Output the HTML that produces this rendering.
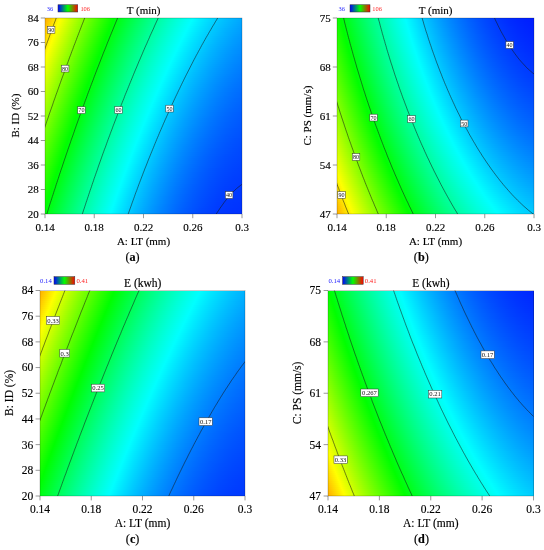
<!DOCTYPE html>
<html><head><meta charset="utf-8"><title>Contour plots</title>
<style>
html,body{margin:0;padding:0;background:#fff}
body{width:544px;height:550px;position:relative;overflow:hidden;font-family:"Liberation Serif",serif}
.h{position:absolute;overflow:hidden}
.h i{display:block;width:100%}
svg{position:absolute;left:0;top:0}
text{font-family:"Liberation Serif",serif;fill:#000;stroke:#000;stroke-width:.15}
.lb{text-anchor:middle;fill:#111;stroke:none}
.bx{fill:#fff;stroke:#333;stroke-width:.5}
.ct{fill:none;stroke:#181818;stroke-width:.55}
.tk{stroke:#555;stroke-width:.6;fill:none}
</style></head><body>
<div class="h" style="left:45px;top:18px;width:197px;height:196px"><i style="height:2px;background:linear-gradient(90deg,#ffad00 0%,#ffdb00 4.17%,#ff0 7.57%,#f7ff00 8.33%,#cf0 12.5%,#a3ff00 16.67%,#7bff00 20.83%,#54ff00 25%,#30ff00 29.17%,#0cff00 33.33%,#0f0 34.84%,#00ff15 37.5%,#00ff36 41.67%,#00ff54 45.83%,#00ff71 50%,#00ff8d 54.17%,#00ffa7 58.33%,#00ffbf 62.5%,#00ffd6 66.67%,#00ffec 70.83%,#0ff 74.81%,#00feff 75%,#00ecff 79.17%,#00dbff 83.33%,#0cf 87.5%,#00beff 91.67%,#00b2ff 95.83%,#00a7ff 100%)"></i><i style="height:2px;background:linear-gradient(90deg,#ffb100 0%,#ffdf00 4.17%,#ff0 7.19%,#f3ff00 8.33%,#c8ff00 12.5%,#9fff00 16.67%,#7f0 20.83%,#51ff00 25%,#2cff00 29.17%,#09ff00 33.33%,#0f0 34.43%,#00ff19 37.5%,#00ff39 41.67%,#00ff57 45.83%,#00ff74 50%,#00ff90 54.17%,#0fa 58.33%,#00ffc2 62.5%,#00ffd9 66.67%,#0fe 70.83%,#0ff 74.28%,#00fcff 75%,#00e9ff 79.17%,#00d9ff 83.33%,#00c9ff 87.5%,#00bcff 91.67%,#00b0ff 95.83%,#00a5ff 100%)"></i><i style="height:2px;background:linear-gradient(90deg,#ffb500 0%,#ffe300 4.17%,#ff0 6.81%,#efff00 8.33%,#c4ff00 12.5%,#9bff00 16.67%,#73ff00 20.83%,#4dff00 25%,#29ff00 29.17%,#06ff00 33.33%,#0f0 34.01%,#00ff1c 37.5%,#00ff3c 41.67%,#00ff5a 45.83%,#0f7 50%,#00ff93 54.17%,#00ffad 58.33%,#00ffc5 62.5%,#00ffdc 66.67%,#00fff1 70.83%,#0ff 73.75%,#00f9ff 75%,#00e7ff 79.17%,#00d6ff 83.33%,#00c7ff 87.5%,#00baff 91.67%,#00aeff 95.83%,#00a3ff 100%)"></i><i style="height:2px;background:linear-gradient(90deg,#ffb900 0%,#ffe700 4.17%,#ff0 6.43%,#ebff00 8.33%,#c0ff00 12.5%,#97ff00 16.67%,#70ff00 20.83%,#4aff00 25%,#25ff00 29.17%,#02ff00 33.33%,#0f0 33.6%,#00ff1f 37.5%,#00ff3f 41.67%,#00ff5e 45.83%,#00ff7a 50%,#00ff96 54.17%,#00ffaf 58.33%,#00ffc8 62.5%,#00ffde 66.67%,#00fff4 70.83%,#0ff 73.22%,#00f7ff 75%,#00e5ff 79.17%,#00d4ff 83.33%,#00c5ff 87.5%,#00b8ff 91.67%,#00acff 95.83%,#00a1ff 100%)"></i><i style="height:2px;background:linear-gradient(90deg,#ffbd00 0%,#ffeb00 4.17%,#ff0 6.05%,#e7ff00 8.33%,#bcff00 12.5%,#93ff00 16.67%,#6cff00 20.83%,#46ff00 25%,#2f0 29.17%,#0f0 33.18%,#00ff01 33.33%,#00ff23 37.5%,#00ff42 41.67%,#00ff61 45.83%,#00ff7d 50%,#0f9 54.17%,#00ffb2 58.33%,#00ffca 62.5%,#00ffe1 66.67%,#00fff6 70.83%,#0ff 72.69%,#00f4ff 75%,#00e2ff 79.17%,#00d2ff 83.33%,#00c3ff 87.5%,#00b6ff 91.67%,#0af 95.83%,#009fff 100%)"></i><i style="height:2px;background:linear-gradient(90deg,#ffc100 0%,#ffef00 4.17%,#ff0 5.67%,#e3ff00 8.33%,#b9ff00 12.5%,#90ff00 16.67%,#68ff00 20.83%,#42ff00 25%,#1eff00 29.17%,#0f0 32.77%,#00ff05 33.33%,#00ff26 37.5%,#00ff46 41.67%,#00ff64 45.83%,#00ff80 50%,#00ff9c 54.17%,#00ffb5 58.33%,#00ffcd 62.5%,#00ffe4 66.67%,#00fff9 70.83%,#0ff 72.17%,#00f2ff 75%,#00e0ff 79.17%,#00d0ff 83.33%,#00c1ff 87.5%,#00b3ff 91.67%,#00a8ff 95.83%,#009dff 100%)"></i><i style="height:2px;background:linear-gradient(90deg,#ffc600 0%,#fff300 4.17%,#ff0 5.29%,#dfff00 8.33%,#b5ff00 12.5%,#8cff00 16.67%,#65ff00 20.83%,#3fff00 25%,#1bff00 29.17%,#0f0 32.36%,#00ff08 33.33%,#00ff29 37.5%,#00ff49 41.67%,#00ff67 45.83%,#00ff83 50%,#00ff9e 54.17%,#00ffb8 58.33%,#00ffd0 62.5%,#00ffe6 66.67%,#00fffb 70.83%,#0ff 71.65%,#00f0ff 75%,#00deff 79.17%,#00cdff 83.33%,#00bfff 87.5%,#00b1ff 91.67%,#00a6ff 95.83%,#009cff 100%)"></i><i style="height:2px;background:linear-gradient(90deg,#ffca00 0%,#fff700 4.17%,#ff0 4.91%,#dbff00 8.33%,#b1ff00 12.5%,#8f0 16.67%,#61ff00 20.83%,#3bff00 25%,#17ff00 29.17%,#0f0 31.95%,#00ff0b 33.33%,#00ff2c 37.5%,#00ff4c 41.67%,#00ff6a 45.83%,#00ff86 50%,#00ffa1 54.17%,#0fb 58.33%,#00ffd2 62.5%,#00ffe9 66.67%,#00fffe 70.83%,#0ff 71.13%,#00edff 75%,#00dbff 79.17%,#00cbff 83.33%,#00bdff 87.5%,#00afff 91.67%,#00a4ff 95.83%,#009aff 100%)"></i><i style="height:2px;background:linear-gradient(90deg,#ffce00 0%,#fffb00 4.17%,#ff0 4.54%,#d7ff00 8.33%,#adff00 12.5%,#84ff00 16.67%,#5dff00 20.83%,#38ff00 25%,#14ff00 29.17%,#0f0 31.54%,#00ff0f 33.33%,#00ff30 37.5%,#00ff4f 41.67%,#00ff6d 45.83%,#00ff89 50%,#00ffa4 54.17%,#00ffbd 58.33%,#00ffd5 62.5%,#00ffeb 66.67%,#0ff 70.62%,#00feff 70.83%,#00ebff 75%,#00d9ff 79.17%,#00c9ff 83.33%,#0bf 87.5%,#00aeff 91.67%,#00a2ff 95.83%,#0098ff 100%)"></i><i style="height:2px;background:linear-gradient(90deg,#ffd200 0%,#ff0 4.16%,#ff0 4.17%,#d3ff00 8.33%,#a9ff00 12.5%,#81ff00 16.67%,#5aff00 20.83%,#34ff00 25%,#10ff00 29.17%,#0f0 31.13%,#00ff12 33.33%,#0f3 37.5%,#00ff52 41.67%,#00ff70 45.83%,#00ff8c 50%,#00ffa7 54.17%,#00ffc0 58.33%,#00ffd8 62.5%,#0fe 66.67%,#0ff 70.1%,#00fcff 70.83%,#00e8ff 75%,#00d7ff 79.17%,#00c7ff 83.33%,#00b8ff 87.5%,#00acff 91.67%,#00a0ff 95.83%,#0096ff 100%)"></i><i style="height:2px;background:linear-gradient(90deg,#ffd600 0%,#ff0 3.79%,#fbff00 4.17%,#d0ff00 8.33%,#a6ff00 12.5%,#7dff00 16.67%,#56ff00 20.83%,#31ff00 25%,#0dff00 29.17%,#0f0 30.73%,#00ff15 33.33%,#00ff36 37.5%,#0f5 41.67%,#00ff73 45.83%,#00ff8f 50%,#0fa 54.17%,#00ffc3 58.33%,#00ffda 62.5%,#00fff0 66.67%,#0ff 69.6%,#00f9ff 70.83%,#00e6ff 75%,#00d5ff 79.17%,#00c5ff 83.33%,#00b6ff 87.5%,#0af 91.67%,#009eff 95.83%,#0095ff 100%)"></i><i style="height:2px;background:linear-gradient(90deg,#ffda00 0%,#ff0 3.42%,#f7ff00 4.17%,#cf0 8.33%,#a2ff00 12.5%,#79ff00 16.67%,#53ff00 20.83%,#2dff00 25%,#0aff00 29.17%,#0f0 30.32%,#00ff19 33.33%,#00ff39 37.5%,#00ff58 41.67%,#00ff76 45.83%,#00ff92 50%,#00ffad 54.17%,#00ffc6 58.33%,#0fd 62.5%,#00fff3 66.67%,#0ff 69.09%,#00f7ff 70.83%,#00e4ff 75%,#00d2ff 79.17%,#00c3ff 83.33%,#00b4ff 87.5%,#00a8ff 91.67%,#009cff 95.83%,#0093ff 100%)"></i><i style="height:2px;background:linear-gradient(90deg,#ffde00 0%,#ff0 3.04%,#f3ff00 4.17%,#c8ff00 8.33%,#9eff00 12.5%,#76ff00 16.67%,#4fff00 20.83%,#2aff00 25%,#06ff00 29.17%,#0f0 29.92%,#00ff1c 33.33%,#00ff3c 37.5%,#00ff5b 41.67%,#00ff79 45.83%,#00ff95 50%,#00ffaf 54.17%,#00ffc8 58.33%,#00ffe0 62.5%,#00fff5 66.67%,#0ff 68.59%,#00f4ff 70.83%,#00e1ff 75%,#00d0ff 79.17%,#00c1ff 83.33%,#00b2ff 87.5%,#00a6ff 91.67%,#009bff 95.83%,#0091ff 100%)"></i><i style="height:2px;background:linear-gradient(90deg,#ffe200 0%,#ff0 2.67%,#efff00 4.17%,#c4ff00 8.33%,#9aff00 12.5%,#72ff00 16.67%,#4cff00 20.83%,#26ff00 25%,#03ff00 29.17%,#0f0 29.51%,#00ff1f 33.33%,#00ff40 37.5%,#00ff5f 41.67%,#00ff7c 45.83%,#00ff98 50%,#00ffb2 54.17%,#00ffcb 58.33%,#00ffe2 62.5%,#00fff8 66.67%,#0ff 68.09%,#00f2ff 70.83%,#00dfff 75%,#00ceff 79.17%,#00beff 83.33%,#00b0ff 87.5%,#00a4ff 91.67%,#09f 95.83%,#008fff 100%)"></i><i style="height:2px;background:linear-gradient(90deg,#ffe600 0%,#ff0 2.3%,#ebff00 4.17%,#c0ff00 8.33%,#97ff00 12.5%,#6eff00 16.67%,#48ff00 20.83%,#23ff00 25%,#0f0 29.11%,#0f0 29.17%,#0f2 33.33%,#00ff43 37.5%,#00ff62 41.67%,#00ff7f 45.83%,#00ff9b 50%,#00ffb5 54.17%,#00ffce 58.33%,#00ffe5 62.5%,#00fffa 66.67%,#0ff 67.59%,#00efff 70.83%,#0df 75%,#0cf 79.17%,#00bcff 83.33%,#00aeff 87.5%,#00a2ff 91.67%,#0097ff 95.83%,#008eff 100%)"></i><i style="height:2px;background:linear-gradient(90deg,#ffea00 0%,#ff0 1.93%,#e7ff00 4.17%,#bcff00 8.33%,#93ff00 12.5%,#6bff00 16.67%,#4f0 20.83%,#20ff00 25%,#0f0 28.71%,#00ff04 29.17%,#00ff26 33.33%,#00ff46 37.5%,#00ff65 41.67%,#00ff82 45.83%,#00ff9e 50%,#00ffb8 54.17%,#00ffd0 58.33%,#00ffe7 62.5%,#00fffd 66.67%,#0ff 67.09%,#00edff 70.83%,#00dbff 75%,#00caff 79.17%,#00baff 83.33%,#00acff 87.5%,#00a0ff 91.67%,#0095ff 95.83%,#008cff 100%)"></i><i style="height:2px;background:linear-gradient(90deg,#fe0 0%,#ff0 1.56%,#e3ff00 4.17%,#b9ff00 8.33%,#8fff00 12.5%,#67ff00 16.67%,#41ff00 20.83%,#1cff00 25%,#0f0 28.31%,#00ff07 29.17%,#00ff29 33.33%,#00ff49 37.5%,#00ff68 41.67%,#00ff85 45.83%,#00ffa0 50%,#00ffba 54.17%,#00ffd3 58.33%,#00ffea 62.5%,#0ff 66.6%,#0ff 66.67%,#00ebff 70.83%,#00d8ff 75%,#00c8ff 79.17%,#00b8ff 83.33%,#0af 87.5%,#009eff 91.67%,#0093ff 95.83%,#008aff 100%)"></i><i style="height:2px;background:linear-gradient(90deg,#fff200 0%,#ff0 1.19%,#dfff00 4.17%,#b5ff00 8.33%,#8bff00 12.5%,#64ff00 16.67%,#3dff00 20.83%,#19ff00 25%,#0f0 27.92%,#00ff0a 29.17%,#00ff2c 33.33%,#00ff4c 37.5%,#00ff6b 41.67%,#0f8 45.83%,#00ffa3 50%,#00ffbd 54.17%,#00ffd6 58.33%,#00ffec 62.5%,#0ff 66.11%,#00fcff 66.67%,#00e8ff 70.83%,#00d6ff 75%,#00c5ff 79.17%,#00b6ff 83.33%,#00a8ff 87.5%,#009cff 91.67%,#0092ff 95.83%,#0089ff 100%)"></i><i style="height:2px;background:linear-gradient(90deg,#fff600 0%,#ff0 0.83%,#dcff00 4.17%,#b1ff00 8.33%,#8f0 12.5%,#60ff00 16.67%,#3aff00 20.83%,#15ff00 25%,#0f0 27.52%,#00ff0e 29.17%,#00ff2f 33.33%,#00ff4f 37.5%,#00ff6e 41.67%,#00ff8b 45.83%,#00ffa6 50%,#00ffc0 54.17%,#00ffd8 58.33%,#00ffef 62.5%,#0ff 65.62%,#00faff 66.67%,#00e6ff 70.83%,#00d4ff 75%,#00c3ff 79.17%,#00b4ff 83.33%,#00a7ff 87.5%,#009aff 91.67%,#0090ff 95.83%,#0087ff 100%)"></i><i style="height:2px;background:linear-gradient(90deg,#fffa00 0%,#ff0 0.46%,#d8ff00 4.17%,#adff00 8.33%,#84ff00 12.5%,#5cff00 16.67%,#37ff00 20.83%,#12ff00 25%,#0f0 27.12%,#0f1 29.17%,#00ff32 33.33%,#00ff52 37.5%,#00ff71 41.67%,#00ff8d 45.83%,#00ffa9 50%,#00ffc3 54.17%,#00ffdb 58.33%,#00fff1 62.5%,#0ff 65.14%,#00f7ff 66.67%,#00e4ff 70.83%,#00d2ff 75%,#00c1ff 79.17%,#00b2ff 83.33%,#00a5ff 87.5%,#09f 91.67%,#008eff 95.83%,#0085ff 100%)"></i><i style="height:2px;background:linear-gradient(90deg,#fffe00 0%,#ff0 0.09%,#d4ff00 4.17%,#a9ff00 8.33%,#80ff00 12.5%,#59ff00 16.67%,#3f0 20.83%,#0fff00 25%,#0f0 26.73%,#00ff14 29.17%,#00ff36 33.33%,#0f5 37.5%,#00ff74 41.67%,#00ff90 45.83%,#00ffac 50%,#00ffc5 54.17%,#0fd 58.33%,#00fff4 62.5%,#0ff 64.65%,#00f5ff 66.67%,#00e2ff 70.83%,#00cfff 75%,#00bfff 79.17%,#00b0ff 83.33%,#00a3ff 87.5%,#0097ff 91.67%,#008dff 95.83%,#0084ff 100%)"></i><i style="height:2px;background:linear-gradient(90deg,#fcff00 0%,#d0ff00 4.17%,#a6ff00 8.33%,#7dff00 12.5%,#5f0 16.67%,#30ff00 20.83%,#0bff00 25%,#0f0 26.33%,#00ff17 29.17%,#00ff39 33.33%,#00ff58 37.5%,#0f7 41.67%,#00ff93 45.83%,#00ffae 50%,#00ffc8 54.17%,#00ffe0 58.33%,#00fff6 62.5%,#0ff 64.17%,#00f3ff 66.67%,#00dfff 70.83%,#00cdff 75%,#00bdff 79.17%,#00aeff 83.33%,#00a1ff 87.5%,#0095ff 91.67%,#008bff 95.83%,#0082ff 100%)"></i><i style="height:2px;background:linear-gradient(90deg,#f8ff00 0%,#cf0 4.17%,#a2ff00 8.33%,#79ff00 12.5%,#52ff00 16.67%,#2cff00 20.83%,#08ff00 25%,#0f0 25.94%,#00ff1b 29.17%,#00ff3c 33.33%,#00ff5b 37.5%,#00ff7a 41.67%,#00ff96 45.83%,#00ffb1 50%,#00ffcb 54.17%,#00ffe2 58.33%,#00fff9 62.5%,#0ff 63.7%,#00f0ff 66.67%,#0df 70.83%,#00cbff 75%,#0bf 79.17%,#00acff 83.33%,#009fff 87.5%,#0093ff 91.67%,#0089ff 95.83%,#0081ff 100%)"></i><i style="height:2px;background:linear-gradient(90deg,#f4ff00 0%,#c8ff00 4.17%,#9eff00 8.33%,#76ff00 12.5%,#4eff00 16.67%,#29ff00 20.83%,#05ff00 25%,#0f0 25.55%,#00ff1e 29.17%,#00ff3f 33.33%,#00ff5e 37.5%,#00ff7c 41.67%,#0f9 45.83%,#00ffb4 50%,#00ffcd 54.17%,#00ffe5 58.33%,#00fffb 62.5%,#0ff 63.22%,#0ef 66.67%,#00dbff 70.83%,#00c9ff 75%,#00b9ff 79.17%,#0af 83.33%,#009dff 87.5%,#0091ff 91.67%,#0087ff 95.83%,#007fff 100%)"></i><i style="height:2px;background:linear-gradient(90deg,#f0ff00 0%,#c5ff00 4.17%,#9bff00 8.33%,#72ff00 12.5%,#4bff00 16.67%,#25ff00 20.83%,#01ff00 25%,#0f0 25.16%,#00ff21 29.17%,#00ff42 33.33%,#00ff61 37.5%,#00ff7f 41.67%,#00ff9c 45.83%,#00ffb7 50%,#00ffd0 54.17%,#00ffe8 58.33%,#00fffe 62.5%,#0ff 62.75%,#00ecff 66.67%,#00d8ff 70.83%,#00c7ff 75%,#00b7ff 79.17%,#00a8ff 83.33%,#009bff 87.5%,#0090ff 91.67%,#0086ff 95.83%,#007dff 100%)"></i><i style="height:2px;background:linear-gradient(90deg,#edff00 0%,#c1ff00 4.17%,#97ff00 8.33%,#6eff00 12.5%,#47ff00 16.67%,#2f0 20.83%,#0f0 24.77%,#00ff02 25%,#00ff24 29.17%,#00ff45 33.33%,#00ff64 37.5%,#00ff82 41.67%,#00ff9e 45.83%,#00ffb9 50%,#00ffd2 54.17%,#00ffea 58.33%,#0ff 62.28%,#00feff 62.5%,#00e9ff 66.67%,#00d6ff 70.83%,#00c5ff 75%,#00b5ff 79.17%,#00a6ff 83.33%,#09f 87.5%,#008eff 91.67%,#0084ff 95.83%,#007cff 100%)"></i><i style="height:2px;background:linear-gradient(90deg,#e9ff00 0%,#bdff00 4.17%,#93ff00 8.33%,#6bff00 12.5%,#4f0 16.67%,#1fff00 20.83%,#0f0 24.38%,#00ff05 25%,#00ff28 29.17%,#00ff48 33.33%,#00ff67 37.5%,#00ff85 41.67%,#00ffa1 45.83%,#00ffbc 50%,#00ffd5 54.17%,#00ffed 58.33%,#0ff 61.81%,#00fbff 62.5%,#00e7ff 66.67%,#00d4ff 70.83%,#00c3ff 75%,#00b3ff 79.17%,#00a4ff 83.33%,#0098ff 87.5%,#008cff 91.67%,#0083ff 95.83%,#007aff 100%)"></i><i style="height:2px;background:linear-gradient(90deg,#e5ff00 0%,#b9ff00 4.17%,#90ff00 8.33%,#67ff00 12.5%,#40ff00 16.67%,#1bff00 20.83%,#0f0 24%,#00ff08 25%,#00ff2b 29.17%,#00ff4b 33.33%,#00ff6a 37.5%,#0f8 41.67%,#00ffa4 45.83%,#00ffbf 50%,#00ffd8 54.17%,#00ffef 58.33%,#0ff 61.34%,#00f9ff 62.5%,#00e5ff 66.67%,#00d2ff 70.83%,#00c0ff 75%,#00b1ff 79.17%,#00a2ff 83.33%,#0096ff 87.5%,#008bff 91.67%,#0081ff 95.83%,#0079ff 100%)"></i><i style="height:2px;background:linear-gradient(90deg,#e1ff00 0%,#b6ff00 4.17%,#8cff00 8.33%,#64ff00 12.5%,#3dff00 16.67%,#18ff00 20.83%,#0f0 23.61%,#00ff0c 25%,#00ff2e 29.17%,#00ff4e 33.33%,#00ff6d 37.5%,#00ff8b 41.67%,#00ffa7 45.83%,#00ffc1 50%,#00ffda 54.17%,#00fff1 58.33%,#0ff 60.88%,#00f7ff 62.5%,#00e2ff 66.67%,#00d0ff 70.83%,#00beff 75%,#00afff 79.17%,#00a1ff 83.33%,#0094ff 87.5%,#0089ff 91.67%,#007fff 95.83%,#07f 100%)"></i><i style="height:2px;background:linear-gradient(90deg,#df0 0%,#b2ff00 4.17%,#8f0 8.33%,#60ff00 12.5%,#3aff00 16.67%,#15ff00 20.83%,#0f0 23.23%,#00ff0f 25%,#00ff31 29.17%,#00ff51 33.33%,#00ff70 37.5%,#00ff8e 41.67%,#0fa 45.83%,#00ffc4 50%,#0fd 54.17%,#00fff4 58.33%,#0ff 60.41%,#00f4ff 62.5%,#00e0ff 66.67%,#00cdff 70.83%,#00bcff 75%,#00adff 79.17%,#009fff 83.33%,#0092ff 87.5%,#0087ff 91.67%,#007eff 95.83%,#0076ff 100%)"></i><i style="height:2px;background:linear-gradient(90deg,#d9ff00 0%,#aeff00 4.17%,#85ff00 8.33%,#5dff00 12.5%,#36ff00 16.67%,#1f0 20.83%,#0f0 22.84%,#00ff12 25%,#00ff34 29.17%,#00ff54 33.33%,#00ff73 37.5%,#00ff91 41.67%,#00ffac 45.83%,#00ffc7 50%,#00ffdf 54.17%,#00fff6 58.33%,#0ff 59.95%,#00f2ff 62.5%,#00deff 66.67%,#00cbff 70.83%,#00baff 75%,#00abff 79.17%,#009dff 83.33%,#0090ff 87.5%,#0085ff 91.67%,#007cff 95.83%,#0074ff 100%)"></i><i style="height:2px;background:linear-gradient(90deg,#d6ff00 0%,#abff00 4.17%,#81ff00 8.33%,#59ff00 12.5%,#3f0 16.67%,#0eff00 20.83%,#0f0 22.46%,#00ff15 25%,#00ff37 29.17%,#00ff57 33.33%,#00ff76 37.5%,#00ff93 41.67%,#00ffaf 45.83%,#00ffc9 50%,#00ffe2 54.17%,#00fff9 58.33%,#0ff 59.5%,#00f0ff 62.5%,#00dcff 66.67%,#00c9ff 70.83%,#00b8ff 75%,#00a9ff 79.17%,#009bff 83.33%,#008fff 87.5%,#0084ff 91.67%,#007bff 95.83%,#0073ff 100%)"></i><i style="height:2px;background:linear-gradient(90deg,#d2ff00 0%,#a7ff00 4.17%,#7eff00 8.33%,#56ff00 12.5%,#2fff00 16.67%,#0bff00 20.83%,#0f0 22.08%,#00ff19 25%,#00ff3a 29.17%,#00ff5a 33.33%,#00ff79 37.5%,#00ff96 41.67%,#00ffb2 45.83%,#0fc 50%,#00ffe4 54.17%,#00fffb 58.33%,#0ff 59.04%,#00edff 62.5%,#00d9ff 66.67%,#00c7ff 70.83%,#00b6ff 75%,#00a7ff 79.17%,#09f 83.33%,#008dff 87.5%,#0082ff 91.67%,#0079ff 95.83%,#0071ff 100%)"></i><i style="height:2px;background:linear-gradient(90deg,#ceff00 0%,#a3ff00 4.17%,#7aff00 8.33%,#52ff00 12.5%,#2cff00 16.67%,#07ff00 20.83%,#0f0 21.7%,#00ff1c 25%,#00ff3d 29.17%,#00ff5d 33.33%,#00ff7c 37.5%,#0f9 41.67%,#00ffb4 45.83%,#00ffce 50%,#00ffe7 54.17%,#00fffe 58.33%,#0ff 58.59%,#00ebff 62.5%,#00d7ff 66.67%,#00c5ff 70.83%,#00b4ff 75%,#00a5ff 79.17%,#0097ff 83.33%,#008bff 87.5%,#0081ff 91.67%,#07f 95.83%,#0070ff 100%)"></i><i style="height:2px;background:linear-gradient(90deg,#caff00 0%,#a0ff00 4.17%,#7f0 8.33%,#4fff00 12.5%,#29ff00 16.67%,#04ff00 20.83%,#0f0 21.32%,#00ff1f 25%,#00ff40 29.17%,#00ff60 33.33%,#00ff7f 37.5%,#00ff9c 41.67%,#00ffb7 45.83%,#00ffd1 50%,#00ffe9 54.17%,#0ff 58.14%,#00feff 58.33%,#00e9ff 62.5%,#00d5ff 66.67%,#00c3ff 70.83%,#00b2ff 75%,#00a3ff 79.17%,#0096ff 83.33%,#0089ff 87.5%,#007fff 91.67%,#0076ff 95.83%,#006fff 100%)"></i><i style="height:2px;background:linear-gradient(90deg,#c7ff00 0%,#9cff00 4.17%,#73ff00 8.33%,#4bff00 12.5%,#25ff00 16.67%,#01ff00 20.83%,#0f0 20.94%,#0f2 25%,#00ff43 29.17%,#00ff63 33.33%,#00ff82 37.5%,#00ff9f 41.67%,#00ffba 45.83%,#00ffd4 50%,#00ffec 54.17%,#0ff 57.69%,#00fcff 58.33%,#00e6ff 62.5%,#00d3ff 66.67%,#00c1ff 70.83%,#00b0ff 75%,#00a1ff 79.17%,#0094ff 83.33%,#08f 87.5%,#007dff 91.67%,#0074ff 95.83%,#006dff 100%)"></i><i style="height:2px;background:linear-gradient(90deg,#c3ff00 0%,#98ff00 4.17%,#6fff00 8.33%,#48ff00 12.5%,#2f0 16.67%,#0f0 20.56%,#00ff02 20.83%,#00ff25 25%,#00ff47 29.17%,#0f6 33.33%,#00ff85 37.5%,#00ffa1 41.67%,#00ffbc 45.83%,#00ffd6 50%,#0fe 54.17%,#0ff 57.24%,#00f9ff 58.33%,#00e4ff 62.5%,#00d1ff 66.67%,#00bfff 70.83%,#00aeff 75%,#009fff 79.17%,#0092ff 83.33%,#0086ff 87.5%,#007cff 91.67%,#0073ff 95.83%,#006cff 100%)"></i><i style="height:2px;background:linear-gradient(90deg,#bfff00 0%,#95ff00 4.17%,#6cff00 8.33%,#45ff00 12.5%,#1fff00 16.67%,#0f0 20.19%,#00ff05 20.83%,#00ff28 25%,#00ff4a 29.17%,#00ff69 33.33%,#00ff87 37.5%,#00ffa4 41.67%,#00ffbf 45.83%,#00ffd9 50%,#00fff1 54.17%,#0ff 56.8%,#00f7ff 58.33%,#00e2ff 62.5%,#00ceff 66.67%,#00bdff 70.83%,#00acff 75%,#009dff 79.17%,#0090ff 83.33%,#0084ff 87.5%,#007aff 91.67%,#0071ff 95.83%,#006aff 100%)"></i><i style="height:2px;background:linear-gradient(90deg,#bcff00 0%,#91ff00 4.17%,#68ff00 8.33%,#41ff00 12.5%,#1bff00 16.67%,#0f0 19.81%,#00ff09 20.83%,#00ff2b 25%,#00ff4d 29.17%,#00ff6c 33.33%,#00ff8a 37.5%,#00ffa7 41.67%,#00ffc2 45.83%,#00ffdb 50%,#00fff3 54.17%,#0ff 56.35%,#00f5ff 58.33%,#00e0ff 62.5%,#0cf 66.67%,#0bf 70.83%,#0af 75%,#009cff 79.17%,#008eff 83.33%,#0083ff 87.5%,#0079ff 91.67%,#0070ff 95.83%,#0069ff 100%)"></i><i style="height:2px;background:linear-gradient(90deg,#b8ff00 0%,#8eff00 4.17%,#65ff00 8.33%,#3eff00 12.5%,#18ff00 16.67%,#0f0 19.44%,#00ff0c 20.83%,#00ff2e 25%,#00ff50 29.17%,#00ff6f 33.33%,#00ff8d 37.5%,#00ffa9 41.67%,#00ffc4 45.83%,#00ffde 50%,#00fff5 54.17%,#0ff 55.91%,#00f2ff 58.33%,#0df 62.5%,#00caff 66.67%,#00b9ff 70.83%,#00a8ff 75%,#009aff 79.17%,#008dff 83.33%,#0081ff 87.5%,#07f 91.67%,#006fff 95.83%,#0068ff 100%)"></i><i style="height:2px;background:linear-gradient(90deg,#b4ff00 0%,#8aff00 4.17%,#62ff00 8.33%,#3aff00 12.5%,#15ff00 16.67%,#0f0 19.07%,#00ff0f 20.83%,#00ff32 25%,#00ff53 29.17%,#00ff72 33.33%,#00ff90 37.5%,#00ffac 41.67%,#00ffc7 45.83%,#00ffe0 50%,#00fff8 54.17%,#0ff 55.47%,#00f0ff 58.33%,#00dbff 62.5%,#00c8ff 66.67%,#00b7ff 70.83%,#00a6ff 75%,#0098ff 79.17%,#008bff 83.33%,#007fff 87.5%,#0076ff 91.67%,#006dff 95.83%,#06f 100%)"></i><i style="height:2px;background:linear-gradient(90deg,#b1ff00 0%,#87ff00 4.17%,#5eff00 8.33%,#37ff00 12.5%,#12ff00 16.67%,#0f0 18.69%,#00ff12 20.83%,#00ff35 25%,#0f5 29.17%,#00ff75 33.33%,#00ff93 37.5%,#00ffaf 41.67%,#00ffc9 45.83%,#00ffe3 50%,#00fffa 54.17%,#0ff 55.04%,#0ef 58.33%,#00d9ff 62.5%,#00c6ff 66.67%,#00b5ff 70.83%,#00a5ff 75%,#0096ff 79.17%,#0089ff 83.33%,#007eff 87.5%,#0074ff 91.67%,#006cff 95.83%,#0065ff 100%)"></i><i style="height:2px;background:linear-gradient(90deg,#adff00 0%,#83ff00 4.17%,#5bff00 8.33%,#34ff00 12.5%,#0eff00 16.67%,#0f0 18.32%,#00ff15 20.83%,#00ff38 25%,#00ff58 29.17%,#00ff78 33.33%,#00ff95 37.5%,#00ffb1 41.67%,#0fc 45.83%,#00ffe5 50%,#00fffd 54.17%,#0ff 54.6%,#00ebff 58.33%,#00d7ff 62.5%,#00c4ff 66.67%,#00b3ff 70.83%,#00a3ff 75%,#0094ff 79.17%,#08f 83.33%,#007cff 87.5%,#0073ff 91.67%,#006aff 95.83%,#0064ff 100%)"></i><i style="height:2px;background:linear-gradient(90deg,#a9ff00 0%,#7fff00 4.17%,#57ff00 8.33%,#30ff00 12.5%,#0bff00 16.67%,#0f0 17.95%,#00ff18 20.83%,#00ff3b 25%,#00ff5b 29.17%,#00ff7a 33.33%,#00ff98 37.5%,#00ffb4 41.67%,#00ffcf 45.83%,#00ffe8 50%,#0ff 54.17%,#00e9ff 58.33%,#00d5ff 62.5%,#00c2ff 66.67%,#00b1ff 70.83%,#00a1ff 75%,#0093ff 79.17%,#0086ff 83.33%,#007bff 87.5%,#0071ff 91.67%,#0069ff 95.83%,#0062ff 100%)"></i><i style="height:2px;background:linear-gradient(90deg,#a6ff00 0%,#7cff00 4.17%,#54ff00 8.33%,#2dff00 12.5%,#08ff00 16.67%,#0f0 17.59%,#00ff1c 20.83%,#00ff3e 25%,#00ff5e 29.17%,#00ff7d 33.33%,#00ff9b 37.5%,#00ffb7 41.67%,#00ffd1 45.83%,#00ffea 50%,#0ff 53.74%,#00fdff 54.17%,#00e7ff 58.33%,#00d3ff 62.5%,#00c0ff 66.67%,#00afff 70.83%,#009fff 75%,#0091ff 79.17%,#0084ff 83.33%,#0079ff 87.5%,#0070ff 91.67%,#0068ff 95.83%,#0061ff 100%)"></i><i style="height:2px;background:linear-gradient(90deg,#a2ff00 0%,#79ff00 4.17%,#50ff00 8.33%,#2aff00 12.5%,#05ff00 16.67%,#0f0 17.22%,#00ff1f 20.83%,#00ff41 25%,#00ff61 29.17%,#00ff80 33.33%,#00ff9d 37.5%,#00ffb9 41.67%,#00ffd4 45.83%,#00ffec 50%,#0ff 53.31%,#00faff 54.17%,#00e5ff 58.33%,#00d0ff 62.5%,#00beff 66.67%,#00adff 70.83%,#009dff 75%,#008fff 79.17%,#0083ff 83.33%,#0078ff 87.5%,#006eff 91.67%,#06f 95.83%,#0060ff 100%)"></i><i style="height:2px;background:linear-gradient(90deg,#9fff00 0%,#75ff00 4.17%,#4dff00 8.33%,#27ff00 12.5%,#02ff00 16.67%,#0f0 16.85%,#0f2 20.83%,#0f4 25%,#00ff64 29.17%,#00ff83 33.33%,#00ffa0 37.5%,#00ffbc 41.67%,#00ffd6 45.83%,#00ffef 50%,#0ff 52.88%,#00f8ff 54.17%,#00e2ff 58.33%,#00ceff 62.5%,#00bcff 66.67%,#00abff 70.83%,#009bff 75%,#008dff 79.17%,#0081ff 83.33%,#0076ff 87.5%,#006dff 91.67%,#0065ff 95.83%,#005fff 100%)"></i><i style="height:2px;background:linear-gradient(90deg,#9bff00 0%,#72ff00 4.17%,#4aff00 8.33%,#23ff00 12.5%,#0f0 16.49%,#00ff02 16.67%,#00ff25 20.83%,#00ff47 25%,#00ff67 29.17%,#00ff86 33.33%,#00ffa3 37.5%,#00ffbf 41.67%,#00ffd9 45.83%,#00fff1 50%,#0ff 52.46%,#00f6ff 54.17%,#00e0ff 58.33%,#0cf 62.5%,#00baff 66.67%,#00a9ff 70.83%,#09f 75%,#008cff 79.17%,#007fff 83.33%,#0074ff 87.5%,#006bff 91.67%,#0063ff 95.83%,#005dff 100%)"></i><i style="height:2px;background:linear-gradient(90deg,#98ff00 0%,#6eff00 4.17%,#46ff00 8.33%,#20ff00 12.5%,#0f0 16.12%,#00ff05 16.67%,#00ff28 20.83%,#00ff4a 25%,#00ff6a 29.17%,#0f8 33.33%,#00ffa6 37.5%,#00ffc1 41.67%,#00ffdb 45.83%,#00fff4 50%,#0ff 52.03%,#00f3ff 54.17%,#00deff 58.33%,#00caff 62.5%,#00b8ff 66.67%,#00a7ff 70.83%,#0098ff 75%,#008aff 79.17%,#007eff 83.33%,#0073ff 87.5%,#006aff 91.67%,#0062ff 95.83%,#005cff 100%)"></i><i style="height:2px;background:linear-gradient(90deg,#94ff00 0%,#6bff00 4.17%,#43ff00 8.33%,#1dff00 12.5%,#0f0 15.76%,#00ff08 16.67%,#00ff2b 20.83%,#00ff4d 25%,#00ff6d 29.17%,#00ff8b 33.33%,#00ffa8 37.5%,#00ffc4 41.67%,#00ffde 45.83%,#00fff6 50%,#0ff 51.61%,#00f1ff 54.17%,#00dcff 58.33%,#00c8ff 62.5%,#00b6ff 66.67%,#00a5ff 70.83%,#0096ff 75%,#08f 79.17%,#007cff 83.33%,#0071ff 87.5%,#0068ff 91.67%,#0061ff 95.83%,#005bff 100%)"></i><i style="height:2px;background:linear-gradient(90deg,#90ff00 0%,#67ff00 4.17%,#40ff00 8.33%,#1aff00 12.5%,#0f0 15.4%,#00ff0b 16.67%,#00ff2e 20.83%,#00ff50 25%,#00ff70 29.17%,#00ff8e 33.33%,#00ffab 37.5%,#00ffc6 41.67%,#00ffe0 45.83%,#00fff8 50%,#0ff 51.19%,#00efff 54.17%,#00daff 58.33%,#00c6ff 62.5%,#00b4ff 66.67%,#00a3ff 70.83%,#0094ff 75%,#0086ff 79.17%,#007aff 83.33%,#0070ff 87.5%,#0067ff 91.67%,#0060ff 95.83%,#005aff 100%)"></i><i style="height:2px;background:linear-gradient(90deg,#8dff00 0%,#64ff00 4.17%,#3cff00 8.33%,#16ff00 12.5%,#0f0 15.03%,#00ff0e 16.67%,#00ff31 20.83%,#00ff52 25%,#00ff72 29.17%,#00ff91 33.33%,#00ffad 37.5%,#00ffc9 41.67%,#00ffe2 45.83%,#00fffb 50%,#0ff 50.78%,#00edff 54.17%,#00d8ff 58.33%,#00c4ff 62.5%,#00b2ff 66.67%,#00a1ff 70.83%,#0092ff 75%,#0085ff 79.17%,#0079ff 83.33%,#006eff 87.5%,#06f 91.67%,#005eff 95.83%,#0058ff 100%)"></i><i style="height:2px;background:linear-gradient(90deg,#89ff00 0%,#60ff00 4.17%,#39ff00 8.33%,#13ff00 12.5%,#0f0 14.67%,#0f1 16.67%,#00ff34 20.83%,#0f5 25%,#00ff75 29.17%,#00ff93 33.33%,#00ffb0 37.5%,#00ffcb 41.67%,#00ffe5 45.83%,#00fffd 50%,#0ff 50.36%,#00eaff 54.17%,#00d5ff 58.33%,#00c2ff 62.5%,#00b0ff 66.67%,#009fff 70.83%,#0091ff 75%,#0083ff 79.17%,#07f 83.33%,#006dff 87.5%,#0064ff 91.67%,#005dff 95.83%,#0057ff 100%)"></i><i style="height:2px;background:linear-gradient(90deg,#86ff00 0%,#5dff00 4.17%,#36ff00 8.33%,#10ff00 12.5%,#0f0 14.31%,#00ff14 16.67%,#00ff37 20.83%,#00ff58 25%,#00ff78 29.17%,#00ff96 33.33%,#00ffb3 37.5%,#00ffce 41.67%,#00ffe7 45.83%,#0ff 49.94%,#0ff 50%,#00e8ff 54.17%,#00d3ff 58.33%,#00c0ff 62.5%,#00aeff 66.67%,#009eff 70.83%,#008fff 75%,#0082ff 79.17%,#0076ff 83.33%,#006cff 87.5%,#0063ff 91.67%,#005cff 95.83%,#0056ff 100%)"></i><i style="height:2px;background:linear-gradient(90deg,#83ff00 0%,#5aff00 4.17%,#3f0 8.33%,#0dff00 12.5%,#0f0 13.96%,#00ff17 16.67%,#00ff3a 20.83%,#00ff5b 25%,#00ff7b 29.17%,#0f9 33.33%,#00ffb5 37.5%,#00ffd0 41.67%,#00ffea 45.83%,#0ff 49.53%,#00fcff 50%,#00e6ff 54.17%,#00d1ff 58.33%,#00beff 62.5%,#00acff 66.67%,#009cff 70.83%,#008dff 75%,#0080ff 79.17%,#0074ff 83.33%,#006aff 87.5%,#0062ff 91.67%,#005bff 95.83%,#05f 100%)"></i><i style="height:2px;background:linear-gradient(90deg,#7fff00 0%,#56ff00 4.17%,#2fff00 8.33%,#0aff00 12.5%,#0f0 13.6%,#00ff1a 16.67%,#00ff3d 20.83%,#00ff5e 25%,#00ff7d 29.17%,#00ff9b 33.33%,#00ffb8 37.5%,#00ffd3 41.67%,#00ffec 45.83%,#0ff 49.12%,#00faff 50%,#00e4ff 54.17%,#00cfff 58.33%,#00bcff 62.5%,#0af 66.67%,#009aff 70.83%,#008bff 75%,#007eff 79.17%,#0073ff 83.33%,#0069ff 87.5%,#0060ff 91.67%,#0059ff 95.83%,#0054ff 100%)"></i><i style="height:2px;background:linear-gradient(90deg,#7cff00 0%,#53ff00 4.17%,#2cff00 8.33%,#07ff00 12.5%,#0f0 13.24%,#00ff1d 16.67%,#00ff40 20.83%,#00ff61 25%,#00ff80 29.17%,#00ff9e 33.33%,#00ffba 37.5%,#00ffd5 41.67%,#0fe 45.83%,#0ff 48.71%,#00f8ff 50%,#00e2ff 54.17%,#00cdff 58.33%,#00baff 62.5%,#00a8ff 66.67%,#0098ff 70.83%,#008aff 75%,#007dff 79.17%,#0071ff 83.33%,#0067ff 87.5%,#005fff 91.67%,#0058ff 95.83%,#0053ff 100%)"></i><i style="height:2px;background:linear-gradient(90deg,#78ff00 0%,#50ff00 4.17%,#29ff00 8.33%,#03ff00 12.5%,#0f0 12.89%,#00ff21 16.67%,#00ff43 20.83%,#00ff64 25%,#00ff83 29.17%,#00ffa1 33.33%,#00ffbd 37.5%,#00ffd8 41.67%,#00fff1 45.83%,#0ff 48.31%,#00f6ff 50%,#00dfff 54.17%,#00cbff 58.33%,#00b8ff 62.5%,#00a6ff 66.67%,#0096ff 70.83%,#08f 75%,#007bff 79.17%,#0070ff 83.33%,#06f 87.5%,#005eff 91.67%,#0057ff 95.83%,#0052ff 100%)"></i><i style="height:2px;background:linear-gradient(90deg,#75ff00 0%,#4cff00 4.17%,#26ff00 8.33%,#0f0 12.5%,#0f0 12.53%,#00ff24 16.67%,#00ff46 20.83%,#0f6 25%,#00ff86 29.17%,#00ffa3 33.33%,#00ffbf 37.5%,#00ffda 41.67%,#00fff3 45.83%,#0ff 47.9%,#00f3ff 50%,#0df 54.17%,#00c9ff 58.33%,#00b6ff 62.5%,#00a5ff 66.67%,#0095ff 70.83%,#0086ff 75%,#007aff 79.17%,#006eff 83.33%,#0065ff 87.5%,#005cff 91.67%,#0056ff 95.83%,#0051ff 100%)"></i><i style="height:2px;background:linear-gradient(90deg,#71ff00 0%,#49ff00 4.17%,#2f0 8.33%,#0f0 12.18%,#00ff03 12.5%,#00ff27 16.67%,#00ff49 20.83%,#00ff69 25%,#0f8 29.17%,#00ffa6 33.33%,#00ffc2 37.5%,#0fd 41.67%,#00fff5 45.83%,#0ff 47.5%,#00f1ff 50%,#00dbff 54.17%,#00c7ff 58.33%,#00b4ff 62.5%,#00a3ff 66.67%,#0093ff 70.83%,#0085ff 75%,#0078ff 79.17%,#006dff 83.33%,#0063ff 87.5%,#005bff 91.67%,#05f 95.83%,#0050ff 100%)"></i><i style="height:2px;background:linear-gradient(90deg,#6eff00 0%,#46ff00 4.17%,#1fff00 8.33%,#0f0 11.83%,#00ff06 12.5%,#00ff2a 16.67%,#00ff4c 20.83%,#00ff6c 25%,#00ff8b 29.17%,#00ffa9 33.33%,#00ffc5 37.5%,#00ffdf 41.67%,#00fff8 45.83%,#0ff 47.1%,#00efff 50%,#00d9ff 54.17%,#00c5ff 58.33%,#00b2ff 62.5%,#00a1ff 66.67%,#0091ff 70.83%,#0083ff 75%,#0076ff 79.17%,#006bff 83.33%,#0062ff 87.5%,#005aff 91.67%,#0053ff 95.83%,#004eff 100%)"></i><i style="height:2px;background:linear-gradient(90deg,#6bff00 0%,#43ff00 4.17%,#1cff00 8.33%,#0f0 11.48%,#00ff09 12.5%,#00ff2c 16.67%,#00ff4e 20.83%,#00ff6f 25%,#00ff8e 29.17%,#00ffab 33.33%,#00ffc7 37.5%,#00ffe1 41.67%,#00fffa 45.83%,#0ff 46.69%,#00edff 50%,#00d7ff 54.17%,#00c3ff 58.33%,#00b0ff 62.5%,#009fff 66.67%,#0090ff 70.83%,#0081ff 75%,#0075ff 79.17%,#006aff 83.33%,#0061ff 87.5%,#0059ff 91.67%,#0052ff 95.83%,#004dff 100%)"></i><i style="height:2px;background:linear-gradient(90deg,#67ff00 0%,#3fff00 4.17%,#19ff00 8.33%,#0f0 11.13%,#00ff0c 12.5%,#00ff2f 16.67%,#00ff51 20.83%,#00ff72 25%,#00ff90 29.17%,#00ffae 33.33%,#00ffc9 37.5%,#00ffe4 41.67%,#00fffc 45.83%,#0ff 46.3%,#00ebff 50%,#00d5ff 54.17%,#00c1ff 58.33%,#00aeff 62.5%,#009dff 66.67%,#008eff 70.83%,#0080ff 75%,#0073ff 79.17%,#0069ff 83.33%,#005fff 87.5%,#0057ff 91.67%,#0051ff 95.83%,#004cff 100%)"></i><i style="height:2px;background:linear-gradient(90deg,#64ff00 0%,#3cff00 4.17%,#16ff00 8.33%,#0f0 10.78%,#00ff0f 12.5%,#00ff32 16.67%,#00ff54 20.83%,#00ff74 25%,#00ff93 29.17%,#00ffb0 33.33%,#0fc 37.5%,#00ffe6 41.67%,#0ff 45.83%,#0ff 45.9%,#00e8ff 50%,#00d3ff 54.17%,#00bfff 58.33%,#00acff 62.5%,#009bff 66.67%,#008cff 70.83%,#007eff 75%,#0072ff 79.17%,#0067ff 83.33%,#005eff 87.5%,#0056ff 91.67%,#0050ff 95.83%,#004bff 100%)"></i><i style="height:2px;background:linear-gradient(90deg,#61ff00 0%,#39ff00 4.17%,#13ff00 8.33%,#0f0 10.43%,#00ff12 12.5%,#00ff35 16.67%,#00ff57 20.83%,#0f7 25%,#00ff96 29.17%,#00ffb3 33.33%,#00ffce 37.5%,#00ffe8 41.67%,#0ff 45.5%,#00fdff 45.83%,#00e6ff 50%,#00d1ff 54.17%,#00bdff 58.33%,#00abff 62.5%,#009aff 66.67%,#008aff 70.83%,#007dff 75%,#0070ff 79.17%,#06f 83.33%,#005dff 87.5%,#05f 91.67%,#004fff 95.83%,#004aff 100%)"></i><i style="height:2px;background:linear-gradient(90deg,#5dff00 0%,#36ff00 4.17%,#10ff00 8.33%,#0f0 10.08%,#00ff15 12.5%,#00ff38 16.67%,#00ff5a 20.83%,#00ff7a 25%,#00ff98 29.17%,#00ffb5 33.33%,#00ffd1 37.5%,#00ffeb 41.67%,#0ff 45.11%,#00fbff 45.83%,#00e4ff 50%,#00cfff 54.17%,#0bf 58.33%,#00a9ff 62.5%,#0098ff 66.67%,#0089ff 70.83%,#007bff 75%,#006fff 79.17%,#0064ff 83.33%,#005bff 87.5%,#0054ff 91.67%,#004eff 95.83%,#0049ff 100%)"></i><i style="height:2px;background:linear-gradient(90deg,#5aff00 0%,#3f0 4.17%,#0cff00 8.33%,#0f0 9.73%,#00ff18 12.5%,#00ff3b 16.67%,#00ff5d 20.83%,#00ff7d 25%,#00ff9b 29.17%,#00ffb8 33.33%,#00ffd3 37.5%,#00ffed 41.67%,#0ff 44.72%,#00f9ff 45.83%,#00e2ff 50%,#00cdff 54.17%,#00b9ff 58.33%,#00a7ff 62.5%,#0096ff 66.67%,#0087ff 70.83%,#007aff 75%,#006eff 79.17%,#0063ff 83.33%,#005aff 87.5%,#0053ff 91.67%,#004dff 95.83%,#0048ff 100%)"></i><i style="height:2px;background:linear-gradient(90deg,#57ff00 0%,#2fff00 4.17%,#09ff00 8.33%,#0f0 9.39%,#00ff1b 12.5%,#00ff3e 16.67%,#00ff5f 20.83%,#00ff7f 25%,#00ff9e 29.17%,#00ffba 33.33%,#00ffd6 37.5%,#00ffef 41.67%,#0ff 44.33%,#00f6ff 45.83%,#00e0ff 50%,#00cbff 54.17%,#00b7ff 58.33%,#00a5ff 62.5%,#0094ff 66.67%,#0085ff 70.83%,#0078ff 75%,#006cff 79.17%,#0062ff 83.33%,#0059ff 87.5%,#0052ff 91.67%,#004cff 95.83%,#0047ff 100%)"></i><i style="height:2px;background:linear-gradient(90deg,#54ff00 0%,#2cff00 4.17%,#06ff00 8.33%,#0f0 9.04%,#00ff1e 12.5%,#00ff41 16.67%,#00ff62 20.83%,#00ff82 25%,#00ffa0 29.17%,#00ffbd 33.33%,#00ffd8 37.5%,#00fff2 41.67%,#0ff 43.94%,#00f4ff 45.83%,#00deff 50%,#00c9ff 54.17%,#00b5ff 58.33%,#00a3ff 62.5%,#0093ff 66.67%,#0084ff 70.83%,#07f 75%,#006bff 79.17%,#0060ff 83.33%,#0058ff 87.5%,#0050ff 91.67%,#004bff 95.83%,#0047ff 100%)"></i><i style="height:2px;background:linear-gradient(90deg,#50ff00 0%,#29ff00 4.17%,#03ff00 8.33%,#0f0 8.7%,#00ff21 12.5%,#0f4 16.67%,#00ff65 20.83%,#00ff85 25%,#00ffa3 29.17%,#00ffbf 33.33%,#00ffda 37.5%,#00fff4 41.67%,#0ff 43.55%,#00f2ff 45.83%,#00dcff 50%,#00c7ff 54.17%,#00b3ff 58.33%,#00a1ff 62.5%,#0091ff 66.67%,#0082ff 70.83%,#0075ff 75%,#0069ff 79.17%,#005fff 83.33%,#0056ff 87.5%,#004fff 91.67%,#004aff 95.83%,#0046ff 100%)"></i><i style="height:2px;background:linear-gradient(90deg,#4dff00 0%,#26ff00 4.17%,#0f0 8.33%,#0f0 8.36%,#00ff24 12.5%,#00ff47 16.67%,#00ff68 20.83%,#00ff87 25%,#00ffa5 29.17%,#00ffc2 33.33%,#0fd 37.5%,#00fff6 41.67%,#0ff 43.17%,#00f0ff 45.83%,#00daff 50%,#00c5ff 54.17%,#00b1ff 58.33%,#00a0ff 62.5%,#008fff 66.67%,#0081ff 70.83%,#0073ff 75%,#0068ff 79.17%,#005eff 83.33%,#05f 87.5%,#004eff 91.67%,#0049ff 95.83%,#0045ff 100%)"></i><i style="height:2px;background:linear-gradient(90deg,#4aff00 0%,#23ff00 4.17%,#0f0 8.02%,#00ff03 8.33%,#00ff27 12.5%,#00ff49 16.67%,#00ff6a 20.83%,#00ff8a 25%,#00ffa8 29.17%,#00ffc4 33.33%,#00ffdf 37.5%,#00fff8 41.67%,#0ff 42.78%,#0ef 45.83%,#00d7ff 50%,#00c3ff 54.17%,#00b0ff 58.33%,#009eff 62.5%,#008eff 66.67%,#007fff 70.83%,#0072ff 75%,#06f 79.17%,#005cff 83.33%,#0054ff 87.5%,#004dff 91.67%,#0048ff 95.83%,#04f 100%)"></i><i style="height:2px;background:linear-gradient(90deg,#47ff00 0%,#20ff00 4.17%,#0f0 7.68%,#00ff06 8.33%,#00ff2a 12.5%,#00ff4c 16.67%,#00ff6d 20.83%,#00ff8d 25%,#0fa 29.17%,#00ffc7 33.33%,#00ffe1 37.5%,#00fffb 41.67%,#0ff 42.4%,#00ecff 45.83%,#00d5ff 50%,#00c1ff 54.17%,#00aeff 58.33%,#009cff 62.5%,#008cff 66.67%,#007eff 70.83%,#0071ff 75%,#0065ff 79.17%,#005bff 83.33%,#0053ff 87.5%,#004cff 91.67%,#0047ff 95.83%,#0043ff 100%)"></i><i style="height:2px;background:linear-gradient(90deg,#4f0 0%,#1dff00 4.17%,#0f0 7.34%,#00ff09 8.33%,#00ff2d 12.5%,#00ff4f 16.67%,#00ff70 20.83%,#00ff8f 25%,#00ffad 29.17%,#00ffc9 33.33%,#00ffe4 37.5%,#00fffd 41.67%,#0ff 42.02%,#00e9ff 45.83%,#00d3ff 50%,#00bfff 54.17%,#00acff 58.33%,#009aff 62.5%,#008aff 66.67%,#007cff 70.83%,#006fff 75%,#0064ff 79.17%,#005aff 83.33%,#0052ff 87.5%,#004bff 91.67%,#0046ff 95.83%,#0042ff 100%)"></i><i style="height:2px;background:linear-gradient(90deg,#40ff00 0%,#19ff00 4.17%,#0f0 7%,#00ff0c 8.33%,#00ff30 12.5%,#00ff52 16.67%,#00ff73 20.83%,#00ff92 25%,#00ffaf 29.17%,#00ffcb 33.33%,#00ffe6 37.5%,#0ff 41.64%,#0ff 41.67%,#00e7ff 45.83%,#00d1ff 50%,#00bdff 54.17%,#0af 58.33%,#09f 62.5%,#0089ff 66.67%,#007aff 70.83%,#006eff 75%,#0062ff 79.17%,#0059ff 83.33%,#0051ff 87.5%,#004aff 91.67%,#0045ff 95.83%,#0041ff 100%)"></i><i style="height:2px;background:linear-gradient(90deg,#3dff00 0%,#16ff00 4.17%,#0f0 6.66%,#00ff0f 8.33%,#00ff32 12.5%,#0f5 16.67%,#00ff75 20.83%,#00ff94 25%,#00ffb2 29.17%,#00ffce 33.33%,#00ffe8 37.5%,#0ff 41.27%,#00fdff 41.67%,#00e5ff 45.83%,#00cfff 50%,#0bf 54.17%,#00a8ff 58.33%,#0097ff 62.5%,#0087ff 66.67%,#0079ff 70.83%,#006cff 75%,#0061ff 79.17%,#0057ff 83.33%,#004fff 87.5%,#0049ff 91.67%,#04f 95.83%,#0040ff 100%)"></i><i style="height:2px;background:linear-gradient(90deg,#3aff00 0%,#13ff00 4.17%,#0f0 6.32%,#00ff12 8.33%,#00ff35 12.5%,#00ff57 16.67%,#00ff78 20.83%,#00ff97 25%,#00ffb4 29.17%,#00ffd0 33.33%,#00ffeb 37.5%,#0ff 40.89%,#00faff 41.67%,#00e3ff 45.83%,#00cdff 50%,#00b9ff 54.17%,#00a6ff 58.33%,#0095ff 62.5%,#0086ff 66.67%,#07f 70.83%,#006bff 75%,#0060ff 79.17%,#0056ff 83.33%,#004eff 87.5%,#0048ff 91.67%,#0043ff 95.83%,#003fff 100%)"></i><i style="height:2px;background:linear-gradient(90deg,#37ff00 0%,#10ff00 4.17%,#0f0 5.99%,#00ff15 8.33%,#00ff38 12.5%,#00ff5a 16.67%,#00ff7b 20.83%,#0f9 25%,#00ffb7 29.17%,#00ffd3 33.33%,#00ffed 37.5%,#0ff 40.52%,#00f8ff 41.67%,#00e1ff 45.83%,#00cbff 50%,#00b7ff 54.17%,#00a5ff 58.33%,#0094ff 62.5%,#0084ff 66.67%,#0076ff 70.83%,#0069ff 75%,#005eff 79.17%,#05f 83.33%,#004dff 87.5%,#0047ff 91.67%,#0042ff 95.83%,#003fff 100%)"></i><i style="height:2px;background:linear-gradient(90deg,#34ff00 0%,#0dff00 4.17%,#0f0 5.65%,#00ff18 8.33%,#00ff3b 12.5%,#00ff5d 16.67%,#00ff7d 20.83%,#00ff9c 25%,#00ffb9 29.17%,#00ffd5 33.33%,#00ffef 37.5%,#0ff 40.14%,#00f6ff 41.67%,#00dfff 45.83%,#00c9ff 50%,#00b5ff 54.17%,#00a3ff 58.33%,#0092ff 62.5%,#0082ff 66.67%,#0074ff 70.83%,#0068ff 75%,#005dff 79.17%,#0054ff 83.33%,#004cff 87.5%,#0046ff 91.67%,#0041ff 95.83%,#003eff 100%)"></i><i style="height:2px;background:linear-gradient(90deg,#31ff00 0%,#0aff00 4.17%,#0f0 5.32%,#00ff1a 8.33%,#00ff3e 12.5%,#00ff60 16.67%,#00ff80 20.83%,#00ff9f 25%,#00ffbc 29.17%,#00ffd7 33.33%,#00fff1 37.5%,#0ff 39.77%,#00f4ff 41.67%,#0df 45.83%,#00c7ff 50%,#00b4ff 54.17%,#00a1ff 58.33%,#0090ff 62.5%,#0081ff 66.67%,#0073ff 70.83%,#0067ff 75%,#005cff 79.17%,#0053ff 83.33%,#004bff 87.5%,#0045ff 91.67%,#0040ff 95.83%,#003dff 100%)"></i><i style="height:2px;background:linear-gradient(90deg,#2eff00 0%,#07ff00 4.17%,#0f0 4.98%,#00ff1d 8.33%,#00ff41 12.5%,#00ff62 16.67%,#00ff82 20.83%,#00ffa1 25%,#00ffbe 29.17%,#00ffda 33.33%,#00fff4 37.5%,#0ff 39.4%,#00f2ff 41.67%,#00dbff 45.83%,#00c6ff 50%,#00b2ff 54.17%,#009fff 58.33%,#008fff 62.5%,#007fff 66.67%,#0072ff 70.83%,#0065ff 75%,#005bff 79.17%,#0052ff 83.33%,#004aff 87.5%,#04f 91.67%,#003fff 95.83%,#003cff 100%)"></i><i style="height:2px;background:linear-gradient(90deg,#2bff00 0%,#04ff00 4.17%,#0f0 4.65%,#00ff20 8.33%,#00ff43 12.5%,#00ff65 16.67%,#00ff85 20.83%,#00ffa4 25%,#00ffc1 29.17%,#00ffdc 33.33%,#00fff6 37.5%,#0ff 39.03%,#00f0ff 41.67%,#00d9ff 45.83%,#00c4ff 50%,#00b0ff 54.17%,#009eff 58.33%,#008dff 62.5%,#007eff 66.67%,#0070ff 70.83%,#0064ff 75%,#0059ff 79.17%,#0050ff 83.33%,#0049ff 87.5%,#0043ff 91.67%,#003eff 95.83%,#003cff 100%)"></i><i style="height:2px;background:linear-gradient(90deg,#27ff00 0%,#01ff00 4.17%,#0f0 4.32%,#00ff23 8.33%,#00ff46 12.5%,#00ff68 16.67%,#0f8 20.83%,#00ffa6 25%,#00ffc3 29.17%,#00ffde 33.33%,#00fff8 37.5%,#0ff 38.67%,#0ef 41.67%,#00d7ff 45.83%,#00c2ff 50%,#00aeff 54.17%,#009cff 58.33%,#008bff 62.5%,#007cff 66.67%,#006fff 70.83%,#0063ff 75%,#0058ff 79.17%,#004fff 83.33%,#0048ff 87.5%,#0042ff 91.67%,#003eff 95.83%,#003bff 100%)"></i><i style="height:2px;background:linear-gradient(90deg,#24ff00 0%,#0f0 3.99%,#00ff02 4.17%,#00ff26 8.33%,#00ff49 12.5%,#00ff6a 16.67%,#00ff8a 20.83%,#00ffa8 25%,#00ffc5 29.17%,#00ffe0 33.33%,#00fffa 37.5%,#0ff 38.3%,#00ecff 41.67%,#00d5ff 45.83%,#00c0ff 50%,#00acff 54.17%,#009aff 58.33%,#008aff 62.5%,#007bff 66.67%,#006dff 70.83%,#0061ff 75%,#0057ff 79.17%,#004eff 83.33%,#0047ff 87.5%,#0041ff 91.67%,#003dff 95.83%,#003aff 100%)"></i><i style="height:2px;background:linear-gradient(90deg,#21ff00 0%,#0f0 3.66%,#00ff05 4.17%,#00ff29 8.33%,#00ff4c 12.5%,#00ff6d 16.67%,#00ff8d 20.83%,#00ffab 25%,#00ffc8 29.17%,#00ffe3 33.33%,#00fffc 37.5%,#0ff 37.94%,#00eaff 41.67%,#00d3ff 45.83%,#00beff 50%,#0af 54.17%,#09f 58.33%,#08f 62.5%,#0079ff 66.67%,#006cff 70.83%,#0060ff 75%,#0056ff 79.17%,#004dff 83.33%,#0046ff 87.5%,#0040ff 91.67%,#003cff 95.83%,#0039ff 100%)"></i><i style="height:2px;background:linear-gradient(90deg,#1eff00 0%,#0f0 3.33%,#00ff07 4.17%,#00ff2c 8.33%,#00ff4e 12.5%,#00ff70 16.67%,#00ff8f 20.83%,#00ffad 25%,#00ffca 29.17%,#00ffe5 33.33%,#0ff 37.5%,#0ff 37.58%,#00e7ff 41.67%,#00d1ff 45.83%,#00bcff 50%,#00a9ff 54.17%,#0097ff 58.33%,#0087ff 62.5%,#0078ff 66.67%,#006aff 70.83%,#005fff 75%,#05f 79.17%,#004cff 83.33%,#0045ff 87.5%,#003fff 91.67%,#003bff 95.83%,#0039ff 100%)"></i><i style="height:2px;background:linear-gradient(90deg,#1bff00 0%,#0f0 3.01%,#00ff0a 4.17%,#00ff2e 8.33%,#00ff51 12.5%,#00ff72 16.67%,#00ff92 20.83%,#00ffb0 25%,#0fc 29.17%,#00ffe7 33.33%,#0ff 37.22%,#00fdff 37.5%,#00e5ff 41.67%,#00cfff 45.83%,#00baff 50%,#00a7ff 54.17%,#0095ff 58.33%,#0085ff 62.5%,#0076ff 66.67%,#0069ff 70.83%,#005dff 75%,#0053ff 79.17%,#004bff 83.33%,#04f 87.5%,#003eff 91.67%,#003aff 95.83%,#0038ff 100%)"></i><i style="height:2px;background:linear-gradient(90deg,#18ff00 0%,#0f0 2.68%,#00ff0d 4.17%,#00ff31 8.33%,#00ff54 12.5%,#00ff75 16.67%,#00ff94 20.83%,#00ffb2 25%,#00ffcf 29.17%,#00ffe9 33.33%,#0ff 36.86%,#00fbff 37.5%,#00e3ff 41.67%,#00cdff 45.83%,#00b8ff 50%,#00a5ff 54.17%,#0094ff 58.33%,#0083ff 62.5%,#0075ff 66.67%,#0068ff 70.83%,#005cff 75%,#0052ff 79.17%,#004aff 83.33%,#0043ff 87.5%,#003dff 91.67%,#003aff 95.83%,#0037ff 100%)"></i><i style="height:2px;background:linear-gradient(90deg,#15ff00 0%,#0f0 2.35%,#00ff10 4.17%,#00ff34 8.33%,#00ff57 12.5%,#0f7 16.67%,#00ff97 20.83%,#00ffb5 25%,#00ffd1 29.17%,#00ffec 33.33%,#0ff 36.5%,#00f9ff 37.5%,#00e1ff 41.67%,#00cbff 45.83%,#00b7ff 50%,#00a3ff 54.17%,#0092ff 58.33%,#0082ff 62.5%,#0073ff 66.67%,#06f 70.83%,#005bff 75%,#0051ff 79.17%,#0049ff 83.33%,#0042ff 87.5%,#003dff 91.67%,#0039ff 95.83%,#0037ff 100%)"></i><i style="height:2px;background:linear-gradient(90deg,#12ff00 0%,#0f0 2.03%,#00ff13 4.17%,#00ff37 8.33%,#00ff59 12.5%,#00ff7a 16.67%,#0f9 20.83%,#00ffb7 25%,#00ffd3 29.17%,#0fe 33.33%,#0ff 36.14%,#00f7ff 37.5%,#00dfff 41.67%,#00c9ff 45.83%,#00b5ff 50%,#00a2ff 54.17%,#0090ff 58.33%,#0080ff 62.5%,#0072ff 66.67%,#0065ff 70.83%,#005aff 75%,#0050ff 79.17%,#0048ff 83.33%,#0041ff 87.5%,#003cff 91.67%,#0038ff 95.83%,#0036ff 100%)"></i><i style="height:2px;background:linear-gradient(90deg,#0fff00 0%,#0f0 1.71%,#00ff16 4.17%,#00ff3a 8.33%,#00ff5c 12.5%,#00ff7d 16.67%,#00ff9c 20.83%,#00ffb9 25%,#00ffd5 29.17%,#00fff0 33.33%,#0ff 35.79%,#00f5ff 37.5%,#0df 41.67%,#00c7ff 45.83%,#00b3ff 50%,#00a0ff 54.17%,#008fff 58.33%,#007fff 62.5%,#0071ff 66.67%,#0064ff 70.83%,#0059ff 75%,#004fff 79.17%,#0047ff 83.33%,#0040ff 87.5%,#003bff 91.67%,#0037ff 95.83%,#0035ff 100%)"></i><i style="height:2px;background:linear-gradient(90deg,#0dff00 0%,#0f0 1.38%,#00ff19 4.17%,#00ff3c 8.33%,#00ff5f 12.5%,#00ff7f 16.67%,#00ff9e 20.83%,#00ffbc 25%,#00ffd8 29.17%,#00fff2 33.33%,#0ff 35.44%,#00f3ff 37.5%,#00dbff 41.67%,#00c6ff 45.83%,#00b1ff 50%,#009eff 54.17%,#008dff 58.33%,#007dff 62.5%,#006fff 66.67%,#0063ff 70.83%,#0057ff 75%,#004eff 79.17%,#0046ff 83.33%,#003fff 87.5%,#003aff 91.67%,#0037ff 95.83%,#0035ff 100%)"></i><i style="height:2px;background:linear-gradient(90deg,#0aff00 0%,#0f0 1.06%,#00ff1c 4.17%,#00ff3f 8.33%,#00ff61 12.5%,#00ff82 16.67%,#00ffa1 20.83%,#00ffbe 25%,#00ffda 29.17%,#00fff4 33.33%,#0ff 35.09%,#00f1ff 37.5%,#00d9ff 41.67%,#00c4ff 45.83%,#00afff 50%,#009dff 54.17%,#008cff 58.33%,#007cff 62.5%,#006eff 66.67%,#0061ff 70.83%,#0056ff 75%,#004dff 79.17%,#0045ff 83.33%,#003eff 87.5%,#0039ff 91.67%,#0036ff 95.83%,#0034ff 100%)"></i><i style="height:2px;background:linear-gradient(90deg,#07ff00 0%,#0f0 0.74%,#00ff1e 4.17%,#00ff42 8.33%,#00ff64 12.5%,#00ff84 16.67%,#00ffa3 20.83%,#00ffc0 25%,#00ffdc 29.17%,#00fff6 33.33%,#0ff 34.74%,#00efff 37.5%,#00d8ff 41.67%,#00c2ff 45.83%,#00aeff 50%,#009bff 54.17%,#008aff 58.33%,#007aff 62.5%,#006cff 66.67%,#0060ff 70.83%,#05f 75%,#004cff 79.17%,#04f 83.33%,#003dff 87.5%,#0039ff 91.67%,#0035ff 95.83%,#0034ff 100%)"></i><i style="height:2px;background:linear-gradient(90deg,#04ff00 0%,#0f0 0.42%,#00ff21 4.17%,#0f4 8.33%,#0f6 12.5%,#00ff87 16.67%,#00ffa5 20.83%,#00ffc3 25%,#00ffde 29.17%,#00fff9 33.33%,#0ff 34.39%,#00edff 37.5%,#00d6ff 41.67%,#00c0ff 45.83%,#00acff 50%,#09f 54.17%,#08f 58.33%,#0079ff 62.5%,#006bff 66.67%,#005fff 70.83%,#0054ff 75%,#004bff 79.17%,#0043ff 83.33%,#003cff 87.5%,#0038ff 91.67%,#0035ff 95.83%,#03f 100%)"></i><i style="height:2px;background:linear-gradient(90deg,#01ff00 0%,#0f0 0.1%,#00ff24 4.17%,#00ff47 8.33%,#00ff69 12.5%,#00ff89 16.67%,#00ffa8 20.83%,#00ffc5 25%,#00ffe1 29.17%,#00fffb 33.33%,#0ff 34.04%,#00ebff 37.5%,#00d4ff 41.67%,#00beff 45.83%,#0af 50%,#0098ff 54.17%,#0087ff 58.33%,#0078ff 62.5%,#006aff 66.67%,#005dff 70.83%,#0053ff 75%,#0049ff 79.17%,#0042ff 83.33%,#003cff 87.5%,#0037ff 91.67%,#0034ff 95.83%,#0032ff 100%)"></i><i style="height:2px;background:linear-gradient(90deg,#00ff02 0%,#00ff27 4.17%,#00ff4a 8.33%,#00ff6c 12.5%,#00ff8c 16.67%,#0fa 20.83%,#00ffc7 25%,#00ffe3 29.17%,#00fffd 33.33%,#0ff 33.69%,#00e9ff 37.5%,#00d2ff 41.67%,#00bcff 45.83%,#00a9ff 50%,#0096ff 54.17%,#0085ff 58.33%,#0076ff 62.5%,#0068ff 66.67%,#005cff 70.83%,#0052ff 75%,#0048ff 79.17%,#0041ff 83.33%,#003bff 87.5%,#0036ff 91.67%,#03f 95.83%,#0032ff 100%)"></i><i style="height:2px;background:linear-gradient(90deg,#00ff05 0%,#00ff29 4.17%,#00ff4c 8.33%,#00ff6e 12.5%,#00ff8e 16.67%,#00ffad 20.83%,#00ffca 25%,#00ffe5 29.17%,#0ff 33.33%,#0ff 33.35%,#00e7ff 37.5%,#00d0ff 41.67%,#0bf 45.83%,#00a7ff 50%,#0095ff 54.17%,#0084ff 58.33%,#0075ff 62.5%,#0067ff 66.67%,#005bff 70.83%,#0050ff 75%,#0047ff 79.17%,#0040ff 83.33%,#003aff 87.5%,#0036ff 91.67%,#03f 95.83%,#0031ff 100%)"></i></div>
<div class="h" style="left:337px;top:18px;width:197px;height:196px"><i style="height:2px;background:linear-gradient(90deg,#1f0 0%,#0f0 1.87%,#00ff15 4.17%,#00ff3a 8.33%,#00ff5d 12.5%,#00ff7e 16.67%,#00ff9f 20.83%,#00ffbd 25%,#00ffda 29.17%,#00fff6 33.33%,#0ff 34.77%,#0ef 37.5%,#00d5ff 41.67%,#00beff 45.83%,#00a9ff 50%,#0095ff 54.17%,#0082ff 58.33%,#0071ff 62.5%,#0062ff 66.67%,#0054ff 70.83%,#0048ff 75%,#003dff 79.17%,#03f 83.33%,#002bff 87.5%,#0025ff 91.67%,#0020ff 95.83%,#001dff 100%)"></i><i style="height:2px;background:linear-gradient(90deg,#14ff00 0%,#0f0 2.12%,#00ff13 4.17%,#00ff37 8.33%,#00ff5b 12.5%,#00ff7c 16.67%,#00ff9d 20.83%,#0fb 25%,#00ffd8 29.17%,#00fff4 33.33%,#0ff 35.05%,#00f0ff 37.5%,#00d7ff 41.67%,#00c0ff 45.83%,#0af 50%,#0096ff 54.17%,#0084ff 58.33%,#0073ff 62.5%,#0063ff 66.67%,#05f 70.83%,#0049ff 75%,#003eff 79.17%,#0034ff 83.33%,#002cff 87.5%,#0026ff 91.67%,#0021ff 95.83%,#001eff 100%)"></i><i style="height:2px;background:linear-gradient(90deg,#16ff00 0%,#0f0 2.37%,#00ff10 4.17%,#00ff35 8.33%,#00ff58 12.5%,#00ff7a 16.67%,#00ff9b 20.83%,#00ffb9 25%,#00ffd7 29.17%,#00fff2 33.33%,#0ff 35.33%,#00f2ff 37.5%,#00d9ff 41.67%,#00c2ff 45.83%,#00acff 50%,#0098ff 54.17%,#0085ff 58.33%,#0074ff 62.5%,#0065ff 66.67%,#0057ff 70.83%,#004aff 75%,#003fff 79.17%,#0035ff 83.33%,#002dff 87.5%,#0027ff 91.67%,#02f 95.83%,#001fff 100%)"></i><i style="height:2px;background:linear-gradient(90deg,#18ff00 0%,#0f0 2.62%,#00ff0e 4.17%,#0f3 8.33%,#00ff56 12.5%,#00ff78 16.67%,#00ff98 20.83%,#00ffb7 25%,#00ffd5 29.17%,#00fff0 33.33%,#0ff 35.62%,#00f3ff 37.5%,#00dbff 41.67%,#00c3ff 45.83%,#00aeff 50%,#09f 54.17%,#0087ff 58.33%,#0076ff 62.5%,#06f 66.67%,#0058ff 70.83%,#004bff 75%,#0040ff 79.17%,#0037ff 83.33%,#002eff 87.5%,#0028ff 91.67%,#0023ff 95.83%,#001fff 100%)"></i><i style="height:2px;background:linear-gradient(90deg,#1bff00 0%,#0f0 2.87%,#00ff0c 4.17%,#00ff31 8.33%,#00ff54 12.5%,#00ff76 16.67%,#00ff96 20.83%,#00ffb5 25%,#00ffd3 29.17%,#00ffef 33.33%,#0ff 35.91%,#00f5ff 37.5%,#00dcff 41.67%,#00c5ff 45.83%,#00afff 50%,#009bff 54.17%,#08f 58.33%,#07f 62.5%,#0067ff 66.67%,#0059ff 70.83%,#004cff 75%,#0041ff 79.17%,#0038ff 83.33%,#0030ff 87.5%,#0029ff 91.67%,#0024ff 95.83%,#0020ff 100%)"></i><i style="height:2px;background:linear-gradient(90deg,#1dff00 0%,#0f0 3.13%,#00ff09 4.17%,#00ff2e 8.33%,#00ff52 12.5%,#00ff74 16.67%,#00ff94 20.83%,#00ffb3 25%,#00ffd1 29.17%,#00ffed 33.33%,#0ff 36.21%,#00f7ff 37.5%,#00deff 41.67%,#00c7ff 45.83%,#00b1ff 50%,#009dff 54.17%,#008aff 58.33%,#0078ff 62.5%,#0069ff 66.67%,#005aff 70.83%,#004eff 75%,#0042ff 79.17%,#0039ff 83.33%,#0031ff 87.5%,#002aff 91.67%,#0025ff 95.83%,#0021ff 100%)"></i><i style="height:2px;background:linear-gradient(90deg,#1fff00 0%,#0f0 3.39%,#00ff07 4.17%,#00ff2c 8.33%,#00ff50 12.5%,#00ff72 16.67%,#00ff92 20.83%,#00ffb1 25%,#00ffcf 29.17%,#00ffeb 33.33%,#0ff 36.5%,#00f9ff 37.5%,#00e0ff 41.67%,#00c8ff 45.83%,#00b3ff 50%,#009eff 54.17%,#008bff 58.33%,#007aff 62.5%,#006aff 66.67%,#005cff 70.83%,#004fff 75%,#04f 79.17%,#003aff 83.33%,#0032ff 87.5%,#002bff 91.67%,#0026ff 95.83%,#02f 100%)"></i><i style="height:2px;background:linear-gradient(90deg,#2f0 0%,#0f0 3.65%,#00ff05 4.17%,#00ff2a 8.33%,#00ff4d 12.5%,#00ff70 16.67%,#00ff90 20.83%,#00ffaf 25%,#00ffcd 29.17%,#00ffe9 33.33%,#0ff 36.8%,#00fbff 37.5%,#00e2ff 41.67%,#00caff 45.83%,#00b4ff 50%,#00a0ff 54.17%,#008dff 58.33%,#007bff 62.5%,#006cff 66.67%,#005dff 70.83%,#0050ff 75%,#0045ff 79.17%,#003bff 83.33%,#03f 87.5%,#002cff 91.67%,#0027ff 95.83%,#0023ff 100%)"></i><i style="height:2px;background:linear-gradient(90deg,#24ff00 0%,#0f0 3.91%,#00ff02 4.17%,#00ff28 8.33%,#00ff4b 12.5%,#00ff6d 16.67%,#00ff8e 20.83%,#00ffad 25%,#00ffcb 29.17%,#00ffe7 33.33%,#0ff 37.11%,#00fdff 37.5%,#00e3ff 41.67%,#0cf 45.83%,#00b6ff 50%,#00a1ff 54.17%,#008eff 58.33%,#007dff 62.5%,#006dff 66.67%,#005fff 70.83%,#0052ff 75%,#0046ff 79.17%,#003cff 83.33%,#0034ff 87.5%,#002dff 91.67%,#0028ff 95.83%,#0024ff 100%)"></i><i style="height:2px;background:linear-gradient(90deg,#27ff00 0%,#0f0 4.17%,#00ff25 8.33%,#00ff49 12.5%,#00ff6b 16.67%,#00ff8c 20.83%,#00ffab 25%,#00ffc9 29.17%,#00ffe5 33.33%,#0ff 37.41%,#00feff 37.5%,#00e5ff 41.67%,#00ceff 45.83%,#00b8ff 50%,#00a3ff 54.17%,#0090ff 58.33%,#007eff 62.5%,#006eff 66.67%,#0060ff 70.83%,#0053ff 75%,#0047ff 79.17%,#003eff 83.33%,#0035ff 87.5%,#002eff 91.67%,#0029ff 95.83%,#0025ff 100%)"></i><i style="height:2px;background:linear-gradient(90deg,#29ff00 0%,#02ff00 4.17%,#0f0 4.44%,#00ff23 8.33%,#00ff47 12.5%,#00ff69 16.67%,#00ff8a 20.83%,#00ffa9 25%,#00ffc7 29.17%,#00ffe3 33.33%,#00fffe 37.5%,#0ff 37.72%,#00e7ff 41.67%,#00d0ff 45.83%,#00b9ff 50%,#00a5ff 54.17%,#0092ff 58.33%,#0080ff 62.5%,#0070ff 66.67%,#0061ff 70.83%,#0054ff 75%,#0049ff 79.17%,#003fff 83.33%,#0036ff 87.5%,#002fff 91.67%,#002aff 95.83%,#0026ff 100%)"></i><i style="height:2px;background:linear-gradient(90deg,#2cff00 0%,#05ff00 4.17%,#0f0 4.71%,#00ff20 8.33%,#0f4 12.5%,#00ff67 16.67%,#00ff87 20.83%,#00ffa7 25%,#00ffc5 29.17%,#00ffe1 33.33%,#00fffc 37.5%,#0ff 38.03%,#00e9ff 41.67%,#00d1ff 45.83%,#0bf 50%,#00a6ff 54.17%,#0093ff 58.33%,#0082ff 62.5%,#0071ff 66.67%,#0063ff 70.83%,#0056ff 75%,#004aff 79.17%,#0040ff 83.33%,#0037ff 87.5%,#0030ff 91.67%,#002bff 95.83%,#0027ff 100%)"></i><i style="height:2px;background:linear-gradient(90deg,#2eff00 0%,#07ff00 4.17%,#0f0 4.98%,#00ff1e 8.33%,#00ff42 12.5%,#00ff64 16.67%,#00ff85 20.83%,#00ffa5 25%,#00ffc3 29.17%,#00ffdf 33.33%,#00fffa 37.5%,#0ff 38.35%,#00ebff 41.67%,#00d3ff 45.83%,#00bdff 50%,#00a8ff 54.17%,#0095ff 58.33%,#0083ff 62.5%,#0073ff 66.67%,#0064ff 70.83%,#0057ff 75%,#004bff 79.17%,#0041ff 83.33%,#0039ff 87.5%,#0032ff 91.67%,#002cff 95.83%,#0028ff 100%)"></i><i style="height:2px;background:linear-gradient(90deg,#31ff00 0%,#0aff00 4.17%,#0f0 5.25%,#00ff1c 8.33%,#00ff40 12.5%,#00ff62 16.67%,#00ff83 20.83%,#00ffa3 25%,#00ffc0 29.17%,#0fd 33.33%,#00fff8 37.5%,#0ff 38.67%,#00edff 41.67%,#00d5ff 45.83%,#00bfff 50%,#0af 54.17%,#0097ff 58.33%,#0085ff 62.5%,#0074ff 66.67%,#06f 70.83%,#0058ff 75%,#004dff 79.17%,#0043ff 83.33%,#003aff 87.5%,#03f 91.67%,#002dff 95.83%,#0029ff 100%)"></i><i style="height:2px;background:linear-gradient(90deg,#3f0 0%,#0cff00 4.17%,#0f0 5.52%,#00ff19 8.33%,#00ff3d 12.5%,#00ff60 16.67%,#00ff81 20.83%,#00ffa0 25%,#00ffbe 29.17%,#00ffdb 33.33%,#00fff6 37.5%,#0ff 38.99%,#00efff 41.67%,#00d7ff 45.83%,#00c1ff 50%,#00acff 54.17%,#0098ff 58.33%,#0086ff 62.5%,#0076ff 66.67%,#0067ff 70.83%,#005aff 75%,#004eff 79.17%,#04f 83.33%,#003bff 87.5%,#0034ff 91.67%,#002eff 95.83%,#002aff 100%)"></i><i style="height:2px;background:linear-gradient(90deg,#36ff00 0%,#0fff00 4.17%,#0f0 5.8%,#00ff17 8.33%,#00ff3b 12.5%,#00ff5d 16.67%,#00ff7e 20.83%,#00ff9e 25%,#00ffbc 29.17%,#00ffd9 33.33%,#00fff4 37.5%,#0ff 39.32%,#00f1ff 41.67%,#00d9ff 45.83%,#00c2ff 50%,#00adff 54.17%,#009aff 58.33%,#08f 62.5%,#0078ff 66.67%,#0069ff 70.83%,#005bff 75%,#0050ff 79.17%,#0045ff 83.33%,#003cff 87.5%,#0035ff 91.67%,#002fff 95.83%,#002bff 100%)"></i><i style="height:2px;background:linear-gradient(90deg,#39ff00 0%,#1f0 4.17%,#0f0 6.08%,#00ff14 8.33%,#00ff38 12.5%,#00ff5b 16.67%,#00ff7c 20.83%,#00ff9c 25%,#00ffba 29.17%,#00ffd7 33.33%,#00fff2 37.5%,#0ff 39.64%,#00f3ff 41.67%,#00dbff 45.83%,#00c4ff 50%,#00afff 54.17%,#009cff 58.33%,#008aff 62.5%,#0079ff 66.67%,#006aff 70.83%,#005dff 75%,#0051ff 79.17%,#0047ff 83.33%,#003eff 87.5%,#0036ff 91.67%,#0030ff 95.83%,#002cff 100%)"></i><i style="height:2px;background:linear-gradient(90deg,#3bff00 0%,#14ff00 4.17%,#0f0 6.36%,#00ff12 8.33%,#00ff36 12.5%,#00ff59 16.67%,#00ff7a 20.83%,#00ff9a 25%,#00ffb8 29.17%,#00ffd4 33.33%,#00fff0 37.5%,#0ff 39.98%,#00f5ff 41.67%,#0df 45.83%,#00c6ff 50%,#00b1ff 54.17%,#009dff 58.33%,#008bff 62.5%,#007bff 66.67%,#006cff 70.83%,#005eff 75%,#0052ff 79.17%,#0048ff 83.33%,#003fff 87.5%,#0038ff 91.67%,#0032ff 95.83%,#002dff 100%)"></i><i style="height:2px;background:linear-gradient(90deg,#3eff00 0%,#17ff00 4.17%,#0f0 6.64%,#00ff0f 8.33%,#0f3 12.5%,#00ff56 16.67%,#00ff78 20.83%,#00ff97 25%,#00ffb6 29.17%,#00ffd2 33.33%,#00ffed 37.5%,#0ff 40.31%,#00f7ff 41.67%,#00dfff 45.83%,#00c8ff 50%,#00b3ff 54.17%,#009fff 58.33%,#008dff 62.5%,#007dff 66.67%,#006dff 70.83%,#0060ff 75%,#0054ff 79.17%,#0049ff 83.33%,#0040ff 87.5%,#0039ff 91.67%,#03f 95.83%,#002eff 100%)"></i><i style="height:2px;background:linear-gradient(90deg,#41ff00 0%,#19ff00 4.17%,#0f0 6.92%,#00ff0d 8.33%,#00ff31 12.5%,#00ff54 16.67%,#00ff75 20.83%,#00ff95 25%,#00ffb3 29.17%,#00ffd0 33.33%,#00ffeb 37.5%,#0ff 40.65%,#00f9ff 41.67%,#00e1ff 45.83%,#00caff 50%,#00b5ff 54.17%,#00a1ff 58.33%,#008fff 62.5%,#007eff 66.67%,#006fff 70.83%,#0061ff 75%,#05f 79.17%,#004bff 83.33%,#0042ff 87.5%,#003aff 91.67%,#0034ff 95.83%,#0030ff 100%)"></i><i style="height:2px;background:linear-gradient(90deg,#43ff00 0%,#1cff00 4.17%,#0f0 7.21%,#00ff0a 8.33%,#00ff2f 12.5%,#00ff51 16.67%,#00ff73 20.83%,#00ff93 25%,#00ffb1 29.17%,#00ffce 33.33%,#00ffe9 37.5%,#0ff 40.99%,#00fbff 41.67%,#00e3ff 45.83%,#0cf 50%,#00b7ff 54.17%,#00a3ff 58.33%,#0091ff 62.5%,#0080ff 66.67%,#0071ff 70.83%,#0063ff 75%,#0057ff 79.17%,#004cff 83.33%,#0043ff 87.5%,#003bff 91.67%,#0035ff 95.83%,#0031ff 100%)"></i><i style="height:2px;background:linear-gradient(90deg,#46ff00 0%,#1fff00 4.17%,#0f0 7.5%,#00ff07 8.33%,#00ff2c 12.5%,#00ff4f 16.67%,#00ff70 20.83%,#00ff90 25%,#00ffaf 29.17%,#0fc 33.33%,#00ffe7 37.5%,#0ff 41.34%,#00fdff 41.67%,#00e5ff 45.83%,#00ceff 50%,#00b8ff 54.17%,#00a5ff 58.33%,#0092ff 62.5%,#0082ff 66.67%,#0072ff 70.83%,#0065ff 75%,#0058ff 79.17%,#004eff 83.33%,#04f 87.5%,#003dff 91.67%,#0037ff 95.83%,#0032ff 100%)"></i><i style="height:2px;background:linear-gradient(90deg,#49ff00 0%,#21ff00 4.17%,#0f0 7.79%,#00ff05 8.33%,#00ff29 12.5%,#00ff4c 16.67%,#00ff6e 20.83%,#00ff8e 25%,#00ffad 29.17%,#00ffc9 33.33%,#00ffe5 37.5%,#0ff 41.67%,#0ff 41.69%,#00e7ff 45.83%,#00d0ff 50%,#00baff 54.17%,#00a7ff 58.33%,#0094ff 62.5%,#0083ff 66.67%,#0074ff 70.83%,#06f 75%,#005aff 79.17%,#004fff 83.33%,#0046ff 87.5%,#003eff 91.67%,#0038ff 95.83%,#03f 100%)"></i><i style="height:2px;background:linear-gradient(90deg,#4cff00 0%,#24ff00 4.17%,#0f0 8.08%,#00ff02 8.33%,#00ff27 12.5%,#00ff4a 16.67%,#00ff6c 20.83%,#00ff8c 25%,#0fa 29.17%,#00ffc7 33.33%,#00ffe3 37.5%,#00fffd 41.67%,#0ff 42.04%,#00e9ff 45.83%,#00d2ff 50%,#00bcff 54.17%,#00a8ff 58.33%,#0096ff 62.5%,#0085ff 66.67%,#0076ff 70.83%,#0068ff 75%,#005bff 79.17%,#0051ff 83.33%,#0047ff 87.5%,#003fff 91.67%,#0039ff 95.83%,#0034ff 100%)"></i><i style="height:2px;background:linear-gradient(90deg,#4eff00 0%,#27ff00 4.17%,#0f0 8.33%,#0f0 8.38%,#00ff24 12.5%,#00ff47 16.67%,#00ff69 20.83%,#00ff89 25%,#00ffa8 29.17%,#00ffc5 33.33%,#00ffe1 37.5%,#00fffb 41.67%,#0ff 42.39%,#00ebff 45.83%,#00d4ff 50%,#00beff 54.17%,#0af 58.33%,#0098ff 62.5%,#0087ff 66.67%,#07f 70.83%,#0069ff 75%,#005dff 79.17%,#0052ff 83.33%,#0049ff 87.5%,#0041ff 91.67%,#003bff 95.83%,#0036ff 100%)"></i><i style="height:2px;background:linear-gradient(90deg,#51ff00 0%,#29ff00 4.17%,#03ff00 8.33%,#0f0 8.68%,#0f2 12.5%,#00ff45 16.67%,#00ff67 20.83%,#00ff87 25%,#00ffa6 29.17%,#00ffc3 33.33%,#00ffde 37.5%,#00fff8 41.67%,#0ff 42.75%,#00edff 45.83%,#00d6ff 50%,#00c0ff 54.17%,#00acff 58.33%,#009aff 62.5%,#0089ff 66.67%,#0079ff 70.83%,#006bff 75%,#005fff 79.17%,#0054ff 83.33%,#004aff 87.5%,#0042ff 91.67%,#003cff 95.83%,#0037ff 100%)"></i><i style="height:2px;background:linear-gradient(90deg,#54ff00 0%,#2cff00 4.17%,#06ff00 8.33%,#0f0 8.98%,#00ff1f 12.5%,#00ff42 16.67%,#00ff64 20.83%,#00ff84 25%,#00ffa3 29.17%,#00ffc0 33.33%,#00ffdc 37.5%,#00fff6 41.67%,#0ff 43.12%,#00efff 45.83%,#00d8ff 50%,#00c2ff 54.17%,#00aeff 58.33%,#009cff 62.5%,#008aff 66.67%,#007bff 70.83%,#006dff 75%,#0060ff 79.17%,#05f 83.33%,#004cff 87.5%,#04f 91.67%,#003dff 95.83%,#0038ff 100%)"></i><i style="height:2px;background:linear-gradient(90deg,#57ff00 0%,#2fff00 4.17%,#09ff00 8.33%,#0f0 9.28%,#00ff1c 12.5%,#00ff40 16.67%,#00ff62 20.83%,#00ff82 25%,#00ffa1 29.17%,#00ffbe 33.33%,#00ffda 37.5%,#00fff4 41.67%,#0ff 43.48%,#00f1ff 45.83%,#00daff 50%,#00c4ff 54.17%,#00b0ff 58.33%,#009dff 62.5%,#008cff 66.67%,#007dff 70.83%,#006fff 75%,#0062ff 79.17%,#0057ff 83.33%,#004dff 87.5%,#0045ff 91.67%,#003fff 95.83%,#003aff 100%)"></i><i style="height:2px;background:linear-gradient(90deg,#5aff00 0%,#32ff00 4.17%,#0bff00 8.33%,#0f0 9.58%,#00ff1a 12.5%,#00ff3d 16.67%,#00ff5f 20.83%,#00ff7f 25%,#00ff9e 29.17%,#00ffbc 33.33%,#00ffd7 37.5%,#00fff2 41.67%,#0ff 43.85%,#00f3ff 45.83%,#00dcff 50%,#00c6ff 54.17%,#00b2ff 58.33%,#009fff 62.5%,#008eff 66.67%,#007eff 70.83%,#0070ff 75%,#0064ff 79.17%,#0058ff 83.33%,#004fff 87.5%,#0047ff 91.67%,#0040ff 95.83%,#003bff 100%)"></i><i style="height:2px;background:linear-gradient(90deg,#5dff00 0%,#34ff00 4.17%,#0eff00 8.33%,#0f0 9.89%,#00ff17 12.5%,#00ff3b 16.67%,#00ff5c 20.83%,#00ff7d 25%,#00ff9c 29.17%,#00ffb9 33.33%,#00ffd5 37.5%,#00fff0 41.67%,#0ff 44.22%,#00f6ff 45.83%,#00deff 50%,#00c8ff 54.17%,#00b4ff 58.33%,#00a1ff 62.5%,#0090ff 66.67%,#0080ff 70.83%,#0072ff 75%,#0065ff 79.17%,#005aff 83.33%,#0050ff 87.5%,#0048ff 91.67%,#0041ff 95.83%,#003cff 100%)"></i><i style="height:2px;background:linear-gradient(90deg,#5fff00 0%,#37ff00 4.17%,#1f0 8.33%,#0f0 10.2%,#00ff14 12.5%,#00ff38 16.67%,#00ff5a 20.83%,#00ff7a 25%,#0f9 29.17%,#00ffb7 33.33%,#00ffd3 37.5%,#00ffed 41.67%,#0ff 44.6%,#00f8ff 45.83%,#00e0ff 50%,#00caff 54.17%,#00b6ff 58.33%,#00a3ff 62.5%,#0092ff 66.67%,#0082ff 70.83%,#0074ff 75%,#0067ff 79.17%,#005cff 83.33%,#0052ff 87.5%,#004aff 91.67%,#0043ff 95.83%,#003eff 100%)"></i><i style="height:2px;background:linear-gradient(90deg,#62ff00 0%,#3aff00 4.17%,#14ff00 8.33%,#0f0 10.51%,#00ff12 12.5%,#00ff35 16.67%,#00ff57 20.83%,#00ff78 25%,#00ff97 29.17%,#00ffb4 33.33%,#00ffd0 37.5%,#00ffeb 41.67%,#0ff 44.98%,#00faff 45.83%,#00e3ff 50%,#00cdff 54.17%,#00b8ff 58.33%,#00a5ff 62.5%,#0094ff 66.67%,#0084ff 70.83%,#0076ff 75%,#0069ff 79.17%,#005dff 83.33%,#0054ff 87.5%,#004bff 91.67%,#04f 95.83%,#003fff 100%)"></i><i style="height:2px;background:linear-gradient(90deg,#65ff00 0%,#3dff00 4.17%,#16ff00 8.33%,#0f0 10.82%,#00ff0f 12.5%,#0f3 16.67%,#0f5 20.83%,#00ff75 25%,#00ff94 29.17%,#00ffb2 33.33%,#00ffce 37.5%,#00ffe9 41.67%,#0ff 45.37%,#00fcff 45.83%,#00e5ff 50%,#00cfff 54.17%,#00baff 58.33%,#00a7ff 62.5%,#0096ff 66.67%,#0086ff 70.83%,#07f 75%,#006aff 79.17%,#005fff 83.33%,#05f 87.5%,#004dff 91.67%,#0046ff 95.83%,#0041ff 100%)"></i><i style="height:2px;background:linear-gradient(90deg,#68ff00 0%,#40ff00 4.17%,#19ff00 8.33%,#0f0 11.13%,#00ff0c 12.5%,#00ff30 16.67%,#00ff52 20.83%,#00ff73 25%,#00ff92 29.17%,#00ffb0 33.33%,#0fc 37.5%,#00ffe6 41.67%,#0ff 45.75%,#0ff 45.83%,#00e7ff 50%,#00d1ff 54.17%,#00bcff 58.33%,#00a9ff 62.5%,#0098ff 66.67%,#08f 70.83%,#0079ff 75%,#006cff 79.17%,#0061ff 83.33%,#0057ff 87.5%,#004eff 91.67%,#0047ff 95.83%,#0042ff 100%)"></i><i style="height:2px;background:linear-gradient(90deg,#6bff00 0%,#43ff00 4.17%,#1cff00 8.33%,#0f0 11.45%,#00ff09 12.5%,#00ff2d 16.67%,#00ff4f 20.83%,#00ff70 25%,#00ff8f 29.17%,#00ffad 33.33%,#00ffc9 37.5%,#00ffe4 41.67%,#00fffd 45.83%,#0ff 46.15%,#00e9ff 50%,#00d3ff 54.17%,#00beff 58.33%,#00abff 62.5%,#009aff 66.67%,#008aff 70.83%,#007bff 75%,#006eff 79.17%,#0062ff 83.33%,#0058ff 87.5%,#0050ff 91.67%,#0049ff 95.83%,#0043ff 100%)"></i><i style="height:2px;background:linear-gradient(90deg,#6eff00 0%,#46ff00 4.17%,#1fff00 8.33%,#0f0 11.77%,#00ff06 12.5%,#00ff2a 16.67%,#00ff4d 20.83%,#00ff6d 25%,#00ff8d 29.17%,#00ffab 33.33%,#00ffc7 37.5%,#00ffe2 41.67%,#00fffb 45.83%,#0ff 46.54%,#00ebff 50%,#00d5ff 54.17%,#00c1ff 58.33%,#00adff 62.5%,#009cff 66.67%,#008cff 70.83%,#007dff 75%,#0070ff 79.17%,#0064ff 83.33%,#005aff 87.5%,#0052ff 91.67%,#004bff 95.83%,#0045ff 100%)"></i><i style="height:2px;background:linear-gradient(90deg,#71ff00 0%,#49ff00 4.17%,#2f0 8.33%,#0f0 12.09%,#00ff04 12.5%,#00ff28 16.67%,#00ff4a 20.83%,#00ff6b 25%,#00ff8a 29.17%,#00ffa8 33.33%,#00ffc4 37.5%,#00ffdf 41.67%,#00fff9 45.83%,#0ff 46.94%,#0ef 50%,#00d7ff 54.17%,#00c3ff 58.33%,#00afff 62.5%,#009eff 66.67%,#008dff 70.83%,#007fff 75%,#0072ff 79.17%,#06f 83.33%,#005cff 87.5%,#0053ff 91.67%,#004cff 95.83%,#0046ff 100%)"></i><i style="height:2px;background:linear-gradient(90deg,#74ff00 0%,#4cff00 4.17%,#25ff00 8.33%,#0f0 12.42%,#00ff01 12.5%,#00ff25 16.67%,#00ff47 20.83%,#00ff68 25%,#0f8 29.17%,#00ffa5 33.33%,#00ffc2 37.5%,#0fd 41.67%,#00fff6 45.83%,#0ff 47.34%,#00f0ff 50%,#00daff 54.17%,#00c5ff 58.33%,#00b2ff 62.5%,#00a0ff 66.67%,#008fff 70.83%,#0081ff 75%,#0073ff 79.17%,#0068ff 83.33%,#005eff 87.5%,#05f 91.67%,#004eff 95.83%,#0048ff 100%)"></i><i style="height:2px;background:linear-gradient(90deg,#7f0 0%,#4fff00 4.17%,#28ff00 8.33%,#02ff00 12.5%,#0f0 12.74%,#0f2 16.67%,#0f4 20.83%,#00ff65 25%,#00ff85 29.17%,#00ffa3 33.33%,#00ffbf 37.5%,#00ffda 41.67%,#00fff4 45.83%,#0ff 47.75%,#00f2ff 50%,#00dcff 54.17%,#00c7ff 58.33%,#00b4ff 62.5%,#00a2ff 66.67%,#0091ff 70.83%,#0083ff 75%,#0075ff 79.17%,#006aff 83.33%,#005fff 87.5%,#0057ff 91.67%,#004fff 95.83%,#004aff 100%)"></i><i style="height:2px;background:linear-gradient(90deg,#7aff00 0%,#52ff00 4.17%,#2bff00 8.33%,#05ff00 12.5%,#0f0 13.07%,#00ff1f 16.67%,#00ff42 20.83%,#00ff63 25%,#00ff82 29.17%,#00ffa0 33.33%,#00ffbd 37.5%,#00ffd8 41.67%,#00fff1 45.83%,#0ff 48.16%,#00f5ff 50%,#00deff 54.17%,#00c9ff 58.33%,#00b6ff 62.5%,#00a4ff 66.67%,#0093ff 70.83%,#0085ff 75%,#07f 79.17%,#006bff 83.33%,#0061ff 87.5%,#0058ff 91.67%,#0051ff 95.83%,#004bff 100%)"></i><i style="height:2px;background:linear-gradient(90deg,#7eff00 0%,#5f0 4.17%,#2eff00 8.33%,#08ff00 12.5%,#0f0 13.4%,#00ff1c 16.67%,#00ff3f 20.83%,#00ff60 25%,#00ff80 29.17%,#00ff9e 33.33%,#00ffba 37.5%,#00ffd5 41.67%,#00ffef 45.83%,#0ff 48.58%,#00f7ff 50%,#00e0ff 54.17%,#00cbff 58.33%,#00b8ff 62.5%,#00a6ff 66.67%,#0096ff 70.83%,#0087ff 75%,#0079ff 79.17%,#006dff 83.33%,#0063ff 87.5%,#005aff 91.67%,#0053ff 95.83%,#004dff 100%)"></i><i style="height:2px;background:linear-gradient(90deg,#81ff00 0%,#58ff00 4.17%,#31ff00 8.33%,#0bff00 12.5%,#0f0 13.73%,#00ff19 16.67%,#00ff3c 20.83%,#00ff5d 25%,#00ff7d 29.17%,#00ff9b 33.33%,#00ffb8 37.5%,#00ffd3 41.67%,#00ffed 45.83%,#0ff 49%,#00f9ff 50%,#00e3ff 54.17%,#00ceff 58.33%,#00baff 62.5%,#00a8ff 66.67%,#0098ff 70.83%,#0089ff 75%,#007bff 79.17%,#006fff 83.33%,#0065ff 87.5%,#005cff 91.67%,#0054ff 95.83%,#004eff 100%)"></i><i style="height:2px;background:linear-gradient(90deg,#84ff00 0%,#5bff00 4.17%,#34ff00 8.33%,#0eff00 12.5%,#0f0 14.07%,#00ff16 16.67%,#00ff39 20.83%,#00ff5b 25%,#00ff7a 29.17%,#00ff98 33.33%,#00ffb5 37.5%,#00ffd0 41.67%,#00ffea 45.83%,#0ff 49.42%,#00fcff 50%,#00e5ff 54.17%,#00d0ff 58.33%,#00bcff 62.5%,#0af 66.67%,#009aff 70.83%,#008bff 75%,#007dff 79.17%,#0071ff 83.33%,#06f 87.5%,#005dff 91.67%,#0056ff 95.83%,#0050ff 100%)"></i><i style="height:2px;background:linear-gradient(90deg,#87ff00 0%,#5eff00 4.17%,#37ff00 8.33%,#1f0 12.5%,#0f0 14.41%,#00ff14 16.67%,#00ff36 20.83%,#00ff58 25%,#00ff78 29.17%,#00ff96 33.33%,#00ffb3 37.5%,#00ffce 41.67%,#00ffe8 45.83%,#0ff 49.85%,#00feff 50%,#00e7ff 54.17%,#00d2ff 58.33%,#00bfff 62.5%,#00acff 66.67%,#009cff 70.83%,#008dff 75%,#007fff 79.17%,#0073ff 83.33%,#0068ff 87.5%,#005fff 91.67%,#0058ff 95.83%,#0052ff 100%)"></i><i style="height:2px;background:linear-gradient(90deg,#8aff00 0%,#61ff00 4.17%,#3aff00 8.33%,#14ff00 12.5%,#0f0 14.75%,#0f1 16.67%,#0f3 20.83%,#0f5 25%,#00ff75 29.17%,#00ff93 33.33%,#00ffb0 37.5%,#00ffcb 41.67%,#00ffe5 45.83%,#00fffd 50%,#0ff 50.28%,#00eaff 54.17%,#00d5ff 58.33%,#00c1ff 62.5%,#00afff 66.67%,#009eff 70.83%,#008fff 75%,#0081ff 79.17%,#0075ff 83.33%,#006aff 87.5%,#0061ff 91.67%,#0059ff 95.83%,#0053ff 100%)"></i><i style="height:2px;background:linear-gradient(90deg,#8dff00 0%,#64ff00 4.17%,#3dff00 8.33%,#17ff00 12.5%,#0f0 15.09%,#00ff0e 16.67%,#00ff31 20.83%,#00ff52 25%,#00ff72 29.17%,#00ff90 33.33%,#00ffad 37.5%,#00ffc9 41.67%,#00ffe3 45.83%,#00fffb 50%,#0ff 50.72%,#00ecff 54.17%,#00d7ff 58.33%,#00c3ff 62.5%,#00b1ff 66.67%,#00a0ff 70.83%,#0091ff 75%,#0083ff 79.17%,#07f 83.33%,#006cff 87.5%,#0063ff 91.67%,#005bff 95.83%,#05f 100%)"></i><i style="height:2px;background:linear-gradient(90deg,#91ff00 0%,#68ff00 4.17%,#40ff00 8.33%,#1aff00 12.5%,#0f0 15.43%,#00ff0b 16.67%,#00ff2e 20.83%,#00ff4f 25%,#00ff6f 29.17%,#00ff8e 33.33%,#00ffab 37.5%,#00ffc6 41.67%,#00ffe0 45.83%,#00fff8 50%,#0ff 51.16%,#00efff 54.17%,#00d9ff 58.33%,#00c5ff 62.5%,#00b3ff 66.67%,#00a2ff 70.83%,#0093ff 75%,#0085ff 79.17%,#0079ff 83.33%,#006eff 87.5%,#0065ff 91.67%,#005dff 95.83%,#0057ff 100%)"></i><i style="height:2px;background:linear-gradient(90deg,#94ff00 0%,#6bff00 4.17%,#43ff00 8.33%,#1dff00 12.5%,#0f0 15.78%,#00ff08 16.67%,#00ff2b 20.83%,#00ff4c 25%,#00ff6c 29.17%,#00ff8b 33.33%,#00ffa8 37.5%,#00ffc4 41.67%,#0fd 45.83%,#00fff6 50%,#0ff 51.6%,#00f1ff 54.17%,#00dcff 58.33%,#00c8ff 62.5%,#00b5ff 66.67%,#00a4ff 70.83%,#0095ff 75%,#0087ff 79.17%,#007bff 83.33%,#0070ff 87.5%,#0067ff 91.67%,#005fff 95.83%,#0059ff 100%)"></i><i style="height:2px;background:linear-gradient(90deg,#97ff00 0%,#6eff00 4.17%,#46ff00 8.33%,#20ff00 12.5%,#0f0 16.13%,#00ff05 16.67%,#00ff28 20.83%,#00ff49 25%,#00ff6a 29.17%,#0f8 33.33%,#00ffa5 37.5%,#00ffc1 41.67%,#00ffdb 45.83%,#00fff3 50%,#0ff 52.05%,#00f3ff 54.17%,#00deff 58.33%,#00caff 62.5%,#00b7ff 66.67%,#00a7ff 70.83%,#0097ff 75%,#0089ff 79.17%,#007dff 83.33%,#0072ff 87.5%,#0068ff 91.67%,#0061ff 95.83%,#005aff 100%)"></i><i style="height:2px;background:linear-gradient(90deg,#9aff00 0%,#71ff00 4.17%,#49ff00 8.33%,#23ff00 12.5%,#0f0 16.48%,#00ff02 16.67%,#00ff25 20.83%,#00ff47 25%,#00ff67 29.17%,#00ff85 33.33%,#00ffa3 37.5%,#00ffbe 41.67%,#00ffd8 45.83%,#00fff1 50%,#0ff 52.5%,#00f6ff 54.17%,#00e0ff 58.33%,#0cf 62.5%,#00baff 66.67%,#00a9ff 70.83%,#09f 75%,#008bff 79.17%,#007fff 83.33%,#0074ff 87.5%,#006aff 91.67%,#0062ff 95.83%,#005cff 100%)"></i><i style="height:2px;background:linear-gradient(90deg,#9eff00 0%,#74ff00 4.17%,#4dff00 8.33%,#26ff00 12.5%,#01ff00 16.67%,#0f0 16.84%,#0f2 20.83%,#0f4 25%,#00ff64 29.17%,#00ff83 33.33%,#00ffa0 37.5%,#00ffbc 41.67%,#00ffd6 45.83%,#0fe 50%,#0ff 52.96%,#00f8ff 54.17%,#00e3ff 58.33%,#00cfff 62.5%,#00bcff 66.67%,#00abff 70.83%,#009bff 75%,#008dff 79.17%,#0081ff 83.33%,#0076ff 87.5%,#006cff 91.67%,#0064ff 95.83%,#005eff 100%)"></i><i style="height:2px;background:linear-gradient(90deg,#a1ff00 0%,#78ff00 4.17%,#50ff00 8.33%,#29ff00 12.5%,#05ff00 16.67%,#0f0 17.19%,#00ff1f 20.83%,#00ff41 25%,#00ff61 29.17%,#00ff80 33.33%,#00ff9d 37.5%,#00ffb9 41.67%,#00ffd3 45.83%,#00ffec 50%,#0ff 53.42%,#00fbff 54.17%,#00e5ff 58.33%,#00d1ff 62.5%,#00beff 66.67%,#00adff 70.83%,#009eff 75%,#008fff 79.17%,#0083ff 83.33%,#0078ff 87.5%,#006eff 91.67%,#06f 95.83%,#0060ff 100%)"></i><i style="height:2px;background:linear-gradient(90deg,#a4ff00 0%,#7bff00 4.17%,#53ff00 8.33%,#2dff00 12.5%,#08ff00 16.67%,#0f0 17.55%,#00ff1c 20.83%,#00ff3e 25%,#00ff5e 29.17%,#00ff7d 33.33%,#00ff9a 37.5%,#00ffb6 41.67%,#00ffd0 45.83%,#00ffe9 50%,#0ff 53.89%,#00fdff 54.17%,#00e8ff 58.33%,#00d3ff 62.5%,#00c1ff 66.67%,#00b0ff 70.83%,#00a0ff 75%,#0092ff 79.17%,#0085ff 83.33%,#007aff 87.5%,#0070ff 91.67%,#0068ff 95.83%,#0062ff 100%)"></i><i style="height:2px;background:linear-gradient(90deg,#a8ff00 0%,#7eff00 4.17%,#56ff00 8.33%,#30ff00 12.5%,#0bff00 16.67%,#0f0 17.91%,#00ff19 20.83%,#00ff3b 25%,#00ff5b 29.17%,#00ff7a 33.33%,#00ff97 37.5%,#00ffb3 41.67%,#00ffce 45.83%,#00ffe7 50%,#00fffe 54.17%,#0ff 54.36%,#00eaff 58.33%,#00d6ff 62.5%,#00c3ff 66.67%,#00b2ff 70.83%,#00a2ff 75%,#0094ff 79.17%,#0087ff 83.33%,#007cff 87.5%,#0072ff 91.67%,#006aff 95.83%,#0063ff 100%)"></i><i style="height:2px;background:linear-gradient(90deg,#abff00 0%,#82ff00 4.17%,#5aff00 8.33%,#3f0 12.5%,#0eff00 16.67%,#0f0 18.28%,#00ff16 20.83%,#00ff38 25%,#00ff58 29.17%,#0f7 33.33%,#00ff95 37.5%,#00ffb1 41.67%,#00ffcb 45.83%,#00ffe4 50%,#00fffb 54.17%,#0ff 54.84%,#00edff 58.33%,#00d8ff 62.5%,#00c6ff 66.67%,#00b4ff 70.83%,#00a4ff 75%,#0096ff 79.17%,#0089ff 83.33%,#007eff 87.5%,#0074ff 91.67%,#006cff 95.83%,#0065ff 100%)"></i><i style="height:2px;background:linear-gradient(90deg,#afff00 0%,#85ff00 4.17%,#5dff00 8.33%,#36ff00 12.5%,#1f0 16.67%,#0f0 18.64%,#00ff12 20.83%,#00ff35 25%,#0f5 29.17%,#00ff74 33.33%,#00ff92 37.5%,#00ffae 41.67%,#00ffc8 45.83%,#00ffe1 50%,#00fff9 54.17%,#0ff 55.32%,#00efff 58.33%,#00dbff 62.5%,#00c8ff 66.67%,#00b7ff 70.83%,#00a7ff 75%,#0098ff 79.17%,#008bff 83.33%,#0080ff 87.5%,#0076ff 91.67%,#006eff 95.83%,#0067ff 100%)"></i><i style="height:2px;background:linear-gradient(90deg,#b2ff00 0%,#8f0 4.17%,#60ff00 8.33%,#39ff00 12.5%,#14ff00 16.67%,#0f0 19.01%,#00ff0f 20.83%,#00ff32 25%,#00ff52 29.17%,#00ff71 33.33%,#00ff8f 37.5%,#00ffab 41.67%,#00ffc6 45.83%,#00ffdf 50%,#00fff6 54.17%,#0ff 55.81%,#00f2ff 58.33%,#0df 62.5%,#00caff 66.67%,#00b9ff 70.83%,#00a9ff 75%,#009aff 79.17%,#008eff 83.33%,#0082ff 87.5%,#0078ff 91.67%,#0070ff 95.83%,#0069ff 100%)"></i><i style="height:2px;background:linear-gradient(90deg,#b6ff00 0%,#8cff00 4.17%,#64ff00 8.33%,#3dff00 12.5%,#17ff00 16.67%,#0f0 19.38%,#00ff0c 20.83%,#00ff2e 25%,#00ff4f 29.17%,#00ff6e 33.33%,#00ff8c 37.5%,#00ffa8 41.67%,#00ffc3 45.83%,#00ffdc 50%,#00fff4 54.17%,#0ff 56.3%,#00f4ff 58.33%,#00e0ff 62.5%,#00cdff 66.67%,#0bf 70.83%,#00abff 75%,#009dff 79.17%,#0090ff 83.33%,#0084ff 87.5%,#007aff 91.67%,#0072ff 95.83%,#006bff 100%)"></i><i style="height:2px;background:linear-gradient(90deg,#b9ff00 0%,#8fff00 4.17%,#67ff00 8.33%,#40ff00 12.5%,#1bff00 16.67%,#0f0 19.76%,#00ff09 20.83%,#00ff2b 25%,#00ff4c 29.17%,#00ff6b 33.33%,#00ff89 37.5%,#00ffa5 41.67%,#00ffc0 45.83%,#00ffd9 50%,#00fff1 54.17%,#0ff 56.8%,#00f7ff 58.33%,#00e2ff 62.5%,#00cfff 66.67%,#00beff 70.83%,#00aeff 75%,#009fff 79.17%,#0092ff 83.33%,#0086ff 87.5%,#007cff 91.67%,#0074ff 95.83%,#006dff 100%)"></i><i style="height:2px;background:linear-gradient(90deg,#bdff00 0%,#93ff00 4.17%,#6aff00 8.33%,#43ff00 12.5%,#1eff00 16.67%,#0f0 20.13%,#00ff06 20.83%,#00ff28 25%,#00ff49 29.17%,#00ff68 33.33%,#00ff86 37.5%,#00ffa2 41.67%,#00ffbd 45.83%,#00ffd6 50%,#0fe 54.17%,#0ff 57.3%,#00faff 58.33%,#00e5ff 62.5%,#00d2ff 66.67%,#00c0ff 70.83%,#00b0ff 75%,#00a1ff 79.17%,#0094ff 83.33%,#0089ff 87.5%,#007fff 91.67%,#0076ff 95.83%,#006fff 100%)"></i><i style="height:2px;background:linear-gradient(90deg,#c0ff00 0%,#96ff00 4.17%,#6eff00 8.33%,#47ff00 12.5%,#21ff00 16.67%,#0f0 20.51%,#00ff03 20.83%,#00ff25 25%,#00ff46 29.17%,#00ff65 33.33%,#00ff83 37.5%,#00ffa0 41.67%,#00ffba 45.83%,#00ffd4 50%,#00ffeb 54.17%,#0ff 57.81%,#00fcff 58.33%,#00e8ff 62.5%,#00d4ff 66.67%,#00c3ff 70.83%,#00b2ff 75%,#00a4ff 79.17%,#0097ff 83.33%,#008bff 87.5%,#0081ff 91.67%,#0078ff 95.83%,#0071ff 100%)"></i><i style="height:2px;background:linear-gradient(90deg,#c4ff00 0%,#9aff00 4.17%,#71ff00 8.33%,#4aff00 12.5%,#24ff00 16.67%,#01ff00 20.83%,#0f0 20.89%,#0f2 25%,#00ff43 29.17%,#00ff62 33.33%,#00ff80 37.5%,#00ff9d 41.67%,#00ffb8 45.83%,#00ffd1 50%,#00ffe9 54.17%,#0ff 58.32%,#0ff 58.33%,#00eaff 62.5%,#00d7ff 66.67%,#00c5ff 70.83%,#00b5ff 75%,#00a6ff 79.17%,#09f 83.33%,#008dff 87.5%,#0083ff 91.67%,#007aff 95.83%,#0073ff 100%)"></i><i style="height:2px;background:linear-gradient(90deg,#c7ff00 0%,#9dff00 4.17%,#74ff00 8.33%,#4dff00 12.5%,#28ff00 16.67%,#04ff00 20.83%,#0f0 21.28%,#00ff1f 25%,#00ff40 29.17%,#00ff5f 33.33%,#00ff7d 37.5%,#00ff9a 41.67%,#00ffb5 45.83%,#00ffce 50%,#00ffe6 54.17%,#00fffc 58.33%,#0ff 58.84%,#00edff 62.5%,#00d9ff 66.67%,#00c8ff 70.83%,#00b7ff 75%,#00a8ff 79.17%,#009bff 83.33%,#008fff 87.5%,#0085ff 91.67%,#007cff 95.83%,#0075ff 100%)"></i><i style="height:2px;background:linear-gradient(90deg,#cbff00 0%,#a1ff00 4.17%,#78ff00 8.33%,#51ff00 12.5%,#2bff00 16.67%,#07ff00 20.83%,#0f0 21.66%,#00ff1c 25%,#00ff3d 29.17%,#00ff5c 33.33%,#00ff7a 37.5%,#00ff97 41.67%,#00ffb2 45.83%,#00ffcb 50%,#00ffe3 54.17%,#00fffa 58.33%,#0ff 59.36%,#00efff 62.5%,#00dcff 66.67%,#00caff 70.83%,#00baff 75%,#00abff 79.17%,#009dff 83.33%,#0092ff 87.5%,#0087ff 91.67%,#007eff 95.83%,#07f 100%)"></i><i style="height:2px;background:linear-gradient(90deg,#ceff00 0%,#a4ff00 4.17%,#7bff00 8.33%,#54ff00 12.5%,#2eff00 16.67%,#0aff00 20.83%,#0f0 22.05%,#00ff18 25%,#00ff3a 29.17%,#00ff59 33.33%,#0f7 37.5%,#00ff94 41.67%,#00ffaf 45.83%,#00ffc8 50%,#00ffe0 54.17%,#00fff7 58.33%,#0ff 59.89%,#00f2ff 62.5%,#00dfff 66.67%,#00cdff 70.83%,#00bcff 75%,#00adff 79.17%,#00a0ff 83.33%,#0094ff 87.5%,#0089ff 91.67%,#0081ff 95.83%,#0079ff 100%)"></i><i style="height:2px;background:linear-gradient(90deg,#d2ff00 0%,#a8ff00 4.17%,#7fff00 8.33%,#58ff00 12.5%,#32ff00 16.67%,#0eff00 20.83%,#0f0 22.45%,#00ff15 25%,#00ff36 29.17%,#00ff56 33.33%,#00ff74 37.5%,#00ff91 41.67%,#00ffac 45.83%,#00ffc6 50%,#00ffde 54.17%,#00fff4 58.33%,#0ff 60.42%,#00f5ff 62.5%,#00e1ff 66.67%,#00cfff 70.83%,#00bfff 75%,#00b0ff 79.17%,#00a2ff 83.33%,#0096ff 87.5%,#008cff 91.67%,#0083ff 95.83%,#007bff 100%)"></i><i style="height:2px;background:linear-gradient(90deg,#d6ff00 0%,#abff00 4.17%,#82ff00 8.33%,#5bff00 12.5%,#35ff00 16.67%,#1f0 20.83%,#0f0 22.84%,#00ff12 25%,#0f3 29.17%,#00ff53 33.33%,#00ff71 37.5%,#00ff8e 41.67%,#00ffa9 45.83%,#00ffc3 50%,#00ffdb 54.17%,#00fff1 58.33%,#0ff 60.96%,#00f7ff 62.5%,#00e4ff 66.67%,#00d2ff 70.83%,#00c1ff 75%,#00b2ff 79.17%,#00a4ff 83.33%,#0098ff 87.5%,#008eff 91.67%,#0085ff 95.83%,#007dff 100%)"></i><i style="height:2px;background:linear-gradient(90deg,#d9ff00 0%,#afff00 4.17%,#86ff00 8.33%,#5fff00 12.5%,#39ff00 16.67%,#14ff00 20.83%,#0f0 23.24%,#00ff0f 25%,#00ff30 29.17%,#00ff50 33.33%,#00ff6e 37.5%,#00ff8b 41.67%,#00ffa6 45.83%,#00ffc0 50%,#00ffd8 54.17%,#00ffef 58.33%,#0ff 61.51%,#00faff 62.5%,#00e6ff 66.67%,#00d4ff 70.83%,#00c4ff 75%,#00b4ff 79.17%,#00a7ff 83.33%,#009bff 87.5%,#0090ff 91.67%,#0087ff 95.83%,#0080ff 100%)"></i><i style="height:2px;background:linear-gradient(90deg,#df0 0%,#b2ff00 4.17%,#8aff00 8.33%,#62ff00 12.5%,#3cff00 16.67%,#18ff00 20.83%,#0f0 23.64%,#00ff0b 25%,#00ff2d 29.17%,#00ff4c 33.33%,#00ff6b 37.5%,#0f8 41.67%,#00ffa3 45.83%,#00ffbd 50%,#00ffd5 54.17%,#00ffec 58.33%,#0ff 62.06%,#00fdff 62.5%,#00e9ff 66.67%,#00d7ff 70.83%,#00c6ff 75%,#00b7ff 79.17%,#00a9ff 83.33%,#009dff 87.5%,#0093ff 91.67%,#0089ff 95.83%,#0082ff 100%)"></i><i style="height:2px;background:linear-gradient(90deg,#e1ff00 0%,#b6ff00 4.17%,#8dff00 8.33%,#6f0 12.5%,#40ff00 16.67%,#1bff00 20.83%,#0f0 24.04%,#00ff08 25%,#00ff29 29.17%,#00ff49 33.33%,#00ff68 37.5%,#00ff85 41.67%,#00ffa0 45.83%,#00ffba 50%,#00ffd2 54.17%,#00ffe9 58.33%,#00fffe 62.5%,#0ff 62.62%,#00ecff 66.67%,#00daff 70.83%,#00c9ff 75%,#00b9ff 79.17%,#00acff 83.33%,#00a0ff 87.5%,#0095ff 91.67%,#008cff 95.83%,#0084ff 100%)"></i><i style="height:2px;background:linear-gradient(90deg,#e4ff00 0%,#baff00 4.17%,#91ff00 8.33%,#69ff00 12.5%,#43ff00 16.67%,#1eff00 20.83%,#0f0 24.45%,#00ff05 25%,#00ff26 29.17%,#00ff46 33.33%,#00ff65 37.5%,#00ff82 41.67%,#00ff9d 45.83%,#00ffb7 50%,#00ffcf 54.17%,#00ffe6 58.33%,#00fffc 62.5%,#0ff 63.19%,#00efff 66.67%,#00dcff 70.83%,#00cbff 75%,#00bcff 79.17%,#00aeff 83.33%,#00a2ff 87.5%,#0097ff 91.67%,#008eff 95.83%,#0086ff 100%)"></i><i style="height:2px;background:linear-gradient(90deg,#e8ff00 0%,#bdff00 4.17%,#94ff00 8.33%,#6dff00 12.5%,#46ff00 16.67%,#2f0 20.83%,#0f0 24.85%,#00ff01 25%,#00ff23 29.17%,#00ff43 33.33%,#00ff61 37.5%,#00ff7e 41.67%,#00ff9a 45.83%,#00ffb4 50%,#0fc 54.17%,#00ffe3 58.33%,#00fff9 62.5%,#0ff 63.76%,#00f1ff 66.67%,#00dfff 70.83%,#00ceff 75%,#00bfff 79.17%,#00b1ff 83.33%,#00a4ff 87.5%,#009aff 91.67%,#0090ff 95.83%,#08f 100%)"></i><i style="height:2px;background:linear-gradient(90deg,#ecff00 0%,#c1ff00 4.17%,#98ff00 8.33%,#70ff00 12.5%,#4aff00 16.67%,#25ff00 20.83%,#02ff00 25%,#0f0 25.26%,#00ff1f 29.17%,#00ff40 33.33%,#00ff5e 37.5%,#00ff7b 41.67%,#00ff97 45.83%,#00ffb1 50%,#00ffc9 54.17%,#00ffe0 58.33%,#00fff6 62.5%,#0ff 64.34%,#00f4ff 66.67%,#00e2ff 70.83%,#00d1ff 75%,#00c1ff 79.17%,#00b3ff 83.33%,#00a7ff 87.5%,#009cff 91.67%,#0093ff 95.83%,#008bff 100%)"></i><i style="height:2px;background:linear-gradient(90deg,#f0ff00 0%,#c5ff00 4.17%,#9cff00 8.33%,#74ff00 12.5%,#4eff00 16.67%,#29ff00 20.83%,#06ff00 25%,#0f0 25.68%,#00ff1c 29.17%,#00ff3c 33.33%,#00ff5b 37.5%,#00ff78 41.67%,#00ff94 45.83%,#00ffae 50%,#00ffc7 54.17%,#00ffde 58.33%,#00fff3 62.5%,#0ff 64.92%,#00f7ff 66.67%,#00e4ff 70.83%,#00d3ff 75%,#00c4ff 79.17%,#00b6ff 83.33%,#00a9ff 87.5%,#009eff 91.67%,#0095ff 95.83%,#008dff 100%)"></i><i style="height:2px;background:linear-gradient(90deg,#f3ff00 0%,#c9ff00 4.17%,#9fff00 8.33%,#7f0 12.5%,#51ff00 16.67%,#2cff00 20.83%,#09ff00 25%,#0f0 26.09%,#00ff19 29.17%,#00ff39 33.33%,#00ff58 37.5%,#00ff75 41.67%,#00ff91 45.83%,#00ffab 50%,#00ffc4 54.17%,#00ffdb 58.33%,#00fff0 62.5%,#0ff 65.52%,#00faff 66.67%,#00e7ff 70.83%,#00d6ff 75%,#00c6ff 79.17%,#00b8ff 83.33%,#00acff 87.5%,#00a1ff 91.67%,#0097ff 95.83%,#008fff 100%)"></i><i style="height:2px;background:linear-gradient(90deg,#f7ff00 0%,#cf0 4.17%,#a3ff00 8.33%,#7bff00 12.5%,#5f0 16.67%,#30ff00 20.83%,#0cff00 25%,#0f0 26.51%,#00ff15 29.17%,#00ff36 33.33%,#00ff54 37.5%,#00ff72 41.67%,#00ff8d 45.83%,#00ffa8 50%,#00ffc1 54.17%,#00ffd8 58.33%,#00ffed 62.5%,#0ff 66.11%,#00fcff 66.67%,#00eaff 70.83%,#00d9ff 75%,#00c9ff 79.17%,#0bf 83.33%,#00aeff 87.5%,#00a3ff 91.67%,#009aff 95.83%,#0092ff 100%)"></i><i style="height:2px;background:linear-gradient(90deg,#fbff00 0%,#d0ff00 4.17%,#a7ff00 8.33%,#7fff00 12.5%,#58ff00 16.67%,#3f0 20.83%,#10ff00 25%,#0f0 26.94%,#00ff12 29.17%,#00ff32 33.33%,#00ff51 37.5%,#00ff6f 41.67%,#00ff8a 45.83%,#00ffa5 50%,#00ffbd 54.17%,#00ffd5 58.33%,#00ffeb 62.5%,#0ff 66.67%,#0ff 66.72%,#00edff 70.83%,#00dbff 75%,#0cf 79.17%,#00bdff 83.33%,#00b1ff 87.5%,#00a6ff 91.67%,#009cff 95.83%,#0094ff 100%)"></i><i style="height:2px;background:linear-gradient(90deg,#ff0 0%,#d4ff00 4.17%,#af0 8.33%,#82ff00 12.5%,#5cff00 16.67%,#37ff00 20.83%,#13ff00 25%,#0f0 27.36%,#00ff0f 29.17%,#00ff2f 33.33%,#00ff4e 37.5%,#00ff6b 41.67%,#00ff87 45.83%,#00ffa2 50%,#00ffba 54.17%,#00ffd2 58.33%,#00ffe8 62.5%,#00fffc 66.67%,#0ff 67.33%,#00efff 70.83%,#00deff 75%,#00ceff 79.17%,#00c0ff 83.33%,#00b3ff 87.5%,#00a8ff 91.67%,#009eff 95.83%,#0096ff 100%)"></i><i style="height:2px;background:linear-gradient(90deg,#fffb00 0%,#ff0 0.37%,#d8ff00 4.17%,#aeff00 8.33%,#86ff00 12.5%,#60ff00 16.67%,#3bff00 20.83%,#17ff00 25%,#0f0 27.79%,#00ff0b 29.17%,#00ff2c 33.33%,#00ff4b 37.5%,#00ff68 41.67%,#00ff84 45.83%,#00ff9e 50%,#00ffb7 54.17%,#00ffcf 58.33%,#00ffe5 62.5%,#00fff9 66.67%,#0ff 67.96%,#00f2ff 70.83%,#00e1ff 75%,#00d1ff 79.17%,#00c3ff 83.33%,#00b6ff 87.5%,#00abff 91.67%,#00a1ff 95.83%,#09f 100%)"></i><i style="height:2px;background:linear-gradient(90deg,#fff700 0%,#ff0 0.74%,#dcff00 4.17%,#b2ff00 8.33%,#8aff00 12.5%,#63ff00 16.67%,#3eff00 20.83%,#1aff00 25%,#0f0 28.22%,#00ff08 29.17%,#00ff28 33.33%,#00ff47 37.5%,#00ff65 41.67%,#00ff81 45.83%,#00ff9b 50%,#00ffb4 54.17%,#0fc 58.33%,#00ffe2 62.5%,#00fff6 66.67%,#0ff 68.59%,#00f5ff 70.83%,#00e4ff 75%,#00d4ff 79.17%,#00c5ff 83.33%,#00b8ff 87.5%,#00adff 91.67%,#00a3ff 95.83%,#009bff 100%)"></i><i style="height:2px;background:linear-gradient(90deg,#fff300 0%,#ff0 1.12%,#dfff00 4.17%,#b6ff00 8.33%,#8eff00 12.5%,#67ff00 16.67%,#42ff00 20.83%,#1eff00 25%,#0f0 28.65%,#00ff04 29.17%,#00ff25 33.33%,#0f4 37.5%,#00ff61 41.67%,#00ff7e 45.83%,#00ff98 50%,#00ffb1 54.17%,#00ffc9 58.33%,#00ffdf 62.5%,#00fff3 66.67%,#0ff 69.22%,#00f8ff 70.83%,#00e6ff 75%,#00d6ff 79.17%,#00c8ff 83.33%,#0bf 87.5%,#00b0ff 91.67%,#00a6ff 95.83%,#009dff 100%)"></i><i style="height:2px;background:linear-gradient(90deg,#ffef00 0%,#ff0 1.49%,#e3ff00 4.17%,#baff00 8.33%,#91ff00 12.5%,#6bff00 16.67%,#45ff00 20.83%,#2f0 25%,#0f0 29.09%,#00ff01 29.17%,#00ff21 33.33%,#00ff40 37.5%,#00ff5e 41.67%,#00ff7a 45.83%,#00ff95 50%,#00ffae 54.17%,#00ffc6 58.33%,#00ffdc 62.5%,#00fff0 66.67%,#0ff 69.87%,#00fbff 70.83%,#00e9ff 75%,#00d9ff 79.17%,#00cbff 83.33%,#00beff 87.5%,#00b2ff 91.67%,#00a8ff 95.83%,#00a0ff 100%)"></i><i style="height:2px;background:linear-gradient(90deg,#ffeb00 0%,#ff0 1.87%,#e7ff00 4.17%,#bdff00 8.33%,#95ff00 12.5%,#6eff00 16.67%,#49ff00 20.83%,#25ff00 25%,#03ff00 29.17%,#0f0 29.53%,#00ff1e 33.33%,#00ff3d 37.5%,#00ff5b 41.67%,#0f7 45.83%,#00ff92 50%,#00ffab 54.17%,#00ffc2 58.33%,#00ffd9 62.5%,#00ffed 66.67%,#0ff 70.52%,#00feff 70.83%,#00ecff 75%,#00dcff 79.17%,#00cdff 83.33%,#00c0ff 87.5%,#00b5ff 91.67%,#00abff 95.83%,#00a2ff 100%)"></i><i style="height:2px;background:linear-gradient(90deg,#ffe700 0%,#ff0 2.25%,#ebff00 4.17%,#c1ff00 8.33%,#9f0 12.5%,#72ff00 16.67%,#4dff00 20.83%,#29ff00 25%,#06ff00 29.17%,#0f0 29.97%,#00ff1a 33.33%,#00ff3a 37.5%,#00ff57 41.67%,#00ff74 45.83%,#00ff8e 50%,#00ffa8 54.17%,#00ffbf 58.33%,#00ffd6 62.5%,#00ffea 66.67%,#00fffd 70.83%,#0ff 71.18%,#00efff 75%,#00dfff 79.17%,#00d0ff 83.33%,#00c3ff 87.5%,#00b7ff 91.67%,#00adff 95.83%,#00a5ff 100%)"></i><i style="height:2px;background:linear-gradient(90deg,#ffe300 0%,#ff0 2.63%,#efff00 4.17%,#c5ff00 8.33%,#9dff00 12.5%,#76ff00 16.67%,#50ff00 20.83%,#2cff00 25%,#0aff00 29.17%,#0f0 30.42%,#00ff17 33.33%,#00ff36 37.5%,#00ff54 41.67%,#00ff70 45.83%,#00ff8b 50%,#00ffa5 54.17%,#00ffbc 58.33%,#00ffd3 62.5%,#00ffe7 66.67%,#00fffa 70.83%,#0ff 71.86%,#00f2ff 75%,#00e2ff 79.17%,#00d3ff 83.33%,#00c6ff 87.5%,#00baff 91.67%,#00b0ff 95.83%,#00a7ff 100%)"></i><i style="height:2px;background:linear-gradient(90deg,#ffdf00 0%,#ff0 3.02%,#f3ff00 4.17%,#c9ff00 8.33%,#a1ff00 12.5%,#7aff00 16.67%,#54ff00 20.83%,#30ff00 25%,#0eff00 29.17%,#0f0 30.87%,#00ff13 33.33%,#0f3 37.5%,#00ff51 41.67%,#00ff6d 45.83%,#0f8 50%,#00ffa1 54.17%,#00ffb9 58.33%,#00ffcf 62.5%,#00ffe4 66.67%,#00fff8 70.83%,#0ff 72.54%,#00f5ff 75%,#00e4ff 79.17%,#00d6ff 83.33%,#00c8ff 87.5%,#00bdff 91.67%,#00b3ff 95.83%,#0af 100%)"></i><i style="height:2px;background:linear-gradient(90deg,#ffdb00 0%,#ff0 3.41%,#f7ff00 4.17%,#cdff00 8.33%,#a4ff00 12.5%,#7dff00 16.67%,#58ff00 20.83%,#34ff00 25%,#1f0 29.17%,#0f0 31.32%,#00ff10 33.33%,#00ff2f 37.5%,#00ff4d 41.67%,#00ff6a 45.83%,#00ff85 50%,#00ff9e 54.17%,#00ffb6 58.33%,#0fc 62.5%,#00ffe1 66.67%,#00fff5 70.83%,#0ff 73.23%,#00f8ff 75%,#00e7ff 79.17%,#00d8ff 83.33%,#00cbff 87.5%,#00bfff 91.67%,#00b5ff 95.83%,#00acff 100%)"></i><i style="height:2px;background:linear-gradient(90deg,#ffd700 0%,#ff0 3.79%,#fbff00 4.17%,#d1ff00 8.33%,#a8ff00 12.5%,#81ff00 16.67%,#5cff00 20.83%,#37ff00 25%,#15ff00 29.17%,#0f0 31.78%,#00ff0c 33.33%,#00ff2c 37.5%,#00ff4a 41.67%,#0f6 45.83%,#00ff81 50%,#00ff9b 54.17%,#00ffb3 58.33%,#00ffc9 62.5%,#00ffde 66.67%,#00fff2 70.83%,#0ff 73.93%,#00fbff 75%,#00eaff 79.17%,#00dbff 83.33%,#00ceff 87.5%,#00c2ff 91.67%,#00b8ff 95.83%,#00afff 100%)"></i><i style="height:2px;background:linear-gradient(90deg,#ffd300 0%,#ff0 4.17%,#ff0 4.18%,#d5ff00 8.33%,#acff00 12.5%,#85ff00 16.67%,#5fff00 20.83%,#3bff00 25%,#19ff00 29.17%,#0f0 32.23%,#00ff09 33.33%,#00ff28 37.5%,#00ff46 41.67%,#00ff63 45.83%,#00ff7e 50%,#00ff98 54.17%,#00ffb0 58.33%,#00ffc6 62.5%,#00ffdb 66.67%,#00ffef 70.83%,#0ff 74.64%,#00fdff 75%,#00edff 79.17%,#00deff 83.33%,#00d1ff 87.5%,#00c5ff 91.67%,#00baff 95.83%,#00b2ff 100%)"></i><i style="height:2px;background:linear-gradient(90deg,#ffcf00 0%,#fffb00 4.17%,#ff0 4.58%,#d9ff00 8.33%,#b0ff00 12.5%,#89ff00 16.67%,#63ff00 20.83%,#3fff00 25%,#1cff00 29.17%,#0f0 32.7%,#00ff05 33.33%,#00ff25 37.5%,#00ff43 41.67%,#00ff5f 45.83%,#00ff7b 50%,#00ff94 54.17%,#00ffac 58.33%,#00ffc3 62.5%,#00ffd8 66.67%,#00ffeb 70.83%,#00fffe 75%,#0ff 75.36%,#00f0ff 79.17%,#00e1ff 83.33%,#00d3ff 87.5%,#00c8ff 91.67%,#00bdff 95.83%,#00b4ff 100%)"></i><i style="height:2px;background:linear-gradient(90deg,#ffcb00 0%,#fff700 4.17%,#ff0 4.97%,#df0 8.33%,#b4ff00 12.5%,#8dff00 16.67%,#67ff00 20.83%,#43ff00 25%,#20ff00 29.17%,#0f0 33.16%,#00ff01 33.33%,#00ff21 37.5%,#00ff3f 41.67%,#00ff5c 45.83%,#0f7 50%,#00ff91 54.17%,#00ffa9 58.33%,#00ffc0 62.5%,#00ffd5 66.67%,#00ffe8 70.83%,#00fffb 75%,#0ff 76.09%,#00f3ff 79.17%,#00e4ff 83.33%,#00d6ff 87.5%,#00caff 91.67%,#00c0ff 95.83%,#00b7ff 100%)"></i><i style="height:2px;background:linear-gradient(90deg,#ffc700 0%,#fff300 4.17%,#ff0 5.37%,#e1ff00 8.33%,#b8ff00 12.5%,#91ff00 16.67%,#6bff00 20.83%,#46ff00 25%,#24ff00 29.17%,#02ff00 33.33%,#0f0 33.63%,#00ff1e 37.5%,#00ff3c 41.67%,#00ff59 45.83%,#00ff74 50%,#00ff8e 54.17%,#00ffa6 58.33%,#00ffbc 62.5%,#00ffd2 66.67%,#00ffe5 70.83%,#00fff7 75%,#0ff 76.83%,#00f6ff 79.17%,#00e7ff 83.33%,#00d9ff 87.5%,#00cdff 91.67%,#00c2ff 95.83%,#00b9ff 100%)"></i><i style="height:2px;background:linear-gradient(90deg,#ffc200 0%,#ffef00 4.17%,#ff0 5.77%,#e5ff00 8.33%,#bcff00 12.5%,#95ff00 16.67%,#6fff00 20.83%,#4aff00 25%,#27ff00 29.17%,#06ff00 33.33%,#0f0 34.1%,#00ff1a 37.5%,#00ff38 41.67%,#0f5 45.83%,#00ff70 50%,#00ff8a 54.17%,#00ffa2 58.33%,#00ffb9 62.5%,#00ffcf 66.67%,#00ffe2 70.83%,#00fff4 75%,#0ff 77.59%,#00f9ff 79.17%,#00eaff 83.33%,#00dcff 87.5%,#00d0ff 91.67%,#00c5ff 95.83%,#00bcff 100%)"></i><i style="height:2px;background:linear-gradient(90deg,#ffbe00 0%,#ffea00 4.17%,#ff0 6.17%,#e9ff00 8.33%,#c0ff00 12.5%,#9f0 16.67%,#73ff00 20.83%,#4eff00 25%,#2bff00 29.17%,#0aff00 33.33%,#0f0 34.57%,#00ff16 37.5%,#00ff35 41.67%,#00ff52 45.83%,#00ff6d 50%,#00ff87 54.17%,#00ff9f 58.33%,#00ffb6 62.5%,#00ffcb 66.67%,#00ffdf 70.83%,#00fff1 75%,#0ff 78.35%,#00fcff 79.17%,#00edff 83.33%,#00dfff 87.5%,#00d3ff 91.67%,#00c8ff 95.83%,#00bfff 100%)"></i><i style="height:2px;background:linear-gradient(90deg,#ffba00 0%,#ffe600 4.17%,#ff0 6.57%,#edff00 8.33%,#c4ff00 12.5%,#9cff00 16.67%,#76ff00 20.83%,#52ff00 25%,#2fff00 29.17%,#0dff00 33.33%,#0f0 35.05%,#00ff13 37.5%,#00ff31 41.67%,#00ff4e 45.83%,#00ff69 50%,#00ff83 54.17%,#00ff9c 58.33%,#00ffb3 62.5%,#00ffc8 66.67%,#00ffdc 70.83%,#0fe 75%,#0ff 79.13%,#0ff 79.17%,#00f0ff 83.33%,#00e2ff 87.5%,#00d5ff 91.67%,#00cbff 95.83%,#00c1ff 100%)"></i><i style="height:2px;background:linear-gradient(90deg,#ffb600 0%,#ffe200 4.17%,#ff0 6.98%,#f1ff00 8.33%,#c8ff00 12.5%,#a0ff00 16.67%,#7aff00 20.83%,#56ff00 25%,#3f0 29.17%,#1f0 33.33%,#0f0 35.53%,#00ff0f 37.5%,#00ff2e 41.67%,#00ff4a 45.83%,#0f6 50%,#00ff80 54.17%,#00ff98 58.33%,#00ffaf 62.5%,#00ffc5 66.67%,#00ffd9 70.83%,#00ffeb 75%,#00fffc 79.17%,#0ff 79.92%,#00f3ff 83.33%,#00e5ff 87.5%,#00d8ff 91.67%,#00ceff 95.83%,#00c4ff 100%)"></i><i style="height:2px;background:linear-gradient(90deg,#ffb200 0%,#ffde00 4.17%,#ff0 7.39%,#f5ff00 8.33%,#cf0 12.5%,#a4ff00 16.67%,#7eff00 20.83%,#5aff00 25%,#36ff00 29.17%,#15ff00 33.33%,#0f0 36.02%,#00ff0b 37.5%,#00ff2a 41.67%,#00ff47 45.83%,#00ff63 50%,#00ff7d 54.17%,#00ff95 58.33%,#00ffac 62.5%,#00ffc2 66.67%,#00ffd6 70.83%,#00ffe8 75%,#00fff9 79.17%,#0ff 80.73%,#00f6ff 83.33%,#00e8ff 87.5%,#00dbff 91.67%,#00d0ff 95.83%,#00c7ff 100%)"></i><i style="height:2px;background:linear-gradient(90deg,#ffad00 0%,#ffda00 4.17%,#ff0 7.8%,#faff00 8.33%,#d0ff00 12.5%,#a9ff00 16.67%,#82ff00 20.83%,#5eff00 25%,#3aff00 29.17%,#19ff00 33.33%,#0f0 36.51%,#00ff08 37.5%,#00ff26 41.67%,#00ff43 45.83%,#00ff5f 50%,#00ff79 54.17%,#00ff92 58.33%,#00ffa9 62.5%,#00ffbe 66.67%,#00ffd2 70.83%,#00ffe5 75%,#00fff6 79.17%,#0ff 81.55%,#00f9ff 83.33%,#00ebff 87.5%,#00deff 91.67%,#00d3ff 95.83%,#00caff 100%)"></i></div>
<div class="h" style="left:40px;top:290.5px;width:205px;height:205.5px"><i style="height:2px;background:linear-gradient(90deg,#ffb100 0%,#fd0 4.17%,#ff0 7.53%,#f7ff00 8.33%,#ceff00 12.5%,#a6ff00 16.67%,#80ff00 20.83%,#5bff00 25%,#37ff00 29.17%,#15ff00 33.33%,#0f0 36.05%,#00ff0b 37.5%,#00ff2a 41.67%,#00ff48 45.83%,#00ff65 50%,#00ff80 54.17%,#0f9 58.33%,#00ffb2 62.5%,#00ffc8 66.67%,#00ffde 70.83%,#00fff2 75%,#0ff 77.93%,#00faff 79.17%,#00e8ff 83.33%,#00d9ff 87.5%,#00caff 91.67%,#00bdff 95.83%,#00b2ff 100%)"></i><i style="height:2px;background:linear-gradient(90deg,#ffb500 0%,#ffe100 4.17%,#ff0 7.15%,#f3ff00 8.33%,#caff00 12.5%,#a2ff00 16.67%,#7cff00 20.83%,#58ff00 25%,#34ff00 29.17%,#12ff00 33.33%,#0f0 35.65%,#00ff0e 37.5%,#00ff2d 41.67%,#00ff4b 45.83%,#00ff68 50%,#00ff83 54.17%,#00ff9c 58.33%,#00ffb4 62.5%,#00ffcb 66.67%,#00ffe0 70.83%,#00fff4 75%,#0ff 77.42%,#00f7ff 79.17%,#00e6ff 83.33%,#00d7ff 87.5%,#00c8ff 91.67%,#0bf 95.83%,#00b0ff 100%)"></i><i style="height:2px;background:linear-gradient(90deg,#ffb900 0%,#ffe400 4.17%,#ff0 6.77%,#efff00 8.33%,#c6ff00 12.5%,#9fff00 16.67%,#79ff00 20.83%,#54ff00 25%,#31ff00 29.17%,#0fff00 33.33%,#0f0 35.24%,#0f1 37.5%,#00ff31 41.67%,#00ff4e 45.83%,#00ff6a 50%,#00ff85 54.17%,#00ff9f 58.33%,#00ffb7 62.5%,#00ffcd 66.67%,#00ffe3 70.83%,#00fff6 75%,#0ff 76.92%,#00f5ff 79.17%,#00e4ff 83.33%,#00d5ff 87.5%,#00c6ff 91.67%,#00baff 95.83%,#00aeff 100%)"></i><i style="height:2px;background:linear-gradient(90deg,#ffbd00 0%,#ffe800 4.17%,#ff0 6.4%,#ecff00 8.33%,#c3ff00 12.5%,#9bff00 16.67%,#75ff00 20.83%,#51ff00 25%,#2eff00 29.17%,#0cff00 33.33%,#0f0 34.83%,#00ff15 37.5%,#00ff34 41.67%,#00ff51 45.83%,#00ff6d 50%,#0f8 54.17%,#00ffa1 58.33%,#00ffb9 62.5%,#00ffd0 66.67%,#00ffe5 70.83%,#00fff9 75%,#0ff 76.41%,#00f3ff 79.17%,#00e2ff 83.33%,#00d3ff 87.5%,#00c5ff 91.67%,#00b8ff 95.83%,#00adff 100%)"></i><i style="height:2px;background:linear-gradient(90deg,#ffc100 0%,#ffec00 4.17%,#ff0 6.02%,#e8ff00 8.33%,#bfff00 12.5%,#98ff00 16.67%,#72ff00 20.83%,#4dff00 25%,#2aff00 29.17%,#09ff00 33.33%,#0f0 34.43%,#00ff18 37.5%,#00ff37 41.67%,#00ff54 45.83%,#00ff70 50%,#00ff8b 54.17%,#00ffa4 58.33%,#00ffbc 62.5%,#00ffd2 66.67%,#00ffe7 70.83%,#00fffb 75%,#0ff 75.91%,#00f1ff 79.17%,#00e0ff 83.33%,#00d1ff 87.5%,#00c3ff 91.67%,#00b6ff 95.83%,#00abff 100%)"></i><i style="height:2px;background:linear-gradient(90deg,#ffc500 0%,#fff000 4.17%,#ff0 5.64%,#e4ff00 8.33%,#bf0 12.5%,#94ff00 16.67%,#6eff00 20.83%,#4aff00 25%,#27ff00 29.17%,#05ff00 33.33%,#0f0 34.02%,#00ff1b 37.5%,#00ff3a 41.67%,#00ff57 45.83%,#00ff73 50%,#00ff8d 54.17%,#00ffa7 58.33%,#00ffbe 62.5%,#00ffd5 66.67%,#00ffea 70.83%,#00fffd 75%,#0ff 75.41%,#00efff 79.17%,#00deff 83.33%,#00cfff 87.5%,#00c1ff 91.67%,#00b4ff 95.83%,#00a9ff 100%)"></i><i style="height:2px;background:linear-gradient(90deg,#ffc800 0%,#fff400 4.17%,#ff0 5.27%,#e0ff00 8.33%,#b8ff00 12.5%,#91ff00 16.67%,#6bff00 20.83%,#47ff00 25%,#24ff00 29.17%,#02ff00 33.33%,#0f0 33.62%,#00ff1e 37.5%,#00ff3d 41.67%,#00ff5a 45.83%,#00ff76 50%,#00ff90 54.17%,#00ffa9 58.33%,#00ffc1 62.5%,#00ffd7 66.67%,#00ffec 70.83%,#0ff 74.92%,#0ff 75%,#00edff 79.17%,#00dcff 83.33%,#00cdff 87.5%,#00bfff 91.67%,#00b3ff 95.83%,#00a8ff 100%)"></i><i style="height:2px;background:linear-gradient(90deg,#fc0 0%,#fff800 4.17%,#ff0 4.89%,#df0 8.33%,#b4ff00 12.5%,#8dff00 16.67%,#68ff00 20.83%,#43ff00 25%,#20ff00 29.17%,#0f0 33.22%,#00ff01 33.33%,#00ff21 37.5%,#00ff40 41.67%,#00ff5d 45.83%,#00ff78 50%,#00ff93 54.17%,#00ffac 58.33%,#00ffc3 62.5%,#00ffda 66.67%,#0fe 70.83%,#0ff 74.42%,#00fcff 75%,#00eaff 79.17%,#00daff 83.33%,#00cbff 87.5%,#00bdff 91.67%,#00b1ff 95.83%,#00a6ff 100%)"></i><i style="height:2px;background:linear-gradient(90deg,#ffd000 0%,#fffb00 4.17%,#ff0 4.52%,#d9ff00 8.33%,#b1ff00 12.5%,#8aff00 16.67%,#64ff00 20.83%,#40ff00 25%,#1dff00 29.17%,#0f0 32.81%,#00ff04 33.33%,#00ff24 37.5%,#00ff42 41.67%,#00ff60 45.83%,#00ff7b 50%,#00ff96 54.17%,#00ffae 58.33%,#00ffc6 62.5%,#00ffdc 66.67%,#00fff1 70.83%,#0ff 73.93%,#00faff 75%,#00e8ff 79.17%,#00d8ff 83.33%,#00c9ff 87.5%,#0bf 91.67%,#00afff 95.83%,#00a4ff 100%)"></i><i style="height:2px;background:linear-gradient(90deg,#ffd400 0%,#ff0 4.15%,#ff0 4.17%,#d5ff00 8.33%,#adff00 12.5%,#86ff00 16.67%,#61ff00 20.83%,#3dff00 25%,#1aff00 29.17%,#0f0 32.41%,#00ff07 33.33%,#00ff27 37.5%,#00ff45 41.67%,#00ff62 45.83%,#00ff7e 50%,#00ff98 54.17%,#00ffb1 58.33%,#00ffc8 62.5%,#00ffde 66.67%,#00fff3 70.83%,#0ff 73.43%,#00f8ff 75%,#00e6ff 79.17%,#00d6ff 83.33%,#00c7ff 87.5%,#00b9ff 91.67%,#00adff 95.83%,#00a3ff 100%)"></i><i style="height:2px;background:linear-gradient(90deg,#ffd800 0%,#ff0 3.77%,#fbff00 4.17%,#d1ff00 8.33%,#a9ff00 12.5%,#83ff00 16.67%,#5dff00 20.83%,#39ff00 25%,#17ff00 29.17%,#0f0 32.01%,#00ff0a 33.33%,#00ff2a 37.5%,#00ff48 41.67%,#00ff65 45.83%,#00ff81 50%,#00ff9b 54.17%,#00ffb4 58.33%,#00ffcb 62.5%,#00ffe1 66.67%,#00fff5 70.83%,#0ff 72.94%,#00f6ff 75%,#00e4ff 79.17%,#00d4ff 83.33%,#00c5ff 87.5%,#00b8ff 91.67%,#00acff 95.83%,#00a1ff 100%)"></i><i style="height:2px;background:linear-gradient(90deg,#ffdc00 0%,#ff0 3.4%,#f7ff00 4.17%,#ceff00 8.33%,#a6ff00 12.5%,#7fff00 16.67%,#5aff00 20.83%,#36ff00 25%,#14ff00 29.17%,#0f0 31.61%,#00ff0d 33.33%,#00ff2d 37.5%,#00ff4b 41.67%,#00ff68 45.83%,#00ff84 50%,#00ff9e 54.17%,#00ffb6 58.33%,#00ffcd 62.5%,#00ffe3 66.67%,#00fff7 70.83%,#0ff 72.45%,#00f4ff 75%,#00e2ff 79.17%,#00d2ff 83.33%,#00c3ff 87.5%,#00b6ff 91.67%,#0af 95.83%,#009fff 100%)"></i><i style="height:2px;background:linear-gradient(90deg,#ffe000 0%,#ff0 3.03%,#f3ff00 4.17%,#caff00 8.33%,#a2ff00 12.5%,#7cff00 16.67%,#56ff00 20.83%,#3f0 25%,#10ff00 29.17%,#0f0 31.21%,#0f1 33.33%,#00ff30 37.5%,#00ff4e 41.67%,#00ff6b 45.83%,#00ff86 50%,#00ffa0 54.17%,#00ffb9 58.33%,#00ffd0 62.5%,#00ffe5 66.67%,#00fffa 70.83%,#0ff 71.97%,#00f1ff 75%,#00e0ff 79.17%,#00d0ff 83.33%,#00c1ff 87.5%,#00b4ff 91.67%,#00a8ff 95.83%,#009eff 100%)"></i><i style="height:2px;background:linear-gradient(90deg,#ffe400 0%,#ff0 2.66%,#f0ff00 4.17%,#c6ff00 8.33%,#9fff00 12.5%,#78ff00 16.67%,#53ff00 20.83%,#2fff00 25%,#0dff00 29.17%,#0f0 30.81%,#00ff14 33.33%,#0f3 37.5%,#00ff51 41.67%,#00ff6e 45.83%,#00ff89 50%,#00ffa3 54.17%,#0fb 58.33%,#00ffd2 62.5%,#00ffe8 66.67%,#00fffc 70.83%,#0ff 71.48%,#00efff 75%,#00deff 79.17%,#00ceff 83.33%,#00bfff 87.5%,#00b2ff 91.67%,#00a6ff 95.83%,#009cff 100%)"></i><i style="height:2px;background:linear-gradient(90deg,#ffe700 0%,#ff0 2.29%,#ecff00 4.17%,#c3ff00 8.33%,#9bff00 12.5%,#75ff00 16.67%,#50ff00 20.83%,#2cff00 25%,#0aff00 29.17%,#0f0 30.42%,#00ff17 33.33%,#00ff36 37.5%,#00ff54 41.67%,#00ff71 45.83%,#00ff8c 50%,#00ffa5 54.17%,#00ffbe 58.33%,#00ffd5 62.5%,#00ffea 66.67%,#00fffe 70.83%,#0ff 71%,#00edff 75%,#00dcff 79.17%,#0cf 83.33%,#00bdff 87.5%,#00b0ff 91.67%,#00a5ff 95.83%,#009aff 100%)"></i><i style="height:2px;background:linear-gradient(90deg,#ffeb00 0%,#ff0 1.92%,#e8ff00 4.17%,#bfff00 8.33%,#97ff00 12.5%,#71ff00 16.67%,#4cff00 20.83%,#29ff00 25%,#07ff00 29.17%,#0f0 30.02%,#00ff1a 33.33%,#00ff39 37.5%,#00ff57 41.67%,#00ff73 45.83%,#00ff8e 50%,#00ffa8 54.17%,#00ffc0 58.33%,#00ffd7 62.5%,#00ffec 66.67%,#0ff 70.52%,#00feff 70.83%,#00ebff 75%,#00daff 79.17%,#00caff 83.33%,#00bcff 87.5%,#00afff 91.67%,#00a3ff 95.83%,#09f 100%)"></i><i style="height:2px;background:linear-gradient(90deg,#ffef00 0%,#ff0 1.55%,#e4ff00 4.17%,#bcff00 8.33%,#94ff00 12.5%,#6eff00 16.67%,#49ff00 20.83%,#26ff00 25%,#04ff00 29.17%,#0f0 29.62%,#00ff1d 33.33%,#00ff3c 37.5%,#00ff5a 41.67%,#00ff76 45.83%,#00ff91 50%,#00ffab 54.17%,#00ffc3 58.33%,#00ffd9 62.5%,#00ffef 66.67%,#0ff 70.04%,#00fbff 70.83%,#00e9ff 75%,#00d8ff 79.17%,#00c8ff 83.33%,#00baff 87.5%,#00adff 91.67%,#00a1ff 95.83%,#0097ff 100%)"></i><i style="height:2px;background:linear-gradient(90deg,#fff300 0%,#ff0 1.18%,#e1ff00 4.17%,#b8ff00 8.33%,#90ff00 12.5%,#6aff00 16.67%,#46ff00 20.83%,#2f0 25%,#0f0 29.17%,#0f0 29.23%,#00ff20 33.33%,#00ff3f 37.5%,#00ff5d 41.67%,#00ff79 45.83%,#00ff94 50%,#00ffad 54.17%,#00ffc5 58.33%,#00ffdc 62.5%,#00fff1 66.67%,#0ff 69.56%,#00f9ff 70.83%,#00e7ff 75%,#00d6ff 79.17%,#00c6ff 83.33%,#00b8ff 87.5%,#00abff 91.67%,#00a0ff 95.83%,#0096ff 100%)"></i><i style="height:2px;background:linear-gradient(90deg,#fff700 0%,#ff0 0.81%,#df0 4.17%,#b4ff00 8.33%,#8dff00 12.5%,#67ff00 16.67%,#42ff00 20.83%,#1fff00 25%,#0f0 28.83%,#00ff03 29.17%,#00ff23 33.33%,#00ff42 37.5%,#00ff60 41.67%,#00ff7c 45.83%,#00ff96 50%,#00ffb0 54.17%,#00ffc8 58.33%,#00ffde 62.5%,#00fff3 66.67%,#0ff 69.08%,#00f7ff 70.83%,#00e5ff 75%,#00d4ff 79.17%,#00c4ff 83.33%,#00b6ff 87.5%,#00a9ff 91.67%,#009eff 95.83%,#0094ff 100%)"></i><i style="height:2px;background:linear-gradient(90deg,#fffb00 0%,#ff0 0.44%,#d9ff00 4.17%,#b1ff00 8.33%,#89ff00 12.5%,#63ff00 16.67%,#3fff00 20.83%,#1cff00 25%,#0f0 28.44%,#00ff06 29.17%,#00ff26 33.33%,#00ff45 37.5%,#00ff62 41.67%,#00ff7e 45.83%,#0f9 50%,#00ffb2 54.17%,#00ffca 58.33%,#00ffe1 62.5%,#00fff6 66.67%,#0ff 68.61%,#00f5ff 70.83%,#00e2ff 75%,#00d2ff 79.17%,#00c2ff 83.33%,#00b4ff 87.5%,#00a8ff 91.67%,#009cff 95.83%,#0093ff 100%)"></i><i style="height:2px;background:linear-gradient(90deg,#fffe00 0%,#ff0 0.07%,#d6ff00 4.17%,#adff00 8.33%,#86ff00 12.5%,#60ff00 16.67%,#3cff00 20.83%,#19ff00 25%,#0f0 28.04%,#00ff09 29.17%,#00ff29 33.33%,#00ff48 37.5%,#00ff65 41.67%,#00ff81 45.83%,#00ff9c 50%,#00ffb5 54.17%,#00ffcd 58.33%,#00ffe3 62.5%,#00fff8 66.67%,#0ff 68.13%,#00f3ff 70.83%,#00e0ff 75%,#00d0ff 79.17%,#00c0ff 83.33%,#00b2ff 87.5%,#00a6ff 91.67%,#009bff 95.83%,#0091ff 100%)"></i><i style="height:2px;background:linear-gradient(90deg,#fcff00 0%,#d2ff00 4.17%,#af0 8.33%,#82ff00 12.5%,#5dff00 16.67%,#38ff00 20.83%,#15ff00 25%,#0f0 27.65%,#00ff0c 29.17%,#00ff2c 33.33%,#00ff4b 37.5%,#00ff68 41.67%,#00ff84 45.83%,#00ff9e 50%,#00ffb8 54.17%,#00ffcf 58.33%,#00ffe5 62.5%,#00fffa 66.67%,#0ff 67.66%,#00f0ff 70.83%,#00deff 75%,#00ceff 79.17%,#00beff 83.33%,#00b1ff 87.5%,#00a4ff 91.67%,#09f 95.83%,#0090ff 100%)"></i><i style="height:2px;background:linear-gradient(90deg,#f8ff00 0%,#ceff00 4.17%,#a6ff00 8.33%,#7fff00 12.5%,#59ff00 16.67%,#35ff00 20.83%,#12ff00 25%,#0f0 27.26%,#00ff0f 29.17%,#00ff2f 33.33%,#00ff4e 37.5%,#00ff6b 41.67%,#00ff87 45.83%,#00ffa1 50%,#00ffba 54.17%,#00ffd2 58.33%,#00ffe8 62.5%,#00fffd 66.67%,#0ff 67.19%,#0ef 70.83%,#00dcff 75%,#0cf 79.17%,#00bdff 83.33%,#00afff 87.5%,#00a3ff 91.67%,#0098ff 95.83%,#008eff 100%)"></i><i style="height:2px;background:linear-gradient(90deg,#f4ff00 0%,#cbff00 4.17%,#a2ff00 8.33%,#7bff00 12.5%,#56ff00 16.67%,#32ff00 20.83%,#0fff00 25%,#0f0 26.87%,#00ff12 29.17%,#00ff32 33.33%,#00ff51 37.5%,#00ff6e 41.67%,#00ff89 45.83%,#00ffa4 50%,#00ffbd 54.17%,#00ffd4 58.33%,#00ffea 62.5%,#0ff 66.67%,#0ff 66.72%,#00ecff 70.83%,#00daff 75%,#00caff 79.17%,#0bf 83.33%,#00adff 87.5%,#00a1ff 91.67%,#0096ff 95.83%,#008dff 100%)"></i><i style="height:2px;background:linear-gradient(90deg,#f1ff00 0%,#c7ff00 4.17%,#9fff00 8.33%,#78ff00 12.5%,#53ff00 16.67%,#2fff00 20.83%,#0cff00 25%,#0f0 26.48%,#00ff15 29.17%,#00ff35 33.33%,#00ff54 37.5%,#00ff71 41.67%,#00ff8c 45.83%,#00ffa6 50%,#00ffbf 54.17%,#00ffd6 58.33%,#00ffec 62.5%,#0ff 66.25%,#00fdff 66.67%,#00eaff 70.83%,#00d8ff 75%,#00c8ff 79.17%,#00b9ff 83.33%,#00abff 87.5%,#009fff 91.67%,#0094ff 95.83%,#008bff 100%)"></i><i style="height:2px;background:linear-gradient(90deg,#edff00 0%,#c3ff00 4.17%,#9bff00 8.33%,#75ff00 12.5%,#4fff00 16.67%,#2bff00 20.83%,#09ff00 25%,#0f0 26.08%,#00ff18 29.17%,#00ff38 33.33%,#00ff56 37.5%,#00ff73 41.67%,#00ff8f 45.83%,#00ffa9 50%,#00ffc2 54.17%,#00ffd9 58.33%,#00ffef 62.5%,#0ff 65.79%,#00fbff 66.67%,#00e8ff 70.83%,#00d6ff 75%,#00c6ff 79.17%,#00b7ff 83.33%,#0af 87.5%,#009dff 91.67%,#0093ff 95.83%,#008aff 100%)"></i><i style="height:2px;background:linear-gradient(90deg,#e9ff00 0%,#c0ff00 4.17%,#98ff00 8.33%,#71ff00 12.5%,#4cff00 16.67%,#28ff00 20.83%,#06ff00 25%,#0f0 25.7%,#00ff1b 29.17%,#00ff3b 33.33%,#00ff59 37.5%,#00ff76 41.67%,#00ff91 45.83%,#00ffab 50%,#00ffc4 54.17%,#00ffdb 58.33%,#00fff1 62.5%,#0ff 65.32%,#00f9ff 66.67%,#00e6ff 70.83%,#00d4ff 75%,#00c4ff 79.17%,#00b5ff 83.33%,#00a8ff 87.5%,#009cff 91.67%,#0091ff 95.83%,#08f 100%)"></i><i style="height:2px;background:linear-gradient(90deg,#e6ff00 0%,#bcff00 4.17%,#94ff00 8.33%,#6eff00 12.5%,#49ff00 16.67%,#25ff00 20.83%,#02ff00 25%,#0f0 25.31%,#00ff1e 29.17%,#00ff3e 33.33%,#00ff5c 37.5%,#00ff79 41.67%,#00ff94 45.83%,#00ffae 50%,#00ffc7 54.17%,#00ffde 58.33%,#00fff3 62.5%,#0ff 64.86%,#00f6ff 66.67%,#00e4ff 70.83%,#00d2ff 75%,#00c2ff 79.17%,#00b3ff 83.33%,#00a6ff 87.5%,#009aff 91.67%,#0090ff 95.83%,#0087ff 100%)"></i><i style="height:2px;background:linear-gradient(90deg,#e2ff00 0%,#b9ff00 4.17%,#91ff00 8.33%,#6aff00 12.5%,#45ff00 16.67%,#2f0 20.83%,#0f0 24.92%,#00ff01 25%,#0f2 29.17%,#00ff41 33.33%,#00ff5f 37.5%,#00ff7c 41.67%,#00ff97 45.83%,#00ffb1 50%,#00ffc9 54.17%,#00ffe0 58.33%,#00fff6 62.5%,#0ff 64.4%,#00f4ff 66.67%,#00e1ff 70.83%,#00d0ff 75%,#00c0ff 79.17%,#00b2ff 83.33%,#00a4ff 87.5%,#09f 91.67%,#008eff 95.83%,#0085ff 100%)"></i><i style="height:2px;background:linear-gradient(90deg,#deff00 0%,#b5ff00 4.17%,#8dff00 8.33%,#67ff00 12.5%,#42ff00 16.67%,#1eff00 20.83%,#0f0 24.53%,#00ff04 25%,#00ff25 29.17%,#0f4 33.33%,#00ff62 37.5%,#00ff7e 41.67%,#0f9 45.83%,#00ffb3 50%,#0fc 54.17%,#00ffe2 58.33%,#00fff8 62.5%,#0ff 63.94%,#00f2ff 66.67%,#00dfff 70.83%,#00ceff 75%,#00beff 79.17%,#00b0ff 83.33%,#00a3ff 87.5%,#0097ff 91.67%,#008dff 95.83%,#0084ff 100%)"></i><i style="height:2px;background:linear-gradient(90deg,#dbff00 0%,#b1ff00 4.17%,#8aff00 8.33%,#64ff00 12.5%,#3fff00 16.67%,#1bff00 20.83%,#0f0 24.14%,#00ff07 25%,#00ff28 29.17%,#00ff47 33.33%,#00ff65 37.5%,#00ff81 41.67%,#00ff9c 45.83%,#00ffb6 50%,#00ffce 54.17%,#00ffe5 58.33%,#00fffa 62.5%,#0ff 63.48%,#00f0ff 66.67%,#0df 70.83%,#0cf 75%,#00bcff 79.17%,#00aeff 83.33%,#00a1ff 87.5%,#0095ff 91.67%,#008bff 95.83%,#0082ff 100%)"></i><i style="height:2px;background:linear-gradient(90deg,#d7ff00 0%,#aeff00 4.17%,#86ff00 8.33%,#60ff00 12.5%,#3bff00 16.67%,#18ff00 20.83%,#0f0 23.76%,#00ff0a 25%,#00ff2b 29.17%,#00ff4a 33.33%,#00ff67 37.5%,#00ff84 41.67%,#00ff9f 45.83%,#00ffb8 50%,#00ffd0 54.17%,#00ffe7 58.33%,#00fffc 62.5%,#0ff 63.02%,#0ef 66.67%,#00dbff 70.83%,#00caff 75%,#00baff 79.17%,#00acff 83.33%,#009fff 87.5%,#0094ff 91.67%,#008aff 95.83%,#0081ff 100%)"></i><i style="height:2px;background:linear-gradient(90deg,#d3ff00 0%,#af0 4.17%,#83ff00 8.33%,#5dff00 12.5%,#38ff00 16.67%,#15ff00 20.83%,#0f0 23.37%,#00ff0d 25%,#00ff2e 29.17%,#00ff4d 33.33%,#00ff6a 37.5%,#00ff87 41.67%,#00ffa1 45.83%,#0fb 50%,#00ffd3 54.17%,#00ffe9 58.33%,#0ff 62.5%,#0ff 62.57%,#00ecff 66.67%,#00d9ff 70.83%,#00c8ff 75%,#00b9ff 79.17%,#0af 83.33%,#009eff 87.5%,#0092ff 91.67%,#08f 95.83%,#0080ff 100%)"></i><i style="height:2px;background:linear-gradient(90deg,#d0ff00 0%,#a7ff00 4.17%,#7fff00 8.33%,#59ff00 12.5%,#35ff00 16.67%,#12ff00 20.83%,#0f0 22.99%,#00ff10 25%,#00ff31 29.17%,#00ff4f 33.33%,#00ff6d 37.5%,#00ff89 41.67%,#00ffa4 45.83%,#00ffbd 50%,#00ffd5 54.17%,#00ffec 58.33%,#0ff 62.12%,#00fdff 62.5%,#00e9ff 66.67%,#00d7ff 70.83%,#00c6ff 75%,#00b7ff 79.17%,#00a9ff 83.33%,#009cff 87.5%,#0091ff 91.67%,#0087ff 95.83%,#007eff 100%)"></i><i style="height:2px;background:linear-gradient(90deg,#cf0 0%,#a3ff00 4.17%,#7cff00 8.33%,#56ff00 12.5%,#32ff00 16.67%,#0eff00 20.83%,#0f0 22.6%,#00ff13 25%,#00ff34 29.17%,#00ff52 33.33%,#00ff70 37.5%,#00ff8c 41.67%,#00ffa7 45.83%,#00ffc0 50%,#00ffd8 54.17%,#0fe 58.33%,#0ff 61.66%,#00fbff 62.5%,#00e7ff 66.67%,#00d5ff 70.83%,#00c4ff 75%,#00b5ff 79.17%,#00a7ff 83.33%,#009aff 87.5%,#008fff 91.67%,#0085ff 95.83%,#007dff 100%)"></i><i style="height:2px;background:linear-gradient(90deg,#c8ff00 0%,#a0ff00 4.17%,#79ff00 8.33%,#53ff00 12.5%,#2eff00 16.67%,#0bff00 20.83%,#0f0 22.22%,#00ff16 25%,#00ff36 29.17%,#0f5 33.33%,#00ff73 37.5%,#00ff8f 41.67%,#00ffa9 45.83%,#00ffc2 50%,#00ffda 54.17%,#00fff0 58.33%,#0ff 61.21%,#00f9ff 62.5%,#00e5ff 66.67%,#00d3ff 70.83%,#00c2ff 75%,#00b3ff 79.17%,#00a5ff 83.33%,#09f 87.5%,#008dff 91.67%,#0084ff 95.83%,#007bff 100%)"></i><i style="height:2px;background:linear-gradient(90deg,#c5ff00 0%,#9cff00 4.17%,#75ff00 8.33%,#4fff00 12.5%,#2bff00 16.67%,#08ff00 20.83%,#0f0 21.84%,#00ff19 25%,#00ff39 29.17%,#00ff58 33.33%,#00ff75 37.5%,#00ff91 41.67%,#00ffac 45.83%,#00ffc5 50%,#00ffdc 54.17%,#00fff3 58.33%,#0ff 60.76%,#00f6ff 62.5%,#00e3ff 66.67%,#00d1ff 70.83%,#00c0ff 75%,#00b1ff 79.17%,#00a3ff 83.33%,#0097ff 87.5%,#008cff 91.67%,#0082ff 95.83%,#007aff 100%)"></i><i style="height:2px;background:linear-gradient(90deg,#c1ff00 0%,#9f0 4.17%,#72ff00 8.33%,#4cff00 12.5%,#28ff00 16.67%,#05ff00 20.83%,#0f0 21.45%,#00ff1c 25%,#00ff3c 29.17%,#00ff5b 33.33%,#00ff78 37.5%,#00ff94 41.67%,#00ffae 45.83%,#00ffc7 50%,#00ffdf 54.17%,#00fff5 58.33%,#0ff 60.31%,#00f4ff 62.5%,#00e1ff 66.67%,#00cfff 70.83%,#00beff 75%,#00afff 79.17%,#00a2ff 83.33%,#0095ff 87.5%,#008aff 91.67%,#0081ff 95.83%,#0079ff 100%)"></i><i style="height:2px;background:linear-gradient(90deg,#beff00 0%,#95ff00 4.17%,#6eff00 8.33%,#49ff00 12.5%,#25ff00 16.67%,#02ff00 20.83%,#0f0 21.07%,#00ff1f 25%,#00ff3f 29.17%,#00ff5e 33.33%,#00ff7b 37.5%,#00ff97 41.67%,#00ffb1 45.83%,#00ffca 50%,#00ffe1 54.17%,#00fff7 58.33%,#0ff 59.87%,#00f2ff 62.5%,#00dfff 66.67%,#00cdff 70.83%,#00bdff 75%,#00aeff 79.17%,#00a0ff 83.33%,#0094ff 87.5%,#0089ff 91.67%,#007fff 95.83%,#07f 100%)"></i><i style="height:2px;background:linear-gradient(90deg,#baff00 0%,#92ff00 4.17%,#6bff00 8.33%,#45ff00 12.5%,#21ff00 16.67%,#0f0 20.69%,#00ff01 20.83%,#0f2 25%,#00ff42 29.17%,#00ff61 33.33%,#00ff7e 37.5%,#0f9 41.67%,#00ffb3 45.83%,#0fc 50%,#00ffe4 54.17%,#00fff9 58.33%,#0ff 59.42%,#00f0ff 62.5%,#0df 66.67%,#00cbff 70.83%,#0bf 75%,#00acff 79.17%,#009eff 83.33%,#0092ff 87.5%,#0087ff 91.67%,#007eff 95.83%,#0076ff 100%)"></i><i style="height:2px;background:linear-gradient(90deg,#b6ff00 0%,#8eff00 4.17%,#68ff00 8.33%,#42ff00 12.5%,#1eff00 16.67%,#0f0 20.31%,#00ff04 20.83%,#00ff25 25%,#00ff45 29.17%,#00ff63 33.33%,#00ff80 37.5%,#00ff9c 41.67%,#00ffb6 45.83%,#00ffcf 50%,#00ffe6 54.17%,#00fffc 58.33%,#0ff 58.97%,#0ef 62.5%,#00dbff 66.67%,#00c9ff 70.83%,#00b9ff 75%,#0af 79.17%,#009dff 83.33%,#0090ff 87.5%,#0086ff 91.67%,#007dff 95.83%,#0075ff 100%)"></i><i style="height:2px;background:linear-gradient(90deg,#b3ff00 0%,#8bff00 4.17%,#64ff00 8.33%,#3fff00 12.5%,#1bff00 16.67%,#0f0 19.93%,#00ff07 20.83%,#00ff28 25%,#00ff48 29.17%,#0f6 33.33%,#00ff83 37.5%,#00ff9e 41.67%,#00ffb8 45.83%,#00ffd1 50%,#00ffe8 54.17%,#00fffe 58.33%,#0ff 58.53%,#00ecff 62.5%,#00d9ff 66.67%,#00c7ff 70.83%,#00b7ff 75%,#00a8ff 79.17%,#009bff 83.33%,#008fff 87.5%,#0084ff 91.67%,#007bff 95.83%,#0073ff 100%)"></i><i style="height:2px;background:linear-gradient(90deg,#afff00 0%,#87ff00 4.17%,#61ff00 8.33%,#3cff00 12.5%,#18ff00 16.67%,#0f0 19.55%,#00ff0a 20.83%,#00ff2b 25%,#00ff4b 29.17%,#00ff69 33.33%,#00ff86 37.5%,#00ffa1 41.67%,#0fb 45.83%,#00ffd3 50%,#00ffeb 54.17%,#0ff 58.09%,#00feff 58.33%,#00e9ff 62.5%,#00d7ff 66.67%,#00c5ff 70.83%,#00b5ff 75%,#00a6ff 79.17%,#09f 83.33%,#008dff 87.5%,#0083ff 91.67%,#007aff 95.83%,#0072ff 100%)"></i><i style="height:2px;background:linear-gradient(90deg,#acff00 0%,#84ff00 4.17%,#5eff00 8.33%,#38ff00 12.5%,#15ff00 16.67%,#0f0 19.17%,#00ff0d 20.83%,#00ff2e 25%,#00ff4e 29.17%,#00ff6c 33.33%,#0f8 37.5%,#00ffa4 41.67%,#00ffbd 45.83%,#00ffd6 50%,#00ffed 54.17%,#0ff 57.65%,#00fcff 58.33%,#00e7ff 62.5%,#00d5ff 66.67%,#00c3ff 70.83%,#00b3ff 75%,#00a5ff 79.17%,#0097ff 83.33%,#008cff 87.5%,#0081ff 91.67%,#0078ff 95.83%,#0071ff 100%)"></i><i style="height:2px;background:linear-gradient(90deg,#a8ff00 0%,#80ff00 4.17%,#5aff00 8.33%,#35ff00 12.5%,#12ff00 16.67%,#0f0 18.79%,#0f1 20.83%,#00ff31 25%,#00ff51 29.17%,#00ff6f 33.33%,#00ff8b 37.5%,#00ffa6 41.67%,#00ffc0 45.83%,#00ffd8 50%,#00ffef 54.17%,#0ff 57.21%,#00f9ff 58.33%,#00e5ff 62.5%,#00d3ff 66.67%,#00c1ff 70.83%,#00b1ff 75%,#00a3ff 79.17%,#0096ff 83.33%,#008aff 87.5%,#0080ff 91.67%,#07f 95.83%,#0070ff 100%)"></i><i style="height:2px;background:linear-gradient(90deg,#a5ff00 0%,#7dff00 4.17%,#57ff00 8.33%,#32ff00 12.5%,#0eff00 16.67%,#0f0 18.42%,#00ff14 20.83%,#00ff34 25%,#00ff54 29.17%,#00ff71 33.33%,#00ff8e 37.5%,#00ffa9 41.67%,#00ffc2 45.83%,#00ffdb 50%,#00fff1 54.17%,#0ff 56.77%,#00f7ff 58.33%,#00e3ff 62.5%,#00d1ff 66.67%,#00bfff 70.83%,#00b0ff 75%,#00a1ff 79.17%,#0094ff 83.33%,#0089ff 87.5%,#007eff 91.67%,#0076ff 95.83%,#006eff 100%)"></i><i style="height:2px;background:linear-gradient(90deg,#a1ff00 0%,#7aff00 4.17%,#54ff00 8.33%,#2fff00 12.5%,#0bff00 16.67%,#0f0 18.04%,#00ff17 20.83%,#00ff37 25%,#00ff56 29.17%,#00ff74 33.33%,#00ff90 37.5%,#00ffab 41.67%,#00ffc5 45.83%,#0fd 50%,#00fff4 54.17%,#0ff 56.33%,#00f5ff 58.33%,#00e1ff 62.5%,#00cfff 66.67%,#00bdff 70.83%,#00aeff 75%,#009fff 79.17%,#0093ff 83.33%,#0087ff 87.5%,#007dff 91.67%,#0074ff 95.83%,#006dff 100%)"></i><i style="height:2px;background:linear-gradient(90deg,#9eff00 0%,#76ff00 4.17%,#50ff00 8.33%,#2cff00 12.5%,#08ff00 16.67%,#0f0 17.66%,#00ff1a 20.83%,#00ff3a 25%,#00ff59 29.17%,#0f7 33.33%,#00ff93 37.5%,#00ffae 41.67%,#00ffc7 45.83%,#00ffdf 50%,#00fff6 54.17%,#0ff 55.9%,#00f3ff 58.33%,#00dfff 62.5%,#00cdff 66.67%,#00bcff 70.83%,#00acff 75%,#009eff 79.17%,#0091ff 83.33%,#0086ff 87.5%,#007cff 91.67%,#0073ff 95.83%,#006cff 100%)"></i><i style="height:2px;background:linear-gradient(90deg,#9aff00 0%,#73ff00 4.17%,#4dff00 8.33%,#28ff00 12.5%,#05ff00 16.67%,#0f0 17.29%,#00ff1d 20.83%,#00ff3d 25%,#00ff5c 29.17%,#00ff7a 33.33%,#00ff96 37.5%,#00ffb0 41.67%,#00ffca 45.83%,#00ffe2 50%,#00fff8 54.17%,#0ff 55.46%,#00f1ff 58.33%,#0df 62.5%,#00cbff 66.67%,#00baff 70.83%,#0af 75%,#009cff 79.17%,#008fff 83.33%,#0084ff 87.5%,#007aff 91.67%,#0072ff 95.83%,#006bff 100%)"></i><i style="height:2px;background:linear-gradient(90deg,#97ff00 0%,#6fff00 4.17%,#4aff00 8.33%,#25ff00 12.5%,#02ff00 16.67%,#0f0 16.91%,#00ff20 20.83%,#00ff40 25%,#00ff5f 29.17%,#00ff7c 33.33%,#00ff98 37.5%,#00ffb3 41.67%,#0fc 45.83%,#00ffe4 50%,#00fffb 54.17%,#0ff 55.03%,#0ef 58.33%,#00dbff 62.5%,#00c9ff 66.67%,#00b8ff 70.83%,#00a8ff 75%,#009aff 79.17%,#008eff 83.33%,#0083ff 87.5%,#0079ff 91.67%,#0070ff 95.83%,#0069ff 100%)"></i><i style="height:2px;background:linear-gradient(90deg,#93ff00 0%,#6cff00 4.17%,#46ff00 8.33%,#2f0 12.5%,#0f0 16.54%,#00ff01 16.67%,#00ff23 20.83%,#00ff43 25%,#00ff62 29.17%,#00ff7f 33.33%,#00ff9b 37.5%,#00ffb6 41.67%,#00ffcf 45.83%,#00ffe6 50%,#00fffd 54.17%,#0ff 54.6%,#00ecff 58.33%,#00d9ff 62.5%,#00c7ff 66.67%,#00b6ff 70.83%,#00a7ff 75%,#09f 79.17%,#008cff 83.33%,#0081ff 87.5%,#07f 91.67%,#006fff 95.83%,#0068ff 100%)"></i><i style="height:2px;background:linear-gradient(90deg,#90ff00 0%,#69ff00 4.17%,#43ff00 8.33%,#1fff00 12.5%,#0f0 16.17%,#00ff04 16.67%,#00ff26 20.83%,#00ff46 25%,#00ff64 29.17%,#00ff82 33.33%,#00ff9e 37.5%,#00ffb8 41.67%,#00ffd1 45.83%,#00ffe9 50%,#0ff 54.17%,#00eaff 58.33%,#00d7ff 62.5%,#00c5ff 66.67%,#00b4ff 70.83%,#00a5ff 75%,#0097ff 79.17%,#008bff 83.33%,#0080ff 87.5%,#0076ff 91.67%,#006eff 95.83%,#0067ff 100%)"></i><i style="height:2px;background:linear-gradient(90deg,#8cff00 0%,#65ff00 4.17%,#40ff00 8.33%,#1cff00 12.5%,#0f0 15.79%,#00ff07 16.67%,#00ff29 20.83%,#00ff49 25%,#00ff67 29.17%,#00ff84 33.33%,#00ffa0 37.5%,#0fb 41.67%,#00ffd3 45.83%,#00ffeb 50%,#0ff 53.74%,#00fdff 54.17%,#00e8ff 58.33%,#00d5ff 62.5%,#00c3ff 66.67%,#00b2ff 70.83%,#00a3ff 75%,#0095ff 79.17%,#0089ff 83.33%,#007eff 87.5%,#0075ff 91.67%,#006dff 95.83%,#06f 100%)"></i><i style="height:2px;background:linear-gradient(90deg,#89ff00 0%,#62ff00 4.17%,#3dff00 8.33%,#18ff00 12.5%,#0f0 15.42%,#00ff0a 16.67%,#00ff2c 20.83%,#00ff4b 25%,#00ff6a 29.17%,#00ff87 33.33%,#00ffa3 37.5%,#00ffbd 41.67%,#00ffd6 45.83%,#00ffed 50%,#0ff 53.31%,#00fbff 54.17%,#00e6ff 58.33%,#00d3ff 62.5%,#00c1ff 66.67%,#00b0ff 70.83%,#00a1ff 75%,#0094ff 79.17%,#0087ff 83.33%,#007dff 87.5%,#0073ff 91.67%,#006bff 95.83%,#0065ff 100%)"></i><i style="height:2px;background:linear-gradient(90deg,#86ff00 0%,#5fff00 4.17%,#39ff00 8.33%,#15ff00 12.5%,#0f0 15.05%,#00ff0d 16.67%,#00ff2e 20.83%,#00ff4e 25%,#00ff6d 29.17%,#00ff8a 33.33%,#00ffa5 37.5%,#00ffc0 41.67%,#00ffd8 45.83%,#00fff0 50%,#0ff 52.88%,#00f8ff 54.17%,#00e4ff 58.33%,#00d1ff 62.5%,#00bfff 66.67%,#00afff 70.83%,#00a0ff 75%,#0092ff 79.17%,#0086ff 83.33%,#007bff 87.5%,#0072ff 91.67%,#006aff 95.83%,#0063ff 100%)"></i><i style="height:2px;background:linear-gradient(90deg,#82ff00 0%,#5bff00 4.17%,#36ff00 8.33%,#12ff00 12.5%,#0f0 14.68%,#00ff10 16.67%,#00ff31 20.83%,#00ff51 25%,#00ff6f 29.17%,#00ff8c 33.33%,#00ffa8 37.5%,#00ffc2 41.67%,#00ffdb 45.83%,#00fff2 50%,#0ff 52.46%,#00f6ff 54.17%,#00e2ff 58.33%,#00cfff 62.5%,#00bdff 66.67%,#00adff 70.83%,#009eff 75%,#0090ff 79.17%,#0084ff 83.33%,#007aff 87.5%,#0071ff 91.67%,#0069ff 95.83%,#0062ff 100%)"></i><i style="height:2px;background:linear-gradient(90deg,#7fff00 0%,#58ff00 4.17%,#3f0 8.33%,#0fff00 12.5%,#0f0 14.31%,#00ff13 16.67%,#00ff34 20.83%,#00ff54 25%,#00ff72 29.17%,#00ff8f 33.33%,#0fa 37.5%,#00ffc4 41.67%,#0fd 45.83%,#00fff4 50%,#0ff 52.03%,#00f4ff 54.17%,#00e0ff 58.33%,#00cdff 62.5%,#0bf 66.67%,#00abff 70.83%,#009cff 75%,#008fff 79.17%,#0083ff 83.33%,#0078ff 87.5%,#006fff 91.67%,#0067ff 95.83%,#0061ff 100%)"></i><i style="height:2px;background:linear-gradient(90deg,#7bff00 0%,#5f0 4.17%,#30ff00 8.33%,#0cff00 12.5%,#0f0 13.94%,#00ff16 16.67%,#00ff37 20.83%,#00ff57 25%,#00ff75 29.17%,#00ff92 33.33%,#00ffad 37.5%,#00ffc7 41.67%,#00ffdf 45.83%,#00fff6 50%,#0ff 51.61%,#00f2ff 54.17%,#00deff 58.33%,#00cbff 62.5%,#00b9ff 66.67%,#00a9ff 70.83%,#009aff 75%,#008dff 79.17%,#0081ff 83.33%,#07f 87.5%,#006eff 91.67%,#06f 95.83%,#0060ff 100%)"></i><i style="height:2px;background:linear-gradient(90deg,#78ff00 0%,#52ff00 4.17%,#2dff00 8.33%,#09ff00 12.5%,#0f0 13.57%,#00ff19 16.67%,#00ff3a 20.83%,#00ff5a 25%,#00ff78 29.17%,#00ff94 33.33%,#00ffaf 37.5%,#00ffc9 41.67%,#00ffe2 45.83%,#00fff9 50%,#0ff 51.19%,#00f0ff 54.17%,#00dcff 58.33%,#00c9ff 62.5%,#00b7ff 66.67%,#00a7ff 70.83%,#09f 75%,#008cff 79.17%,#0080ff 83.33%,#0076ff 87.5%,#006dff 91.67%,#0065ff 95.83%,#005fff 100%)"></i><i style="height:2px;background:linear-gradient(90deg,#75ff00 0%,#4eff00 4.17%,#29ff00 8.33%,#06ff00 12.5%,#0f0 13.2%,#00ff1c 16.67%,#00ff3d 20.83%,#00ff5c 25%,#00ff7a 29.17%,#00ff97 33.33%,#00ffb2 37.5%,#0fc 41.67%,#00ffe4 45.83%,#00fffb 50%,#0ff 50.77%,#0ef 54.17%,#00d9ff 58.33%,#00c7ff 62.5%,#00b5ff 66.67%,#00a6ff 70.83%,#0097ff 75%,#008aff 79.17%,#007eff 83.33%,#0074ff 87.5%,#006bff 91.67%,#0064ff 95.83%,#005eff 100%)"></i><i style="height:2px;background:linear-gradient(90deg,#71ff00 0%,#4bff00 4.17%,#26ff00 8.33%,#03ff00 12.5%,#0f0 12.83%,#00ff1f 16.67%,#00ff40 20.83%,#00ff5f 25%,#00ff7d 29.17%,#0f9 33.33%,#00ffb4 37.5%,#00ffce 41.67%,#00ffe6 45.83%,#00fffd 50%,#0ff 50.35%,#00ebff 54.17%,#00d7ff 58.33%,#00c5ff 62.5%,#00b4ff 66.67%,#00a4ff 70.83%,#0095ff 75%,#08f 79.17%,#007dff 83.33%,#0073ff 87.5%,#006aff 91.67%,#0063ff 95.83%,#005dff 100%)"></i><i style="height:2px;background:linear-gradient(90deg,#6eff00 0%,#48ff00 4.17%,#23ff00 8.33%,#0f0 12.47%,#0f0 12.5%,#0f2 16.67%,#00ff43 20.83%,#00ff62 25%,#00ff80 29.17%,#00ff9c 33.33%,#00ffb7 37.5%,#00ffd1 41.67%,#00ffe9 45.83%,#0ff 49.93%,#0ff 50%,#00e9ff 54.17%,#00d5ff 58.33%,#00c3ff 62.5%,#00b2ff 66.67%,#00a2ff 70.83%,#0094ff 75%,#0087ff 79.17%,#007bff 83.33%,#0071ff 87.5%,#0069ff 91.67%,#0061ff 95.83%,#005cff 100%)"></i><i style="height:2px;background:linear-gradient(90deg,#6bff00 0%,#45ff00 4.17%,#20ff00 8.33%,#0f0 12.1%,#00ff03 12.5%,#00ff25 16.67%,#00ff46 20.83%,#00ff65 25%,#00ff82 29.17%,#00ff9f 33.33%,#00ffb9 37.5%,#00ffd3 41.67%,#00ffeb 45.83%,#0ff 49.51%,#00fcff 50%,#00e7ff 54.17%,#00d3ff 58.33%,#00c1ff 62.5%,#00b0ff 66.67%,#00a0ff 70.83%,#0092ff 75%,#0085ff 79.17%,#007aff 83.33%,#0070ff 87.5%,#0067ff 91.67%,#0060ff 95.83%,#005bff 100%)"></i><i style="height:2px;background:linear-gradient(90deg,#67ff00 0%,#41ff00 4.17%,#1dff00 8.33%,#0f0 11.73%,#00ff06 12.5%,#00ff28 16.67%,#00ff48 20.83%,#00ff67 25%,#00ff85 29.17%,#00ffa1 33.33%,#00ffbc 37.5%,#00ffd5 41.67%,#00ffed 45.83%,#0ff 49.09%,#00faff 50%,#00e5ff 54.17%,#00d1ff 58.33%,#00bfff 62.5%,#00aeff 66.67%,#009fff 70.83%,#0091ff 75%,#0084ff 79.17%,#0079ff 83.33%,#006fff 87.5%,#06f 91.67%,#005fff 95.83%,#0059ff 100%)"></i><i style="height:2px;background:linear-gradient(90deg,#64ff00 0%,#3eff00 4.17%,#1aff00 8.33%,#0f0 11.37%,#00ff09 12.5%,#00ff2b 16.67%,#00ff4b 20.83%,#00ff6a 25%,#0f8 29.17%,#00ffa4 33.33%,#00ffbe 37.5%,#00ffd8 41.67%,#00fff0 45.83%,#0ff 48.68%,#00f8ff 50%,#00e3ff 54.17%,#00cfff 58.33%,#00bdff 62.5%,#00acff 66.67%,#009dff 70.83%,#008fff 75%,#0082ff 79.17%,#07f 83.33%,#006dff 87.5%,#0065ff 91.67%,#005eff 95.83%,#0058ff 100%)"></i><i style="height:2px;background:linear-gradient(90deg,#61ff00 0%,#3bff00 4.17%,#17ff00 8.33%,#0f0 11%,#00ff0c 12.5%,#00ff2e 16.67%,#00ff4e 20.83%,#00ff6d 25%,#00ff8a 29.17%,#00ffa6 33.33%,#00ffc1 37.5%,#00ffda 41.67%,#00fff2 45.83%,#0ff 48.26%,#00f6ff 50%,#00e1ff 54.17%,#00cdff 58.33%,#0bf 62.5%,#00abff 66.67%,#009bff 70.83%,#008dff 75%,#0081ff 79.17%,#0076ff 83.33%,#006cff 87.5%,#0064ff 91.67%,#005dff 95.83%,#0057ff 100%)"></i><i style="height:2px;background:linear-gradient(90deg,#5eff00 0%,#38ff00 4.17%,#14ff00 8.33%,#0f0 10.64%,#00ff0f 12.5%,#00ff31 16.67%,#00ff51 20.83%,#00ff70 25%,#00ff8d 29.17%,#00ffa9 33.33%,#00ffc3 37.5%,#00ffdc 41.67%,#00fff4 45.83%,#0ff 47.85%,#00f4ff 50%,#00dfff 54.17%,#00cbff 58.33%,#00b9ff 62.5%,#00a9ff 66.67%,#009aff 70.83%,#008cff 75%,#007fff 79.17%,#0074ff 83.33%,#006bff 87.5%,#0062ff 91.67%,#005cff 95.83%,#0056ff 100%)"></i><i style="height:2px;background:linear-gradient(90deg,#5aff00 0%,#35ff00 4.17%,#10ff00 8.33%,#0f0 10.28%,#00ff12 12.5%,#00ff34 16.67%,#00ff54 20.83%,#00ff72 25%,#00ff90 29.17%,#00ffab 33.33%,#00ffc6 37.5%,#00ffdf 41.67%,#00fff6 45.83%,#0ff 47.44%,#00f2ff 50%,#0df 54.17%,#00c9ff 58.33%,#00b7ff 62.5%,#00a7ff 66.67%,#0098ff 70.83%,#008aff 75%,#007eff 79.17%,#0073ff 83.33%,#0069ff 87.5%,#0061ff 91.67%,#005bff 95.83%,#05f 100%)"></i><i style="height:2px;background:linear-gradient(90deg,#57ff00 0%,#31ff00 4.17%,#0dff00 8.33%,#0f0 9.91%,#00ff15 12.5%,#00ff37 16.67%,#00ff57 20.83%,#00ff75 25%,#00ff92 29.17%,#00ffae 33.33%,#00ffc8 37.5%,#00ffe1 41.67%,#00fff9 45.83%,#0ff 47.03%,#00efff 50%,#00dbff 54.17%,#00c8ff 58.33%,#00b6ff 62.5%,#00a5ff 66.67%,#0096ff 70.83%,#0089ff 75%,#007cff 79.17%,#0071ff 83.33%,#0068ff 87.5%,#0060ff 91.67%,#0059ff 95.83%,#0054ff 100%)"></i><i style="height:2px;background:linear-gradient(90deg,#54ff00 0%,#2eff00 4.17%,#0aff00 8.33%,#0f0 9.55%,#00ff18 12.5%,#00ff3a 16.67%,#00ff59 20.83%,#00ff78 25%,#00ff95 29.17%,#00ffb0 33.33%,#00ffcb 37.5%,#00ffe3 41.67%,#00fffb 45.83%,#0ff 46.62%,#00edff 50%,#00d9ff 54.17%,#00c6ff 58.33%,#00b4ff 62.5%,#00a3ff 66.67%,#0095ff 70.83%,#0087ff 75%,#007bff 79.17%,#0070ff 83.33%,#0067ff 87.5%,#005fff 91.67%,#0058ff 95.83%,#0053ff 100%)"></i><i style="height:2px;background:linear-gradient(90deg,#50ff00 0%,#2bff00 4.17%,#07ff00 8.33%,#0f0 9.19%,#00ff1b 12.5%,#00ff3c 16.67%,#00ff5c 20.83%,#00ff7a 25%,#00ff97 29.17%,#00ffb3 33.33%,#00ffcd 37.5%,#00ffe6 41.67%,#00fffd 45.83%,#0ff 46.21%,#00ebff 50%,#00d7ff 54.17%,#00c4ff 58.33%,#00b2ff 62.5%,#00a2ff 66.67%,#0093ff 70.83%,#0085ff 75%,#0079ff 79.17%,#006fff 83.33%,#0065ff 87.5%,#005eff 91.67%,#0057ff 95.83%,#0052ff 100%)"></i><i style="height:2px;background:linear-gradient(90deg,#4dff00 0%,#28ff00 4.17%,#04ff00 8.33%,#0f0 8.83%,#00ff1e 12.5%,#00ff3f 16.67%,#00ff5f 20.83%,#00ff7d 25%,#00ff9a 29.17%,#00ffb5 33.33%,#00ffcf 37.5%,#00ffe8 41.67%,#0ff 45.8%,#0ff 45.83%,#00e9ff 50%,#00d5ff 54.17%,#00c2ff 58.33%,#00b0ff 62.5%,#00a0ff 66.67%,#0091ff 70.83%,#0084ff 75%,#0078ff 79.17%,#006dff 83.33%,#0064ff 87.5%,#005cff 91.67%,#0056ff 95.83%,#0051ff 100%)"></i><i style="height:2px;background:linear-gradient(90deg,#4aff00 0%,#25ff00 4.17%,#01ff00 8.33%,#0f0 8.47%,#00ff21 12.5%,#00ff42 16.67%,#00ff62 20.83%,#00ff80 25%,#00ff9d 29.17%,#00ffb8 33.33%,#00ffd2 37.5%,#00ffea 41.67%,#0ff 45.39%,#00fdff 45.83%,#00e7ff 50%,#00d3ff 54.17%,#00c0ff 58.33%,#00aeff 62.5%,#009eff 66.67%,#0090ff 70.83%,#0082ff 75%,#0076ff 79.17%,#006cff 83.33%,#0063ff 87.5%,#005bff 91.67%,#05f 95.83%,#0050ff 100%)"></i><i style="height:2px;background:linear-gradient(90deg,#47ff00 0%,#2f0 4.17%,#0f0 8.11%,#00ff02 8.33%,#00ff24 12.5%,#00ff45 16.67%,#00ff64 20.83%,#00ff82 25%,#00ff9f 29.17%,#00ffba 33.33%,#00ffd4 37.5%,#00ffed 41.67%,#0ff 44.99%,#00faff 45.83%,#00e5ff 50%,#00d1ff 54.17%,#00beff 58.33%,#00acff 62.5%,#009dff 66.67%,#008eff 70.83%,#0081ff 75%,#0075ff 79.17%,#006bff 83.33%,#0062ff 87.5%,#005aff 91.67%,#0054ff 95.83%,#004fff 100%)"></i><i style="height:2px;background:linear-gradient(90deg,#4f0 0%,#1fff00 4.17%,#0f0 7.75%,#00ff05 8.33%,#00ff27 12.5%,#00ff48 16.67%,#00ff67 20.83%,#00ff85 25%,#00ffa2 29.17%,#00ffbd 33.33%,#00ffd6 37.5%,#00ffef 41.67%,#0ff 44.58%,#00f8ff 45.83%,#00e3ff 50%,#00cfff 54.17%,#00bcff 58.33%,#00abff 62.5%,#009bff 66.67%,#008cff 70.83%,#007fff 75%,#0074ff 79.17%,#0069ff 83.33%,#0060ff 87.5%,#0059ff 91.67%,#0053ff 95.83%,#004eff 100%)"></i><i style="height:2px;background:linear-gradient(90deg,#40ff00 0%,#1cff00 4.17%,#0f0 7.39%,#00ff08 8.33%,#00ff2a 12.5%,#00ff4b 16.67%,#00ff6a 20.83%,#0f8 25%,#00ffa4 29.17%,#00ffbf 33.33%,#00ffd9 37.5%,#00fff1 41.67%,#0ff 44.18%,#00f6ff 45.83%,#00e1ff 50%,#00cdff 54.17%,#00baff 58.33%,#00a9ff 62.5%,#09f 66.67%,#008bff 70.83%,#007eff 75%,#0072ff 79.17%,#0068ff 83.33%,#005fff 87.5%,#0058ff 91.67%,#0052ff 95.83%,#004dff 100%)"></i><i style="height:2px;background:linear-gradient(90deg,#3dff00 0%,#18ff00 4.17%,#0f0 7.03%,#00ff0b 8.33%,#00ff2d 12.5%,#00ff4d 16.67%,#00ff6d 20.83%,#00ff8a 25%,#00ffa7 29.17%,#00ffc2 33.33%,#00ffdb 37.5%,#00fff3 41.67%,#0ff 43.78%,#00f4ff 45.83%,#00dfff 50%,#00cbff 54.17%,#00b8ff 58.33%,#00a7ff 62.5%,#0097ff 66.67%,#0089ff 70.83%,#007cff 75%,#0071ff 79.17%,#0067ff 83.33%,#005eff 87.5%,#0057ff 91.67%,#0051ff 95.83%,#004cff 100%)"></i><i style="height:2px;background:linear-gradient(90deg,#3aff00 0%,#15ff00 4.17%,#0f0 6.67%,#00ff0e 8.33%,#00ff30 12.5%,#00ff50 16.67%,#00ff6f 20.83%,#00ff8d 25%,#00ffa9 29.17%,#00ffc4 33.33%,#00ffde 37.5%,#00fff6 41.67%,#0ff 43.38%,#00f2ff 45.83%,#0df 50%,#00c9ff 54.17%,#00b6ff 58.33%,#00a5ff 62.5%,#0096ff 66.67%,#08f 70.83%,#007bff 75%,#006fff 79.17%,#0065ff 83.33%,#005dff 87.5%,#0056ff 91.67%,#0050ff 95.83%,#004cff 100%)"></i><i style="height:2px;background:linear-gradient(90deg,#37ff00 0%,#12ff00 4.17%,#0f0 6.31%,#0f1 8.33%,#0f3 12.5%,#00ff53 16.67%,#00ff72 20.83%,#00ff90 25%,#00ffac 29.17%,#00ffc6 33.33%,#00ffe0 37.5%,#00fff8 41.67%,#0ff 42.98%,#00f0ff 45.83%,#00dbff 50%,#00c7ff 54.17%,#00b5ff 58.33%,#00a4ff 62.5%,#0094ff 66.67%,#0086ff 70.83%,#0079ff 75%,#006eff 79.17%,#0064ff 83.33%,#005cff 87.5%,#05f 91.67%,#004fff 95.83%,#004bff 100%)"></i><i style="height:2px;background:linear-gradient(90deg,#34ff00 0%,#0fff00 4.17%,#0f0 5.96%,#00ff14 8.33%,#00ff36 12.5%,#00ff56 16.67%,#00ff75 20.83%,#00ff92 25%,#00ffae 29.17%,#00ffc9 33.33%,#00ffe2 37.5%,#00fffa 41.67%,#0ff 42.58%,#0ef 45.83%,#00d9ff 50%,#00c5ff 54.17%,#00b3ff 58.33%,#00a2ff 62.5%,#0092ff 66.67%,#0084ff 70.83%,#0078ff 75%,#006dff 79.17%,#0063ff 83.33%,#005aff 87.5%,#0053ff 91.67%,#004eff 95.83%,#004aff 100%)"></i><i style="height:2px;background:linear-gradient(90deg,#31ff00 0%,#0cff00 4.17%,#0f0 5.6%,#00ff17 8.33%,#00ff38 12.5%,#00ff59 16.67%,#0f7 20.83%,#00ff95 25%,#00ffb1 29.17%,#00ffcb 33.33%,#00ffe4 37.5%,#00fffc 41.67%,#0ff 42.18%,#00ebff 45.83%,#00d7ff 50%,#00c3ff 54.17%,#00b1ff 58.33%,#00a0ff 62.5%,#0091ff 66.67%,#0083ff 70.83%,#0076ff 75%,#006bff 79.17%,#0062ff 83.33%,#0059ff 87.5%,#0052ff 91.67%,#004dff 95.83%,#0049ff 100%)"></i><i style="height:2px;background:linear-gradient(90deg,#2dff00 0%,#09ff00 4.17%,#0f0 5.25%,#00ff1a 8.33%,#00ff3b 12.5%,#00ff5b 16.67%,#00ff7a 20.83%,#00ff97 25%,#00ffb3 29.17%,#00ffce 33.33%,#00ffe7 37.5%,#00fffe 41.67%,#0ff 41.78%,#00e9ff 45.83%,#00d5ff 50%,#00c1ff 54.17%,#00afff 58.33%,#009eff 62.5%,#008fff 66.67%,#0081ff 70.83%,#0075ff 75%,#006aff 79.17%,#0060ff 83.33%,#0058ff 87.5%,#0051ff 91.67%,#004cff 95.83%,#0048ff 100%)"></i><i style="height:2px;background:linear-gradient(90deg,#2aff00 0%,#06ff00 4.17%,#0f0 4.89%,#00ff1d 8.33%,#00ff3e 12.5%,#00ff5e 16.67%,#00ff7d 20.83%,#00ff9a 25%,#00ffb6 29.17%,#00ffd0 33.33%,#00ffe9 37.5%,#0ff 41.38%,#00fdff 41.67%,#00e7ff 45.83%,#00d3ff 50%,#00bfff 54.17%,#00adff 58.33%,#009dff 62.5%,#008eff 66.67%,#0080ff 70.83%,#0074ff 75%,#0069ff 79.17%,#005fff 83.33%,#0057ff 87.5%,#0050ff 91.67%,#004bff 95.83%,#0047ff 100%)"></i><i style="height:2px;background:linear-gradient(90deg,#27ff00 0%,#03ff00 4.17%,#0f0 4.54%,#00ff20 8.33%,#00ff41 12.5%,#00ff61 16.67%,#00ff7f 20.83%,#00ff9c 25%,#00ffb8 29.17%,#00ffd2 33.33%,#00ffeb 37.5%,#0ff 40.99%,#00fbff 41.67%,#00e5ff 45.83%,#00d1ff 50%,#00bdff 54.17%,#00abff 58.33%,#009bff 62.5%,#008cff 66.67%,#007eff 70.83%,#0072ff 75%,#0067ff 79.17%,#005eff 83.33%,#0056ff 87.5%,#004fff 91.67%,#004aff 95.83%,#0046ff 100%)"></i><i style="height:2px;background:linear-gradient(90deg,#24ff00 0%,#0f0 4.17%,#0f0 4.18%,#0f2 8.33%,#0f4 12.5%,#00ff64 16.67%,#00ff82 20.83%,#00ff9f 25%,#0fb 29.17%,#00ffd5 33.33%,#00ffed 37.5%,#0ff 40.6%,#00f9ff 41.67%,#00e3ff 45.83%,#00cfff 50%,#0bf 54.17%,#0af 58.33%,#09f 62.5%,#008aff 66.67%,#007dff 70.83%,#0071ff 75%,#06f 79.17%,#005dff 83.33%,#05f 87.5%,#004eff 91.67%,#0049ff 95.83%,#0045ff 100%)"></i><i style="height:2px;background:linear-gradient(90deg,#21ff00 0%,#0f0 3.83%,#00ff03 4.17%,#00ff25 8.33%,#00ff47 12.5%,#0f6 16.67%,#00ff85 20.83%,#00ffa1 25%,#00ffbd 29.17%,#00ffd7 33.33%,#00fff0 37.5%,#0ff 40.2%,#00f7ff 41.67%,#00e1ff 45.83%,#00cdff 50%,#00baff 54.17%,#00a8ff 58.33%,#0098ff 62.5%,#0089ff 66.67%,#007bff 70.83%,#006fff 75%,#0065ff 79.17%,#005bff 83.33%,#0054ff 87.5%,#004dff 91.67%,#0048ff 95.83%,#0045ff 100%)"></i><i style="height:2px;background:linear-gradient(90deg,#1eff00 0%,#0f0 3.48%,#00ff06 4.17%,#00ff28 8.33%,#00ff49 12.5%,#00ff69 16.67%,#00ff87 20.83%,#00ffa4 25%,#00ffbf 29.17%,#00ffd9 33.33%,#00fff2 37.5%,#0ff 39.81%,#00f5ff 41.67%,#00dfff 45.83%,#00cbff 50%,#00b8ff 54.17%,#00a6ff 58.33%,#0096ff 62.5%,#0087ff 66.67%,#007aff 70.83%,#006eff 75%,#0063ff 79.17%,#005aff 83.33%,#0052ff 87.5%,#004cff 91.67%,#0047ff 95.83%,#04f 100%)"></i><i style="height:2px;background:linear-gradient(90deg,#1bff00 0%,#0f0 3.13%,#00ff09 4.17%,#00ff2b 8.33%,#00ff4c 12.5%,#00ff6c 16.67%,#00ff8a 20.83%,#00ffa6 25%,#00ffc2 29.17%,#00ffdc 33.33%,#00fff4 37.5%,#0ff 39.42%,#00f3ff 41.67%,#0df 45.83%,#00c9ff 50%,#00b6ff 54.17%,#00a4ff 58.33%,#0094ff 62.5%,#0086ff 66.67%,#0078ff 70.83%,#006dff 75%,#0062ff 79.17%,#0059ff 83.33%,#0051ff 87.5%,#004bff 91.67%,#0046ff 95.83%,#0043ff 100%)"></i><i style="height:2px;background:linear-gradient(90deg,#18ff00 0%,#0f0 2.77%,#00ff0c 4.17%,#00ff2e 8.33%,#00ff4f 12.5%,#00ff6e 16.67%,#00ff8c 20.83%,#00ffa9 25%,#00ffc4 29.17%,#00ffde 33.33%,#00fff6 37.5%,#0ff 39.03%,#00f1ff 41.67%,#00dbff 45.83%,#00c7ff 50%,#00b4ff 54.17%,#00a3ff 58.33%,#0093ff 62.5%,#0084ff 66.67%,#07f 70.83%,#006bff 75%,#0061ff 79.17%,#0058ff 83.33%,#0050ff 87.5%,#004aff 91.67%,#0045ff 95.83%,#0042ff 100%)"></i><i style="height:2px;background:linear-gradient(90deg,#15ff00 0%,#0f0 2.42%,#00ff0f 4.17%,#00ff31 8.33%,#00ff52 12.5%,#00ff71 16.67%,#00ff8f 20.83%,#00ffab 25%,#00ffc7 29.17%,#00ffe0 33.33%,#00fff9 37.5%,#0ff 38.64%,#0ef 41.67%,#00d9ff 45.83%,#00c5ff 50%,#00b2ff 54.17%,#00a1ff 58.33%,#0091ff 62.5%,#0083ff 66.67%,#0075ff 70.83%,#006aff 75%,#0060ff 79.17%,#0057ff 83.33%,#004fff 87.5%,#0049ff 91.67%,#0045ff 95.83%,#0041ff 100%)"></i><i style="height:2px;background:linear-gradient(90deg,#12ff00 0%,#0f0 2.07%,#00ff12 4.17%,#00ff34 8.33%,#00ff54 12.5%,#00ff74 16.67%,#00ff91 20.83%,#00ffae 25%,#00ffc9 29.17%,#00ffe3 33.33%,#00fffb 37.5%,#0ff 38.25%,#00ecff 41.67%,#00d7ff 45.83%,#00c3ff 50%,#00b0ff 54.17%,#009fff 58.33%,#008fff 62.5%,#0081ff 66.67%,#0074ff 70.83%,#0068ff 75%,#005eff 79.17%,#0056ff 83.33%,#004eff 87.5%,#0048ff 91.67%,#04f 95.83%,#0041ff 100%)"></i><i style="height:2px;background:linear-gradient(90deg,#0fff00 0%,#0f0 1.72%,#00ff15 4.17%,#00ff37 8.33%,#00ff57 12.5%,#00ff76 16.67%,#00ff94 20.83%,#00ffb0 25%,#00ffcb 29.17%,#00ffe5 33.33%,#00fffd 37.5%,#0ff 37.86%,#00eaff 41.67%,#00d5ff 45.83%,#00c1ff 50%,#00afff 54.17%,#009dff 58.33%,#008eff 62.5%,#007fff 66.67%,#0073ff 70.83%,#0067ff 75%,#005dff 79.17%,#0054ff 83.33%,#004dff 87.5%,#0047ff 91.67%,#0043ff 95.83%,#0040ff 100%)"></i><i style="height:2px;background:linear-gradient(90deg,#0cff00 0%,#0f0 1.37%,#00ff18 4.17%,#00ff39 8.33%,#00ff5a 12.5%,#00ff79 16.67%,#00ff97 20.83%,#00ffb3 25%,#00ffce 29.17%,#00ffe7 33.33%,#0ff 37.48%,#0ff 37.5%,#00e8ff 41.67%,#00d3ff 45.83%,#00bfff 50%,#00adff 54.17%,#009cff 58.33%,#008cff 62.5%,#007eff 66.67%,#0071ff 70.83%,#06f 75%,#005cff 79.17%,#0053ff 83.33%,#004cff 87.5%,#0046ff 91.67%,#0042ff 95.83%,#003fff 100%)"></i><i style="height:2px;background:linear-gradient(90deg,#09ff00 0%,#0f0 1.03%,#00ff1a 4.17%,#00ff3c 8.33%,#00ff5d 12.5%,#00ff7c 16.67%,#0f9 20.83%,#00ffb5 25%,#00ffd0 29.17%,#00ffe9 33.33%,#0ff 37.09%,#00fdff 37.5%,#00e6ff 41.67%,#00d1ff 45.83%,#00bdff 50%,#00abff 54.17%,#009aff 58.33%,#008bff 62.5%,#007cff 66.67%,#0070ff 70.83%,#0064ff 75%,#005bff 79.17%,#0052ff 83.33%,#004bff 87.5%,#0045ff 91.67%,#0041ff 95.83%,#003eff 100%)"></i><i style="height:2px;background:linear-gradient(90deg,#06ff00 0%,#0f0 0.68%,#00ff1d 4.17%,#00ff3f 8.33%,#00ff5f 12.5%,#00ff7e 16.67%,#00ff9c 20.83%,#00ffb8 25%,#00ffd2 29.17%,#00ffec 33.33%,#0ff 36.71%,#00fbff 37.5%,#00e4ff 41.67%,#00cfff 45.83%,#0bf 50%,#00a9ff 54.17%,#0098ff 58.33%,#0089ff 62.5%,#007bff 66.67%,#006eff 70.83%,#0063ff 75%,#0059ff 79.17%,#0051ff 83.33%,#004aff 87.5%,#04f 91.67%,#0040ff 95.83%,#003dff 100%)"></i><i style="height:2px;background:linear-gradient(90deg,#03ff00 0%,#0f0 0.33%,#00ff20 4.17%,#00ff42 8.33%,#00ff62 12.5%,#00ff81 16.67%,#00ff9e 20.83%,#00ffba 25%,#00ffd5 29.17%,#0fe 33.33%,#0ff 36.32%,#00f8ff 37.5%,#00e2ff 41.67%,#00cdff 45.83%,#00baff 50%,#00a7ff 54.17%,#0097ff 58.33%,#0087ff 62.5%,#0079ff 66.67%,#006dff 70.83%,#0062ff 75%,#0058ff 79.17%,#0050ff 83.33%,#0049ff 87.5%,#04f 91.67%,#003fff 95.83%,#003dff 100%)"></i><i style="height:2px;background:linear-gradient(90deg,#0f0 0%,#00ff23 4.17%,#00ff45 8.33%,#00ff65 12.5%,#00ff83 16.67%,#00ffa1 20.83%,#00ffbc 25%,#00ffd7 29.17%,#00fff0 33.33%,#0ff 35.94%,#00f6ff 37.5%,#00e0ff 41.67%,#00cbff 45.83%,#00b8ff 50%,#00a6ff 54.17%,#0095ff 58.33%,#0086ff 62.5%,#0078ff 66.67%,#006cff 70.83%,#0061ff 75%,#0057ff 79.17%,#004fff 83.33%,#0048ff 87.5%,#0043ff 91.67%,#003fff 95.83%,#003cff 100%)"></i><i style="height:2px;background:linear-gradient(90deg,#00ff03 0%,#00ff26 4.17%,#00ff47 8.33%,#00ff67 12.5%,#00ff86 16.67%,#00ffa3 20.83%,#00ffbf 25%,#00ffd9 29.17%,#00fff2 33.33%,#0ff 35.56%,#00f4ff 37.5%,#00deff 41.67%,#00c9ff 45.83%,#00b6ff 50%,#00a4ff 54.17%,#0093ff 58.33%,#0084ff 62.5%,#07f 66.67%,#006aff 70.83%,#005fff 75%,#0056ff 79.17%,#004eff 83.33%,#0047ff 87.5%,#0042ff 91.67%,#003eff 95.83%,#003bff 100%)"></i><i style="height:2px;background:linear-gradient(90deg,#00ff06 0%,#00ff29 4.17%,#00ff4a 8.33%,#00ff6a 12.5%,#00ff89 16.67%,#00ffa6 20.83%,#00ffc1 25%,#00ffdc 29.17%,#00fff4 33.33%,#0ff 35.18%,#00f2ff 37.5%,#00dcff 41.67%,#00c7ff 45.83%,#00b4ff 50%,#00a2ff 54.17%,#0092ff 58.33%,#0083ff 62.5%,#0075ff 66.67%,#0069ff 70.83%,#005eff 75%,#05f 79.17%,#004dff 83.33%,#0046ff 87.5%,#0041ff 91.67%,#003dff 95.83%,#003bff 100%)"></i><i style="height:2px;background:linear-gradient(90deg,#00ff09 0%,#00ff2c 4.17%,#00ff4d 8.33%,#00ff6d 12.5%,#00ff8b 16.67%,#00ffa8 20.83%,#00ffc4 25%,#00ffde 29.17%,#00fff7 33.33%,#0ff 34.8%,#00f0ff 37.5%,#00daff 41.67%,#00c5ff 45.83%,#00b2ff 50%,#00a1ff 54.17%,#0090ff 58.33%,#0081ff 62.5%,#0074ff 66.67%,#0068ff 70.83%,#005dff 75%,#0053ff 79.17%,#004cff 83.33%,#0045ff 87.5%,#0040ff 91.67%,#003cff 95.83%,#003aff 100%)"></i><i style="height:2px;background:linear-gradient(90deg,#00ff0c 0%,#00ff2e 4.17%,#00ff50 8.33%,#00ff6f 12.5%,#00ff8e 16.67%,#0fa 20.83%,#00ffc6 25%,#00ffe0 29.17%,#00fff9 33.33%,#0ff 34.42%,#0ef 37.5%,#00d8ff 41.67%,#00c4ff 45.83%,#00b0ff 50%,#009fff 54.17%,#008fff 58.33%,#0080ff 62.5%,#0072ff 66.67%,#06f 70.83%,#005cff 75%,#0052ff 79.17%,#004bff 83.33%,#04f 87.5%,#003fff 91.67%,#003bff 95.83%,#0039ff 100%)"></i><i style="height:2px;background:linear-gradient(90deg,#00ff0f 0%,#00ff31 4.17%,#00ff52 8.33%,#00ff72 12.5%,#00ff90 16.67%,#00ffad 20.83%,#00ffc8 25%,#00ffe2 29.17%,#00fffb 33.33%,#0ff 34.04%,#00ecff 37.5%,#00d6ff 41.67%,#00c2ff 45.83%,#00afff 50%,#009dff 54.17%,#008dff 58.33%,#007eff 62.5%,#0071ff 66.67%,#0065ff 70.83%,#005aff 75%,#0051ff 79.17%,#0049ff 83.33%,#0043ff 87.5%,#003eff 91.67%,#003bff 95.83%,#0039ff 100%)"></i><i style="height:1.5px;background:linear-gradient(90deg,#00ff12 0%,#00ff34 4.17%,#0f5 8.33%,#00ff75 12.5%,#00ff93 16.67%,#00ffaf 20.83%,#00ffcb 25%,#00ffe5 29.17%,#00fffd 33.33%,#0ff 33.66%,#00eaff 37.5%,#00d4ff 41.67%,#00c0ff 45.83%,#00adff 50%,#009bff 54.17%,#008bff 58.33%,#007dff 62.5%,#006fff 66.67%,#0064ff 70.83%,#0059ff 75%,#0050ff 79.17%,#0048ff 83.33%,#0042ff 87.5%,#003dff 91.67%,#003aff 95.83%,#0038ff 100%)"></i></div>
<div class="h" style="left:328px;top:290.5px;width:205.5px;height:205.5px"><i style="height:2px;background:linear-gradient(90deg,#04ff00 0%,#0f0 0.49%,#00ff20 4.17%,#00ff43 8.33%,#00ff64 12.5%,#00ff84 16.67%,#00ffa2 20.83%,#00ffbf 25%,#00ffdb 29.17%,#00fff5 33.33%,#0ff 34.99%,#00f0ff 37.5%,#00d9ff 41.67%,#00c3ff 45.83%,#00aeff 50%,#009bff 54.17%,#008aff 58.33%,#0079ff 62.5%,#006bff 66.67%,#005dff 70.83%,#0051ff 75%,#0047ff 79.17%,#003eff 83.33%,#0036ff 87.5%,#0030ff 91.67%,#002bff 95.83%,#0027ff 100%)"></i><i style="height:2px;background:linear-gradient(90deg,#07ff00 0%,#0f0 0.78%,#00ff1d 4.17%,#00ff40 8.33%,#00ff61 12.5%,#00ff81 16.67%,#00ffa0 20.83%,#00ffbd 25%,#00ffd9 29.17%,#00fff3 33.33%,#0ff 35.32%,#00f2ff 37.5%,#00dbff 41.67%,#00c5ff 45.83%,#00b0ff 50%,#009dff 54.17%,#008bff 58.33%,#007bff 62.5%,#006cff 66.67%,#005fff 70.83%,#0053ff 75%,#0048ff 79.17%,#003fff 83.33%,#0037ff 87.5%,#0031ff 91.67%,#002cff 95.83%,#0028ff 100%)"></i><i style="height:2px;background:linear-gradient(90deg,#0aff00 0%,#0f0 1.08%,#00ff1b 4.17%,#00ff3e 8.33%,#00ff5f 12.5%,#00ff7f 16.67%,#00ff9e 20.83%,#0fb 25%,#00ffd7 29.17%,#00fff1 33.33%,#0ff 35.66%,#00f4ff 37.5%,#0df 41.67%,#00c7ff 45.83%,#00b2ff 50%,#009fff 54.17%,#008dff 58.33%,#007dff 62.5%,#006eff 66.67%,#0060ff 70.83%,#0054ff 75%,#0049ff 79.17%,#0040ff 83.33%,#0038ff 87.5%,#0032ff 91.67%,#002dff 95.83%,#0029ff 100%)"></i><i style="height:2px;background:linear-gradient(90deg,#0cff00 0%,#0f0 1.37%,#00ff18 4.17%,#00ff3b 8.33%,#00ff5d 12.5%,#00ff7d 16.67%,#00ff9b 20.83%,#00ffb9 25%,#00ffd4 29.17%,#00ffef 33.33%,#0ff 36.01%,#00f6ff 37.5%,#00dfff 41.67%,#00c9ff 45.83%,#00b4ff 50%,#00a0ff 54.17%,#008fff 58.33%,#007eff 62.5%,#006fff 66.67%,#0062ff 70.83%,#05f 75%,#004bff 79.17%,#0041ff 83.33%,#0039ff 87.5%,#03f 91.67%,#002eff 95.83%,#002aff 100%)"></i><i style="height:2px;background:linear-gradient(90deg,#0fff00 0%,#0f0 1.67%,#00ff16 4.17%,#00ff39 8.33%,#00ff5a 12.5%,#00ff7a 16.67%,#0f9 20.83%,#00ffb6 25%,#00ffd2 29.17%,#00ffed 33.33%,#0ff 36.35%,#00f8ff 37.5%,#00e1ff 41.67%,#00caff 45.83%,#00b6ff 50%,#00a2ff 54.17%,#0090ff 58.33%,#0080ff 62.5%,#0071ff 66.67%,#0063ff 70.83%,#0057ff 75%,#004cff 79.17%,#0043ff 83.33%,#003bff 87.5%,#0034ff 91.67%,#002fff 95.83%,#002bff 100%)"></i><i style="height:2px;background:linear-gradient(90deg,#1f0 0%,#0f0 1.97%,#00ff13 4.17%,#00ff36 8.33%,#00ff58 12.5%,#00ff78 16.67%,#00ff97 20.83%,#00ffb4 25%,#00ffd0 29.17%,#00ffeb 33.33%,#0ff 36.7%,#00faff 37.5%,#00e3ff 41.67%,#0cf 45.83%,#00b7ff 50%,#00a4ff 54.17%,#0092ff 58.33%,#0081ff 62.5%,#0072ff 66.67%,#0065ff 70.83%,#0058ff 75%,#004dff 79.17%,#04f 83.33%,#003cff 87.5%,#0035ff 91.67%,#0030ff 95.83%,#002cff 100%)"></i><i style="height:2px;background:linear-gradient(90deg,#14ff00 0%,#0f0 2.27%,#00ff10 4.17%,#00ff34 8.33%,#0f5 12.5%,#00ff76 16.67%,#00ff94 20.83%,#00ffb2 25%,#00ffce 29.17%,#00ffe8 33.33%,#0ff 37.04%,#00fcff 37.5%,#00e5ff 41.67%,#00ceff 45.83%,#00b9ff 50%,#00a6ff 54.17%,#0094ff 58.33%,#0083ff 62.5%,#0074ff 66.67%,#06f 70.83%,#005aff 75%,#004fff 79.17%,#0045ff 83.33%,#003dff 87.5%,#0036ff 91.67%,#0031ff 95.83%,#002dff 100%)"></i><i style="height:2px;background:linear-gradient(90deg,#17ff00 0%,#0f0 2.58%,#00ff0e 4.17%,#00ff31 8.33%,#00ff53 12.5%,#00ff73 16.67%,#00ff92 20.83%,#00ffb0 25%,#0fc 29.17%,#00ffe6 33.33%,#0ff 37.39%,#00feff 37.5%,#00e7ff 41.67%,#00d0ff 45.83%,#0bf 50%,#00a8ff 54.17%,#0095ff 58.33%,#0085ff 62.5%,#0075ff 66.67%,#0068ff 70.83%,#005bff 75%,#0050ff 79.17%,#0046ff 83.33%,#003eff 87.5%,#0037ff 91.67%,#0032ff 95.83%,#002eff 100%)"></i><i style="height:2px;background:linear-gradient(90deg,#1aff00 0%,#0f0 2.88%,#00ff0b 4.17%,#00ff2e 8.33%,#00ff50 12.5%,#00ff71 16.67%,#00ff90 20.83%,#00ffad 25%,#00ffca 29.17%,#00ffe4 33.33%,#00fffe 37.5%,#0ff 37.75%,#00e9ff 41.67%,#00d2ff 45.83%,#00bdff 50%,#00a9ff 54.17%,#0097ff 58.33%,#0086ff 62.5%,#07f 66.67%,#0069ff 70.83%,#005cff 75%,#0051ff 79.17%,#0048ff 83.33%,#003fff 87.5%,#0039ff 91.67%,#03f 95.83%,#002fff 100%)"></i><i style="height:2px;background:linear-gradient(90deg,#1cff00 0%,#0f0 3.18%,#00ff09 4.17%,#00ff2c 8.33%,#00ff4e 12.5%,#00ff6e 16.67%,#00ff8d 20.83%,#00ffab 25%,#00ffc7 29.17%,#00ffe2 33.33%,#00fffb 37.5%,#0ff 38.1%,#00ebff 41.67%,#00d4ff 45.83%,#00bfff 50%,#00abff 54.17%,#09f 58.33%,#08f 62.5%,#0079ff 66.67%,#006bff 70.83%,#005eff 75%,#0053ff 79.17%,#0049ff 83.33%,#0041ff 87.5%,#003aff 91.67%,#0034ff 95.83%,#0030ff 100%)"></i><i style="height:2px;background:linear-gradient(90deg,#1fff00 0%,#0f0 3.49%,#00ff06 4.17%,#00ff29 8.33%,#00ff4b 12.5%,#00ff6c 16.67%,#00ff8b 20.83%,#00ffa9 25%,#00ffc5 29.17%,#00ffe0 33.33%,#00fff9 37.5%,#0ff 38.45%,#00edff 41.67%,#00d6ff 45.83%,#00c1ff 50%,#00adff 54.17%,#009bff 58.33%,#008aff 62.5%,#007aff 66.67%,#006cff 70.83%,#005fff 75%,#0054ff 79.17%,#004aff 83.33%,#0042ff 87.5%,#003bff 91.67%,#0035ff 95.83%,#0031ff 100%)"></i><i style="height:2px;background:linear-gradient(90deg,#2f0 0%,#0f0 3.8%,#00ff03 4.17%,#00ff27 8.33%,#00ff49 12.5%,#00ff69 16.67%,#00ff89 20.83%,#00ffa6 25%,#00ffc3 29.17%,#00ffde 33.33%,#00fff7 37.5%,#0ff 38.81%,#00efff 41.67%,#00d8ff 45.83%,#00c3ff 50%,#00afff 54.17%,#009cff 58.33%,#008bff 62.5%,#007cff 66.67%,#006eff 70.83%,#0061ff 75%,#0056ff 79.17%,#004cff 83.33%,#0043ff 87.5%,#003cff 91.67%,#0037ff 95.83%,#0032ff 100%)"></i><i style="height:2px;background:linear-gradient(90deg,#24ff00 0%,#0f0 4.1%,#00ff01 4.17%,#00ff24 8.33%,#00ff46 12.5%,#00ff67 16.67%,#00ff86 20.83%,#00ffa4 25%,#00ffc1 29.17%,#00ffdc 33.33%,#00fff5 37.5%,#0ff 39.17%,#00f1ff 41.67%,#00daff 45.83%,#00c5ff 50%,#00b1ff 54.17%,#009eff 58.33%,#008dff 62.5%,#007dff 66.67%,#006fff 70.83%,#0062ff 75%,#0057ff 79.17%,#004dff 83.33%,#04f 87.5%,#003dff 91.67%,#0038ff 95.83%,#03f 100%)"></i><i style="height:2px;background:linear-gradient(90deg,#27ff00 0%,#02ff00 4.17%,#0f0 4.41%,#00ff21 8.33%,#0f4 12.5%,#00ff64 16.67%,#00ff84 20.83%,#00ffa2 25%,#00ffbe 29.17%,#00ffd9 33.33%,#00fff3 37.5%,#0ff 39.53%,#00f3ff 41.67%,#00dcff 45.83%,#00c7ff 50%,#00b3ff 54.17%,#00a0ff 58.33%,#008fff 62.5%,#007fff 66.67%,#0071ff 70.83%,#0064ff 75%,#0058ff 79.17%,#004eff 83.33%,#0046ff 87.5%,#003fff 91.67%,#0039ff 95.83%,#0034ff 100%)"></i><i style="height:2px;background:linear-gradient(90deg,#2aff00 0%,#05ff00 4.17%,#0f0 4.72%,#00ff1f 8.33%,#00ff41 12.5%,#00ff62 16.67%,#00ff81 20.83%,#00ff9f 25%,#00ffbc 29.17%,#00ffd7 33.33%,#00fff1 37.5%,#0ff 39.9%,#00f5ff 41.67%,#00deff 45.83%,#00c8ff 50%,#00b4ff 54.17%,#00a2ff 58.33%,#0091ff 62.5%,#0081ff 66.67%,#0072ff 70.83%,#0065ff 75%,#005aff 79.17%,#0050ff 83.33%,#0047ff 87.5%,#0040ff 91.67%,#003aff 95.83%,#0036ff 100%)"></i><i style="height:2px;background:linear-gradient(90deg,#2dff00 0%,#08ff00 4.17%,#0f0 5.04%,#00ff1c 8.33%,#00ff3f 12.5%,#00ff5f 16.67%,#00ff7f 20.83%,#00ff9d 25%,#00ffba 29.17%,#00ffd5 33.33%,#00ffef 37.5%,#0ff 40.26%,#00f7ff 41.67%,#00e0ff 45.83%,#00caff 50%,#00b6ff 54.17%,#00a4ff 58.33%,#0092ff 62.5%,#0082ff 66.67%,#0074ff 70.83%,#0067ff 75%,#005bff 79.17%,#0051ff 83.33%,#0048ff 87.5%,#0041ff 91.67%,#003bff 95.83%,#0037ff 100%)"></i><i style="height:2px;background:linear-gradient(90deg,#30ff00 0%,#0aff00 4.17%,#0f0 5.35%,#00ff19 8.33%,#00ff3c 12.5%,#00ff5d 16.67%,#00ff7c 20.83%,#00ff9b 25%,#00ffb7 29.17%,#00ffd3 33.33%,#00ffec 37.5%,#0ff 40.63%,#00f9ff 41.67%,#00e2ff 45.83%,#0cf 50%,#00b8ff 54.17%,#00a5ff 58.33%,#0094ff 62.5%,#0084ff 66.67%,#0076ff 70.83%,#0069ff 75%,#005dff 79.17%,#0053ff 83.33%,#004aff 87.5%,#0042ff 91.67%,#003cff 95.83%,#0038ff 100%)"></i><i style="height:2px;background:linear-gradient(90deg,#32ff00 0%,#0dff00 4.17%,#0f0 5.66%,#00ff17 8.33%,#00ff39 12.5%,#00ff5a 16.67%,#00ff7a 20.83%,#00ff98 25%,#00ffb5 29.17%,#00ffd0 33.33%,#00ffea 37.5%,#0ff 41%,#00fbff 41.67%,#00e4ff 45.83%,#00ceff 50%,#00baff 54.17%,#00a7ff 58.33%,#0096ff 62.5%,#0086ff 66.67%,#07f 70.83%,#006aff 75%,#005eff 79.17%,#0054ff 83.33%,#004bff 87.5%,#04f 91.67%,#003eff 95.83%,#0039ff 100%)"></i><i style="height:2px;background:linear-gradient(90deg,#35ff00 0%,#10ff00 4.17%,#0f0 5.98%,#00ff14 8.33%,#00ff37 12.5%,#00ff58 16.67%,#0f7 20.83%,#00ff96 25%,#00ffb3 29.17%,#00ffce 33.33%,#00ffe8 37.5%,#0ff 41.37%,#00fdff 41.67%,#00e6ff 45.83%,#00d0ff 50%,#00bcff 54.17%,#00a9ff 58.33%,#0098ff 62.5%,#08f 66.67%,#0079ff 70.83%,#006cff 75%,#0060ff 79.17%,#0056ff 83.33%,#004dff 87.5%,#0045ff 91.67%,#003fff 95.83%,#003aff 100%)"></i><i style="height:2px;background:linear-gradient(90deg,#38ff00 0%,#13ff00 4.17%,#0f0 6.3%,#0f1 8.33%,#00ff34 12.5%,#0f5 16.67%,#00ff75 20.83%,#00ff93 25%,#00ffb0 29.17%,#0fc 33.33%,#00ffe6 37.5%,#0ff 41.67%,#0ff 41.75%,#00e8ff 45.83%,#00d2ff 50%,#00beff 54.17%,#00abff 58.33%,#09f 62.5%,#0089ff 66.67%,#007bff 70.83%,#006dff 75%,#0061ff 79.17%,#0057ff 83.33%,#004eff 87.5%,#0046ff 91.67%,#0040ff 95.83%,#003bff 100%)"></i><i style="height:2px;background:linear-gradient(90deg,#3bff00 0%,#15ff00 4.17%,#0f0 6.62%,#00ff0f 8.33%,#00ff31 12.5%,#00ff53 16.67%,#00ff72 20.83%,#00ff91 25%,#00ffae 29.17%,#00ffc9 33.33%,#00ffe4 37.5%,#00fffc 41.67%,#0ff 42.12%,#00eaff 45.83%,#00d4ff 50%,#00c0ff 54.17%,#00adff 58.33%,#009bff 62.5%,#008bff 66.67%,#007cff 70.83%,#006fff 75%,#0063ff 79.17%,#0058ff 83.33%,#004fff 87.5%,#0048ff 91.67%,#0041ff 95.83%,#003dff 100%)"></i><i style="height:2px;background:linear-gradient(90deg,#3eff00 0%,#18ff00 4.17%,#0f0 6.94%,#00ff0c 8.33%,#00ff2f 12.5%,#00ff50 16.67%,#00ff70 20.83%,#00ff8e 25%,#00ffac 29.17%,#00ffc7 33.33%,#00ffe1 37.5%,#00fffa 41.67%,#0ff 42.5%,#00ecff 45.83%,#00d6ff 50%,#00c2ff 54.17%,#00afff 58.33%,#009dff 62.5%,#008dff 66.67%,#007eff 70.83%,#0071ff 75%,#0064ff 79.17%,#005aff 83.33%,#0051ff 87.5%,#0049ff 91.67%,#0043ff 95.83%,#003eff 100%)"></i><i style="height:2px;background:linear-gradient(90deg,#41ff00 0%,#1bff00 4.17%,#0f0 7.26%,#00ff09 8.33%,#00ff2c 12.5%,#00ff4d 16.67%,#00ff6d 20.83%,#00ff8c 25%,#00ffa9 29.17%,#00ffc5 33.33%,#00ffdf 37.5%,#00fff8 41.67%,#0ff 42.88%,#00efff 45.83%,#00d9ff 50%,#00c4ff 54.17%,#00b1ff 58.33%,#009fff 62.5%,#008fff 66.67%,#0080ff 70.83%,#0072ff 75%,#06f 79.17%,#005bff 83.33%,#0052ff 87.5%,#004aff 91.67%,#04f 95.83%,#003fff 100%)"></i><i style="height:2px;background:linear-gradient(90deg,#4f0 0%,#1eff00 4.17%,#0f0 7.58%,#00ff06 8.33%,#00ff29 12.5%,#00ff4b 16.67%,#00ff6b 20.83%,#00ff8a 25%,#00ffa7 29.17%,#00ffc2 33.33%,#0fd 37.5%,#00fff6 41.67%,#0ff 43.27%,#00f1ff 45.83%,#00dbff 50%,#00c6ff 54.17%,#00b3ff 58.33%,#00a1ff 62.5%,#0090ff 66.67%,#0081ff 70.83%,#0074ff 75%,#0068ff 79.17%,#005dff 83.33%,#0054ff 87.5%,#004cff 91.67%,#0045ff 95.83%,#0040ff 100%)"></i><i style="height:2px;background:linear-gradient(90deg,#46ff00 0%,#21ff00 4.17%,#0f0 7.9%,#00ff04 8.33%,#00ff27 12.5%,#00ff48 16.67%,#00ff68 20.83%,#00ff87 25%,#00ffa4 29.17%,#00ffc0 33.33%,#00ffdb 37.5%,#00fff4 41.67%,#0ff 43.65%,#00f3ff 45.83%,#0df 50%,#00c8ff 54.17%,#00b5ff 58.33%,#00a3ff 62.5%,#0092ff 66.67%,#0083ff 70.83%,#0075ff 75%,#0069ff 79.17%,#005eff 83.33%,#05f 87.5%,#004dff 91.67%,#0047ff 95.83%,#0041ff 100%)"></i><i style="height:2px;background:linear-gradient(90deg,#49ff00 0%,#24ff00 4.17%,#0f0 8.23%,#00ff01 8.33%,#00ff24 12.5%,#00ff46 16.67%,#0f6 20.83%,#00ff85 25%,#00ffa2 29.17%,#00ffbe 33.33%,#00ffd8 37.5%,#00fff1 41.67%,#0ff 44.04%,#00f5ff 45.83%,#00dfff 50%,#00caff 54.17%,#00b7ff 58.33%,#00a5ff 62.5%,#0094ff 66.67%,#0085ff 70.83%,#07f 75%,#006bff 79.17%,#0060ff 83.33%,#0057ff 87.5%,#004eff 91.67%,#0048ff 95.83%,#0043ff 100%)"></i><i style="height:2px;background:linear-gradient(90deg,#4cff00 0%,#26ff00 4.17%,#02ff00 8.33%,#0f0 8.55%,#00ff21 12.5%,#00ff43 16.67%,#00ff63 20.83%,#00ff82 25%,#00ff9f 29.17%,#0fb 33.33%,#00ffd6 37.5%,#00ffef 41.67%,#0ff 44.43%,#00f7ff 45.83%,#00e1ff 50%,#0cf 54.17%,#00b9ff 58.33%,#00a6ff 62.5%,#0096ff 66.67%,#0087ff 70.83%,#0079ff 75%,#006cff 79.17%,#0062ff 83.33%,#0058ff 87.5%,#0050ff 91.67%,#0049ff 95.83%,#04f 100%)"></i><i style="height:2px;background:linear-gradient(90deg,#4fff00 0%,#29ff00 4.17%,#05ff00 8.33%,#0f0 8.88%,#00ff1e 12.5%,#00ff40 16.67%,#00ff61 20.83%,#00ff7f 25%,#00ff9d 29.17%,#00ffb9 33.33%,#00ffd4 37.5%,#00ffed 41.67%,#0ff 44.82%,#00f9ff 45.83%,#00e3ff 50%,#00ceff 54.17%,#00baff 58.33%,#00a8ff 62.5%,#0098ff 66.67%,#08f 70.83%,#007bff 75%,#006eff 79.17%,#0063ff 83.33%,#0059ff 87.5%,#0051ff 91.67%,#004bff 95.83%,#0045ff 100%)"></i><i style="height:2px;background:linear-gradient(90deg,#52ff00 0%,#2cff00 4.17%,#08ff00 8.33%,#0f0 9.21%,#00ff1c 12.5%,#00ff3e 16.67%,#00ff5e 20.83%,#00ff7d 25%,#00ff9a 29.17%,#00ffb7 33.33%,#00ffd1 37.5%,#00ffeb 41.67%,#0ff 45.21%,#00fcff 45.83%,#00e5ff 50%,#00d0ff 54.17%,#00bcff 58.33%,#0af 62.5%,#09f 66.67%,#008aff 70.83%,#007cff 75%,#0070ff 79.17%,#0065ff 83.33%,#005bff 87.5%,#0053ff 91.67%,#004cff 95.83%,#0047ff 100%)"></i><i style="height:2px;background:linear-gradient(90deg,#5f0 0%,#2fff00 4.17%,#0aff00 8.33%,#0f0 9.54%,#00ff19 12.5%,#00ff3b 16.67%,#00ff5b 20.83%,#00ff7a 25%,#00ff98 29.17%,#00ffb4 33.33%,#00ffcf 37.5%,#00ffe8 41.67%,#0ff 45.61%,#00feff 45.83%,#00e7ff 50%,#00d2ff 54.17%,#00beff 58.33%,#00acff 62.5%,#009bff 66.67%,#008cff 70.83%,#007eff 75%,#0071ff 79.17%,#06f 83.33%,#005dff 87.5%,#0054ff 91.67%,#004dff 95.83%,#0048ff 100%)"></i><i style="height:2px;background:linear-gradient(90deg,#58ff00 0%,#32ff00 4.17%,#0dff00 8.33%,#0f0 9.87%,#00ff16 12.5%,#00ff38 16.67%,#00ff59 20.83%,#00ff78 25%,#00ff95 29.17%,#00ffb2 33.33%,#00ffcd 37.5%,#00ffe6 41.67%,#00fffe 45.83%,#0ff 46.01%,#00e9ff 50%,#00d4ff 54.17%,#00c0ff 58.33%,#00aeff 62.5%,#009dff 66.67%,#008eff 70.83%,#0080ff 75%,#0073ff 79.17%,#0068ff 83.33%,#005eff 87.5%,#0056ff 91.67%,#004fff 95.83%,#0049ff 100%)"></i><i style="height:2px;background:linear-gradient(90deg,#5bff00 0%,#35ff00 4.17%,#10ff00 8.33%,#0f0 10.2%,#00ff13 12.5%,#00ff35 16.67%,#00ff56 20.83%,#00ff75 25%,#00ff93 29.17%,#00ffaf 33.33%,#00ffca 37.5%,#00ffe4 41.67%,#00fffc 45.83%,#0ff 46.41%,#00ecff 50%,#00d6ff 54.17%,#00c3ff 58.33%,#00b0ff 62.5%,#009fff 66.67%,#0090ff 70.83%,#0081ff 75%,#0075ff 79.17%,#0069ff 83.33%,#0060ff 87.5%,#0057ff 91.67%,#0050ff 95.83%,#004bff 100%)"></i><i style="height:2px;background:linear-gradient(90deg,#5eff00 0%,#38ff00 4.17%,#13ff00 8.33%,#0f0 10.54%,#0f1 12.5%,#0f3 16.67%,#00ff53 20.83%,#00ff73 25%,#00ff90 29.17%,#00ffad 33.33%,#00ffc8 37.5%,#00ffe1 41.67%,#00fffa 45.83%,#0ff 46.81%,#0ef 50%,#00d8ff 54.17%,#00c5ff 58.33%,#00b2ff 62.5%,#00a1ff 66.67%,#0091ff 70.83%,#0083ff 75%,#0076ff 79.17%,#006bff 83.33%,#0061ff 87.5%,#0059ff 91.67%,#0052ff 95.83%,#004cff 100%)"></i><i style="height:2px;background:linear-gradient(90deg,#61ff00 0%,#3bff00 4.17%,#16ff00 8.33%,#0f0 10.87%,#00ff0e 12.5%,#00ff30 16.67%,#00ff51 20.83%,#00ff70 25%,#00ff8e 29.17%,#0fa 33.33%,#00ffc5 37.5%,#00ffdf 41.67%,#00fff7 45.83%,#0ff 47.22%,#00f0ff 50%,#00dbff 54.17%,#00c7ff 58.33%,#00b4ff 62.5%,#00a3ff 66.67%,#0093ff 70.83%,#0085ff 75%,#0078ff 79.17%,#006dff 83.33%,#0063ff 87.5%,#005aff 91.67%,#0053ff 95.83%,#004dff 100%)"></i><i style="height:2px;background:linear-gradient(90deg,#64ff00 0%,#3eff00 4.17%,#19ff00 8.33%,#0f0 11.21%,#00ff0b 12.5%,#00ff2d 16.67%,#00ff4e 20.83%,#00ff6d 25%,#00ff8b 29.17%,#00ffa8 33.33%,#00ffc3 37.5%,#0fd 41.67%,#00fff5 45.83%,#0ff 47.63%,#00f2ff 50%,#0df 54.17%,#00c9ff 58.33%,#00b6ff 62.5%,#00a5ff 66.67%,#0095ff 70.83%,#0087ff 75%,#007aff 79.17%,#006eff 83.33%,#0064ff 87.5%,#005cff 91.67%,#0054ff 95.83%,#004fff 100%)"></i><i style="height:2px;background:linear-gradient(90deg,#67ff00 0%,#41ff00 4.17%,#1cff00 8.33%,#0f0 11.54%,#00ff08 12.5%,#00ff2a 16.67%,#00ff4b 20.83%,#00ff6b 25%,#00ff89 29.17%,#00ffa5 33.33%,#00ffc1 37.5%,#00ffda 41.67%,#00fff3 45.83%,#0ff 48.04%,#00f4ff 50%,#00dfff 54.17%,#00cbff 58.33%,#00b8ff 62.5%,#00a7ff 66.67%,#0097ff 70.83%,#0089ff 75%,#007cff 79.17%,#0070ff 83.33%,#06f 87.5%,#005dff 91.67%,#0056ff 95.83%,#0050ff 100%)"></i><i style="height:2px;background:linear-gradient(90deg,#6aff00 0%,#4f0 4.17%,#1fff00 8.33%,#0f0 11.88%,#00ff05 12.5%,#00ff28 16.67%,#00ff48 20.83%,#00ff68 25%,#00ff86 29.17%,#00ffa3 33.33%,#00ffbe 37.5%,#00ffd8 41.67%,#00fff0 45.83%,#0ff 48.45%,#00f7ff 50%,#00e1ff 54.17%,#00cdff 58.33%,#00baff 62.5%,#00a9ff 66.67%,#09f 70.83%,#008aff 75%,#007dff 79.17%,#0072ff 83.33%,#0068ff 87.5%,#005fff 91.67%,#0057ff 95.83%,#0051ff 100%)"></i><i style="height:2px;background:linear-gradient(90deg,#6eff00 0%,#47ff00 4.17%,#2f0 8.33%,#0f0 12.22%,#00ff02 12.5%,#00ff25 16.67%,#00ff46 20.83%,#00ff65 25%,#00ff84 29.17%,#00ffa0 33.33%,#00ffbc 37.5%,#00ffd6 41.67%,#0fe 45.83%,#0ff 48.87%,#00f9ff 50%,#00e3ff 54.17%,#00cfff 58.33%,#00bcff 62.5%,#00abff 66.67%,#009bff 70.83%,#008cff 75%,#007fff 79.17%,#0073ff 83.33%,#0069ff 87.5%,#0060ff 91.67%,#0059ff 95.83%,#0053ff 100%)"></i><i style="height:2px;background:linear-gradient(90deg,#71ff00 0%,#4aff00 4.17%,#25ff00 8.33%,#01ff00 12.5%,#0f0 12.57%,#0f2 16.67%,#00ff43 20.83%,#00ff63 25%,#00ff81 29.17%,#00ff9e 33.33%,#00ffb9 37.5%,#00ffd3 41.67%,#00ffec 45.83%,#0ff 49.28%,#00fbff 50%,#00e5ff 54.17%,#00d1ff 58.33%,#00beff 62.5%,#00adff 66.67%,#009dff 70.83%,#008eff 75%,#0081ff 79.17%,#0075ff 83.33%,#006bff 87.5%,#0062ff 91.67%,#005aff 95.83%,#0054ff 100%)"></i><i style="height:2px;background:linear-gradient(90deg,#74ff00 0%,#4dff00 4.17%,#27ff00 8.33%,#03ff00 12.5%,#0f0 12.91%,#00ff1f 16.67%,#00ff40 20.83%,#00ff60 25%,#00ff7e 29.17%,#00ff9b 33.33%,#00ffb7 37.5%,#00ffd1 41.67%,#00ffe9 45.83%,#0ff 49.71%,#00fdff 50%,#00e8ff 54.17%,#00d3ff 58.33%,#00c0ff 62.5%,#00afff 66.67%,#009fff 70.83%,#0090ff 75%,#0083ff 79.17%,#07f 83.33%,#006cff 87.5%,#0063ff 91.67%,#005cff 95.83%,#0056ff 100%)"></i><i style="height:2px;background:linear-gradient(90deg,#7f0 0%,#50ff00 4.17%,#2aff00 8.33%,#06ff00 12.5%,#0f0 13.25%,#00ff1c 16.67%,#00ff3d 20.83%,#00ff5d 25%,#00ff7c 29.17%,#0f9 33.33%,#00ffb4 37.5%,#00ffce 41.67%,#00ffe7 45.83%,#00fffe 50%,#0ff 50.13%,#00eaff 54.17%,#00d5ff 58.33%,#00c2ff 62.5%,#00b1ff 66.67%,#00a1ff 70.83%,#0092ff 75%,#0085ff 79.17%,#0079ff 83.33%,#006eff 87.5%,#0065ff 91.67%,#005dff 95.83%,#0057ff 100%)"></i><i style="height:2px;background:linear-gradient(90deg,#7aff00 0%,#53ff00 4.17%,#2dff00 8.33%,#09ff00 12.5%,#0f0 13.6%,#00ff19 16.67%,#00ff3b 20.83%,#00ff5b 25%,#00ff79 29.17%,#00ff96 33.33%,#00ffb2 37.5%,#0fc 41.67%,#00ffe5 45.83%,#00fffc 50%,#0ff 50.55%,#00ecff 54.17%,#00d8ff 58.33%,#00c4ff 62.5%,#00b3ff 66.67%,#00a3ff 70.83%,#0094ff 75%,#0086ff 79.17%,#007aff 83.33%,#0070ff 87.5%,#0067ff 91.67%,#005fff 95.83%,#0059ff 100%)"></i><i style="height:2px;background:linear-gradient(90deg,#7dff00 0%,#56ff00 4.17%,#30ff00 8.33%,#0cff00 12.5%,#0f0 13.95%,#00ff17 16.67%,#00ff38 20.83%,#00ff58 25%,#00ff76 29.17%,#00ff93 33.33%,#00ffaf 37.5%,#00ffc9 41.67%,#00ffe2 45.83%,#00fffa 50%,#0ff 50.98%,#0ef 54.17%,#00daff 58.33%,#00c7ff 62.5%,#00b5ff 66.67%,#00a5ff 70.83%,#0096ff 75%,#08f 79.17%,#007cff 83.33%,#0071ff 87.5%,#0068ff 91.67%,#0060ff 95.83%,#005aff 100%)"></i><i style="height:2px;background:linear-gradient(90deg,#80ff00 0%,#59ff00 4.17%,#34ff00 8.33%,#0fff00 12.5%,#0f0 14.3%,#00ff14 16.67%,#00ff35 20.83%,#0f5 25%,#00ff74 29.17%,#00ff91 33.33%,#00ffad 37.5%,#00ffc7 41.67%,#00ffe0 45.83%,#00fff7 50%,#0ff 51.41%,#00f1ff 54.17%,#00dcff 58.33%,#00c9ff 62.5%,#00b7ff 66.67%,#00a7ff 70.83%,#0098ff 75%,#008aff 79.17%,#007eff 83.33%,#0073ff 87.5%,#006aff 91.67%,#0062ff 95.83%,#005cff 100%)"></i><i style="height:2px;background:linear-gradient(90deg,#83ff00 0%,#5cff00 4.17%,#37ff00 8.33%,#12ff00 12.5%,#0f0 14.65%,#0f1 16.67%,#00ff32 20.83%,#00ff52 25%,#00ff71 29.17%,#00ff8e 33.33%,#0fa 37.5%,#00ffc4 41.67%,#0fd 45.83%,#00fff5 50%,#0ff 51.85%,#00f3ff 54.17%,#00deff 58.33%,#00cbff 62.5%,#00b9ff 66.67%,#00a9ff 70.83%,#09f 75%,#008cff 79.17%,#0080ff 83.33%,#0075ff 87.5%,#006cff 91.67%,#0064ff 95.83%,#005dff 100%)"></i><i style="height:2px;background:linear-gradient(90deg,#87ff00 0%,#5fff00 4.17%,#3aff00 8.33%,#15ff00 12.5%,#0f0 15%,#00ff0e 16.67%,#00ff2f 20.83%,#00ff50 25%,#00ff6e 29.17%,#00ff8c 33.33%,#00ffa8 37.5%,#00ffc2 41.67%,#00ffdb 45.83%,#00fff3 50%,#0ff 52.28%,#00f5ff 54.17%,#00e0ff 58.33%,#00cdff 62.5%,#0bf 66.67%,#00abff 70.83%,#009bff 75%,#008eff 79.17%,#0081ff 83.33%,#07f 87.5%,#006dff 91.67%,#0065ff 95.83%,#005fff 100%)"></i><i style="height:2px;background:linear-gradient(90deg,#8aff00 0%,#62ff00 4.17%,#3dff00 8.33%,#18ff00 12.5%,#0f0 15.35%,#00ff0b 16.67%,#00ff2d 20.83%,#00ff4d 25%,#00ff6c 29.17%,#00ff89 33.33%,#00ffa5 37.5%,#00ffbf 41.67%,#00ffd9 45.83%,#00fff0 50%,#0ff 52.72%,#00f7ff 54.17%,#00e3ff 58.33%,#00cfff 62.5%,#00bdff 66.67%,#00adff 70.83%,#009dff 75%,#0090ff 79.17%,#0083ff 83.33%,#0078ff 87.5%,#006fff 91.67%,#0067ff 95.83%,#0060ff 100%)"></i><i style="height:2px;background:linear-gradient(90deg,#8dff00 0%,#6f0 4.17%,#40ff00 8.33%,#1bff00 12.5%,#0f0 15.7%,#00ff08 16.67%,#00ff2a 20.83%,#00ff4a 25%,#00ff69 29.17%,#00ff86 33.33%,#00ffa2 37.5%,#00ffbd 41.67%,#00ffd6 45.83%,#0fe 50%,#0ff 53.16%,#00faff 54.17%,#00e5ff 58.33%,#00d1ff 62.5%,#00bfff 66.67%,#00afff 70.83%,#009fff 75%,#0091ff 79.17%,#0085ff 83.33%,#007aff 87.5%,#0071ff 91.67%,#0068ff 95.83%,#0062ff 100%)"></i><i style="height:2px;background:linear-gradient(90deg,#90ff00 0%,#69ff00 4.17%,#43ff00 8.33%,#1eff00 12.5%,#0f0 16.06%,#00ff05 16.67%,#00ff27 20.83%,#00ff47 25%,#0f6 29.17%,#00ff84 33.33%,#00ffa0 37.5%,#00ffba 41.67%,#00ffd4 45.83%,#00ffec 50%,#0ff 53.61%,#00fcff 54.17%,#00e7ff 58.33%,#00d4ff 62.5%,#00c1ff 66.67%,#00b1ff 70.83%,#00a1ff 75%,#0093ff 79.17%,#0087ff 83.33%,#007cff 87.5%,#0072ff 91.67%,#006aff 95.83%,#0063ff 100%)"></i><i style="height:2px;background:linear-gradient(90deg,#94ff00 0%,#6cff00 4.17%,#46ff00 8.33%,#21ff00 12.5%,#0f0 16.42%,#00ff02 16.67%,#00ff24 20.83%,#0f4 25%,#00ff63 29.17%,#00ff81 33.33%,#00ff9d 37.5%,#00ffb8 41.67%,#00ffd1 45.83%,#00ffe9 50%,#0ff 54.05%,#00feff 54.17%,#00e9ff 58.33%,#00d6ff 62.5%,#00c3ff 66.67%,#00b3ff 70.83%,#00a3ff 75%,#0095ff 79.17%,#0089ff 83.33%,#007eff 87.5%,#0074ff 91.67%,#006cff 95.83%,#0065ff 100%)"></i><i style="height:2px;background:linear-gradient(90deg,#97ff00 0%,#6fff00 4.17%,#49ff00 8.33%,#24ff00 12.5%,#01ff00 16.67%,#0f0 16.78%,#00ff21 20.83%,#00ff42 25%,#00ff61 29.17%,#00ff7e 33.33%,#00ff9a 37.5%,#00ffb5 41.67%,#00ffcf 45.83%,#00ffe7 50%,#00fffd 54.17%,#0ff 54.5%,#00ecff 58.33%,#00d8ff 62.5%,#00c6ff 66.67%,#00b5ff 70.83%,#00a5ff 75%,#0097ff 79.17%,#008bff 83.33%,#007fff 87.5%,#0076ff 91.67%,#006dff 95.83%,#06f 100%)"></i><i style="height:2px;background:linear-gradient(90deg,#9aff00 0%,#72ff00 4.17%,#4cff00 8.33%,#27ff00 12.5%,#04ff00 16.67%,#0f0 17.14%,#00ff1e 20.83%,#00ff3f 25%,#00ff5e 29.17%,#00ff7c 33.33%,#00ff98 37.5%,#00ffb3 41.67%,#0fc 45.83%,#00ffe4 50%,#00fffb 54.17%,#0ff 54.96%,#0ef 58.33%,#00daff 62.5%,#00c8ff 66.67%,#00b7ff 70.83%,#00a7ff 75%,#09f 79.17%,#008dff 83.33%,#0081ff 87.5%,#07f 91.67%,#006fff 95.83%,#0068ff 100%)"></i><i style="height:2px;background:linear-gradient(90deg,#9dff00 0%,#76ff00 4.17%,#4fff00 8.33%,#2aff00 12.5%,#07ff00 16.67%,#0f0 17.5%,#00ff1b 20.83%,#00ff3c 25%,#00ff5b 29.17%,#00ff79 33.33%,#00ff95 37.5%,#00ffb0 41.67%,#00ffca 45.83%,#00ffe2 50%,#00fff9 54.17%,#0ff 55.41%,#00f0ff 58.33%,#00dcff 62.5%,#00caff 66.67%,#00b9ff 70.83%,#00a9ff 75%,#009bff 79.17%,#008eff 83.33%,#0083ff 87.5%,#0079ff 91.67%,#0071ff 95.83%,#006aff 100%)"></i><i style="height:2px;background:linear-gradient(90deg,#a1ff00 0%,#79ff00 4.17%,#52ff00 8.33%,#2dff00 12.5%,#0aff00 16.67%,#0f0 17.86%,#00ff18 20.83%,#00ff39 25%,#00ff58 29.17%,#00ff76 33.33%,#00ff93 37.5%,#00ffae 41.67%,#00ffc7 45.83%,#00ffdf 50%,#00fff6 54.17%,#0ff 55.87%,#00f3ff 58.33%,#00dfff 62.5%,#0cf 66.67%,#0bf 70.83%,#00abff 75%,#009dff 79.17%,#0090ff 83.33%,#0085ff 87.5%,#007bff 91.67%,#0072ff 95.83%,#006bff 100%)"></i><i style="height:2px;background:linear-gradient(90deg,#a4ff00 0%,#7cff00 4.17%,#56ff00 8.33%,#31ff00 12.5%,#0dff00 16.67%,#0f0 18.22%,#00ff15 20.83%,#00ff36 25%,#0f5 29.17%,#00ff73 33.33%,#00ff90 37.5%,#00ffab 41.67%,#00ffc5 45.83%,#0fd 50%,#00fff4 54.17%,#0ff 56.33%,#00f5ff 58.33%,#00e1ff 62.5%,#00ceff 66.67%,#00bdff 70.83%,#00adff 75%,#009fff 79.17%,#0092ff 83.33%,#0087ff 87.5%,#007dff 91.67%,#0074ff 95.83%,#006dff 100%)"></i><i style="height:2px;background:linear-gradient(90deg,#a7ff00 0%,#7fff00 4.17%,#59ff00 8.33%,#34ff00 12.5%,#10ff00 16.67%,#0f0 18.59%,#00ff12 20.83%,#0f3 25%,#00ff53 29.17%,#00ff71 33.33%,#00ff8d 37.5%,#00ffa8 41.67%,#00ffc2 45.83%,#00ffda 50%,#00fff1 54.17%,#0ff 56.8%,#00f7ff 58.33%,#00e3ff 62.5%,#00d1ff 66.67%,#00bfff 70.83%,#00b0ff 75%,#00a1ff 79.17%,#0094ff 83.33%,#0089ff 87.5%,#007fff 91.67%,#0076ff 95.83%,#006fff 100%)"></i><i style="height:2px;background:linear-gradient(90deg,#abff00 0%,#83ff00 4.17%,#5cff00 8.33%,#37ff00 12.5%,#13ff00 16.67%,#0f0 18.96%,#00ff0f 20.83%,#00ff30 25%,#00ff50 29.17%,#00ff6e 33.33%,#00ff8a 37.5%,#00ffa6 41.67%,#00ffbf 45.83%,#00ffd8 50%,#00ffef 54.17%,#0ff 57.26%,#00faff 58.33%,#00e5ff 62.5%,#00d3ff 66.67%,#00c1ff 70.83%,#00b2ff 75%,#00a3ff 79.17%,#0096ff 83.33%,#008bff 87.5%,#0080ff 91.67%,#0078ff 95.83%,#0070ff 100%)"></i><i style="height:2px;background:linear-gradient(90deg,#aeff00 0%,#86ff00 4.17%,#5fff00 8.33%,#3aff00 12.5%,#16ff00 16.67%,#0f0 19.32%,#00ff0c 20.83%,#00ff2d 25%,#00ff4d 29.17%,#00ff6b 33.33%,#0f8 37.5%,#00ffa3 41.67%,#00ffbd 45.83%,#00ffd5 50%,#00ffec 54.17%,#0ff 57.73%,#00fcff 58.33%,#00e8ff 62.5%,#00d5ff 66.67%,#00c4ff 70.83%,#00b4ff 75%,#00a5ff 79.17%,#0098ff 83.33%,#008cff 87.5%,#0082ff 91.67%,#0079ff 95.83%,#0072ff 100%)"></i><i style="height:2px;background:linear-gradient(90deg,#b1ff00 0%,#89ff00 4.17%,#62ff00 8.33%,#3dff00 12.5%,#19ff00 16.67%,#0f0 19.69%,#00ff09 20.83%,#00ff2a 25%,#00ff4a 29.17%,#00ff68 33.33%,#00ff85 37.5%,#00ffa0 41.67%,#00ffba 45.83%,#00ffd3 50%,#00ffea 54.17%,#0ff 58.21%,#00feff 58.33%,#00eaff 62.5%,#00d7ff 66.67%,#00c6ff 70.83%,#00b6ff 75%,#00a7ff 79.17%,#009aff 83.33%,#008eff 87.5%,#0084ff 91.67%,#007bff 95.83%,#0074ff 100%)"></i><i style="height:2px;background:linear-gradient(90deg,#b5ff00 0%,#8cff00 4.17%,#6f0 8.33%,#40ff00 12.5%,#1cff00 16.67%,#0f0 20.07%,#00ff06 20.83%,#00ff27 25%,#00ff47 29.17%,#00ff65 33.33%,#00ff82 37.5%,#00ff9e 41.67%,#00ffb8 45.83%,#00ffd0 50%,#00ffe7 54.17%,#00fffd 58.33%,#0ff 58.69%,#00ecff 62.5%,#00daff 66.67%,#00c8ff 70.83%,#00b8ff 75%,#00a9ff 79.17%,#009cff 83.33%,#0090ff 87.5%,#0086ff 91.67%,#007dff 95.83%,#0075ff 100%)"></i><i style="height:2px;background:linear-gradient(90deg,#b8ff00 0%,#90ff00 4.17%,#69ff00 8.33%,#43ff00 12.5%,#1fff00 16.67%,#0f0 20.44%,#00ff03 20.83%,#00ff24 25%,#0f4 29.17%,#00ff63 33.33%,#00ff7f 37.5%,#00ff9b 41.67%,#00ffb5 45.83%,#00ffce 50%,#00ffe5 54.17%,#00fffb 58.33%,#0ff 59.17%,#00efff 62.5%,#00dcff 66.67%,#00caff 70.83%,#00baff 75%,#00abff 79.17%,#009eff 83.33%,#0092ff 87.5%,#08f 91.67%,#007fff 95.83%,#07f 100%)"></i><i style="height:2px;background:linear-gradient(90deg,#bf0 0%,#93ff00 4.17%,#6cff00 8.33%,#47ff00 12.5%,#2f0 16.67%,#0f0 20.81%,#0f0 20.83%,#00ff21 25%,#00ff41 29.17%,#00ff60 33.33%,#00ff7d 37.5%,#00ff98 41.67%,#00ffb2 45.83%,#00ffcb 50%,#00ffe3 54.17%,#00fff8 58.33%,#0ff 59.65%,#00f1ff 62.5%,#00deff 66.67%,#0cf 70.83%,#00bcff 75%,#00adff 79.17%,#00a0ff 83.33%,#0094ff 87.5%,#008aff 91.67%,#0080ff 95.83%,#0079ff 100%)"></i><i style="height:2px;background:linear-gradient(90deg,#bfff00 0%,#96ff00 4.17%,#6fff00 8.33%,#4aff00 12.5%,#26ff00 16.67%,#03ff00 20.83%,#0f0 21.19%,#00ff1e 25%,#00ff3e 29.17%,#00ff5d 33.33%,#00ff7a 37.5%,#00ff96 41.67%,#00ffb0 45.83%,#00ffc9 50%,#00ffe0 54.17%,#00fff6 58.33%,#0ff 60.14%,#00f4ff 62.5%,#00e0ff 66.67%,#00cfff 70.83%,#00beff 75%,#00b0ff 79.17%,#00a2ff 83.33%,#0096ff 87.5%,#008bff 91.67%,#0082ff 95.83%,#007bff 100%)"></i><i style="height:2px;background:linear-gradient(90deg,#c2ff00 0%,#9aff00 4.17%,#73ff00 8.33%,#4dff00 12.5%,#29ff00 16.67%,#06ff00 20.83%,#0f0 21.57%,#00ff1b 25%,#00ff3b 29.17%,#00ff5a 33.33%,#0f7 37.5%,#00ff93 41.67%,#00ffad 45.83%,#00ffc6 50%,#0fd 54.17%,#00fff3 58.33%,#0ff 60.63%,#00f6ff 62.5%,#00e3ff 66.67%,#00d1ff 70.83%,#00c1ff 75%,#00b2ff 79.17%,#00a4ff 83.33%,#0098ff 87.5%,#008dff 91.67%,#0084ff 95.83%,#007cff 100%)"></i><i style="height:2px;background:linear-gradient(90deg,#c6ff00 0%,#9dff00 4.17%,#76ff00 8.33%,#50ff00 12.5%,#2cff00 16.67%,#09ff00 20.83%,#0f0 21.95%,#00ff18 25%,#00ff38 29.17%,#00ff57 33.33%,#00ff74 37.5%,#00ff90 41.67%,#0fa 45.83%,#00ffc3 50%,#00ffdb 54.17%,#00fff1 58.33%,#0ff 61.12%,#00f8ff 62.5%,#00e5ff 66.67%,#00d3ff 70.83%,#00c3ff 75%,#00b4ff 79.17%,#00a6ff 83.33%,#009aff 87.5%,#008fff 91.67%,#0086ff 95.83%,#007eff 100%)"></i><i style="height:2px;background:linear-gradient(90deg,#c9ff00 0%,#a1ff00 4.17%,#79ff00 8.33%,#54ff00 12.5%,#2fff00 16.67%,#0cff00 20.83%,#0f0 22.33%,#00ff15 25%,#00ff35 29.17%,#00ff54 33.33%,#00ff71 37.5%,#00ff8d 41.67%,#00ffa8 45.83%,#00ffc1 50%,#00ffd8 54.17%,#00ffef 58.33%,#0ff 61.62%,#00fbff 62.5%,#00e7ff 66.67%,#00d5ff 70.83%,#00c5ff 75%,#00b6ff 79.17%,#00a8ff 83.33%,#009cff 87.5%,#0091ff 91.67%,#08f 95.83%,#0080ff 100%)"></i><i style="height:2px;background:linear-gradient(90deg,#cdff00 0%,#a4ff00 4.17%,#7dff00 8.33%,#57ff00 12.5%,#32ff00 16.67%,#0fff00 20.83%,#0f0 22.71%,#00ff12 25%,#0f3 29.17%,#00ff51 33.33%,#00ff6f 37.5%,#00ff8b 41.67%,#00ffa5 45.83%,#00ffbe 50%,#00ffd6 54.17%,#00ffec 58.33%,#0ff 62.12%,#00fdff 62.5%,#00eaff 66.67%,#00d8ff 70.83%,#00c7ff 75%,#00b8ff 79.17%,#0af 83.33%,#009eff 87.5%,#0093ff 91.67%,#008aff 95.83%,#0082ff 100%)"></i><i style="height:2px;background:linear-gradient(90deg,#d0ff00 0%,#a7ff00 4.17%,#80ff00 8.33%,#5aff00 12.5%,#36ff00 16.67%,#12ff00 20.83%,#0f0 23.09%,#00ff0f 25%,#00ff30 29.17%,#00ff4e 33.33%,#00ff6c 37.5%,#0f8 41.67%,#00ffa2 45.83%,#0fb 50%,#00ffd3 54.17%,#00ffea 58.33%,#00fffe 62.5%,#0ff 62.62%,#00ecff 66.67%,#00daff 70.83%,#00c9ff 75%,#00baff 79.17%,#00acff 83.33%,#00a0ff 87.5%,#0095ff 91.67%,#008cff 95.83%,#0083ff 100%)"></i><i style="height:2px;background:linear-gradient(90deg,#d4ff00 0%,#abff00 4.17%,#83ff00 8.33%,#5dff00 12.5%,#39ff00 16.67%,#16ff00 20.83%,#0f0 23.48%,#00ff0c 25%,#00ff2d 29.17%,#00ff4b 33.33%,#00ff69 37.5%,#00ff85 41.67%,#00ffa0 45.83%,#00ffb9 50%,#00ffd1 54.17%,#00ffe7 58.33%,#00fffc 62.5%,#0ff 63.13%,#0ef 66.67%,#00dcff 70.83%,#0cf 75%,#00bcff 79.17%,#00afff 83.33%,#00a2ff 87.5%,#0097ff 91.67%,#008dff 95.83%,#0085ff 100%)"></i><i style="height:2px;background:linear-gradient(90deg,#d7ff00 0%,#aeff00 4.17%,#87ff00 8.33%,#61ff00 12.5%,#3cff00 16.67%,#19ff00 20.83%,#0f0 23.86%,#00ff09 25%,#00ff29 29.17%,#00ff48 33.33%,#0f6 37.5%,#00ff82 41.67%,#00ff9d 45.83%,#00ffb6 50%,#00ffce 54.17%,#00ffe4 58.33%,#00fffa 62.5%,#0ff 63.64%,#00f1ff 66.67%,#00dfff 70.83%,#00ceff 75%,#00bfff 79.17%,#00b1ff 83.33%,#00a4ff 87.5%,#09f 91.67%,#008fff 95.83%,#0087ff 100%)"></i><i style="height:2px;background:linear-gradient(90deg,#dbff00 0%,#b2ff00 4.17%,#8aff00 8.33%,#64ff00 12.5%,#3fff00 16.67%,#1cff00 20.83%,#0f0 24.25%,#00ff06 25%,#00ff26 29.17%,#00ff45 33.33%,#00ff63 37.5%,#00ff7f 41.67%,#00ff9a 45.83%,#00ffb3 50%,#00ffcb 54.17%,#00ffe2 58.33%,#00fff7 62.5%,#0ff 64.15%,#00f3ff 66.67%,#00e1ff 70.83%,#00d0ff 75%,#00c1ff 79.17%,#00b3ff 83.33%,#00a6ff 87.5%,#009bff 91.67%,#0091ff 95.83%,#0089ff 100%)"></i><i style="height:2px;background:linear-gradient(90deg,#deff00 0%,#b5ff00 4.17%,#8eff00 8.33%,#67ff00 12.5%,#42ff00 16.67%,#1fff00 20.83%,#0f0 24.64%,#00ff03 25%,#00ff23 29.17%,#00ff42 33.33%,#00ff60 37.5%,#00ff7c 41.67%,#00ff97 45.83%,#00ffb1 50%,#00ffc9 54.17%,#00ffdf 58.33%,#00fff5 62.5%,#0ff 64.67%,#00f6ff 66.67%,#00e3ff 70.83%,#00d2ff 75%,#00c3ff 79.17%,#00b5ff 83.33%,#00a8ff 87.5%,#009dff 91.67%,#0093ff 95.83%,#008bff 100%)"></i><i style="height:2px;background:linear-gradient(90deg,#e2ff00 0%,#b9ff00 4.17%,#91ff00 8.33%,#6bff00 12.5%,#46ff00 16.67%,#2f0 20.83%,#0f0 25%,#0f0 25.03%,#00ff20 29.17%,#00ff3f 33.33%,#00ff5d 37.5%,#00ff7a 41.67%,#00ff95 45.83%,#00ffae 50%,#00ffc6 54.17%,#0fd 58.33%,#00fff2 62.5%,#0ff 65.19%,#00f8ff 66.67%,#00e6ff 70.83%,#00d5ff 75%,#00c5ff 79.17%,#00b7ff 83.33%,#0af 87.5%,#009fff 91.67%,#0095ff 95.83%,#008dff 100%)"></i><i style="height:2px;background:linear-gradient(90deg,#e5ff00 0%,#bcff00 4.17%,#94ff00 8.33%,#6eff00 12.5%,#49ff00 16.67%,#26ff00 20.83%,#03ff00 25%,#0f0 25.43%,#00ff1d 29.17%,#00ff3c 33.33%,#00ff5a 37.5%,#0f7 41.67%,#00ff92 45.83%,#00ffab 50%,#00ffc3 54.17%,#00ffda 58.33%,#00fff0 62.5%,#0ff 65.72%,#00fbff 66.67%,#00e8ff 70.83%,#00d7ff 75%,#00c7ff 79.17%,#00b9ff 83.33%,#00acff 87.5%,#00a1ff 91.67%,#0097ff 95.83%,#008fff 100%)"></i><i style="height:2px;background:linear-gradient(90deg,#e9ff00 0%,#c0ff00 4.17%,#98ff00 8.33%,#71ff00 12.5%,#4cff00 16.67%,#29ff00 20.83%,#07ff00 25%,#0f0 25.82%,#00ff1a 29.17%,#00ff39 33.33%,#00ff57 37.5%,#00ff74 41.67%,#00ff8f 45.83%,#00ffa9 50%,#00ffc1 54.17%,#00ffd8 58.33%,#00ffed 62.5%,#0ff 66.25%,#00fdff 66.67%,#00ebff 70.83%,#00d9ff 75%,#00caff 79.17%,#0bf 83.33%,#00afff 87.5%,#00a3ff 91.67%,#09f 95.83%,#0091ff 100%)"></i><i style="height:2px;background:linear-gradient(90deg,#ecff00 0%,#c3ff00 4.17%,#9bff00 8.33%,#75ff00 12.5%,#50ff00 16.67%,#2cff00 20.83%,#0aff00 25%,#0f0 26.22%,#00ff17 29.17%,#00ff36 33.33%,#00ff54 37.5%,#00ff71 41.67%,#00ff8c 45.83%,#00ffa6 50%,#00ffbe 54.17%,#00ffd5 58.33%,#00ffea 62.5%,#00fffe 66.67%,#0ff 66.78%,#00edff 70.83%,#00dcff 75%,#0cf 79.17%,#00beff 83.33%,#00b1ff 87.5%,#00a5ff 91.67%,#009bff 95.83%,#0092ff 100%)"></i><i style="height:2px;background:linear-gradient(90deg,#f0ff00 0%,#c7ff00 4.17%,#9fff00 8.33%,#78ff00 12.5%,#53ff00 16.67%,#2fff00 20.83%,#0dff00 25%,#0f0 26.62%,#00ff14 29.17%,#0f3 33.33%,#00ff51 37.5%,#00ff6e 41.67%,#00ff89 45.83%,#00ffa3 50%,#0fb 54.17%,#00ffd2 58.33%,#00ffe8 62.5%,#00fffc 66.67%,#0ff 67.32%,#00efff 70.83%,#00deff 75%,#00ceff 79.17%,#00c0ff 83.33%,#00b3ff 87.5%,#00a7ff 91.67%,#009dff 95.83%,#0094ff 100%)"></i><i style="height:2px;background:linear-gradient(90deg,#f4ff00 0%,#caff00 4.17%,#a2ff00 8.33%,#7cff00 12.5%,#56ff00 16.67%,#3f0 20.83%,#10ff00 25%,#0f0 27.02%,#0f1 29.17%,#00ff30 33.33%,#00ff4e 37.5%,#00ff6b 41.67%,#00ff86 45.83%,#00ffa0 50%,#00ffb9 54.17%,#00ffd0 58.33%,#00ffe5 62.5%,#00fff9 66.67%,#0ff 67.86%,#00f2ff 70.83%,#00e0ff 75%,#00d1ff 79.17%,#00c2ff 83.33%,#00b5ff 87.5%,#00a9ff 91.67%,#009fff 95.83%,#0096ff 100%)"></i><i style="height:2px;background:linear-gradient(90deg,#f7ff00 0%,#ceff00 4.17%,#a6ff00 8.33%,#7fff00 12.5%,#5aff00 16.67%,#36ff00 20.83%,#13ff00 25%,#0f0 27.42%,#00ff0e 29.17%,#00ff2d 33.33%,#00ff4b 37.5%,#00ff68 41.67%,#00ff84 45.83%,#00ff9d 50%,#00ffb6 54.17%,#00ffcd 58.33%,#00ffe3 62.5%,#00fff7 66.67%,#0ff 68.41%,#00f4ff 70.83%,#00e3ff 75%,#00d3ff 79.17%,#00c4ff 83.33%,#00b7ff 87.5%,#00abff 91.67%,#00a1ff 95.83%,#0098ff 100%)"></i><i style="height:2px;background:linear-gradient(90deg,#fbff00 0%,#d1ff00 4.17%,#a9ff00 8.33%,#82ff00 12.5%,#5dff00 16.67%,#39ff00 20.83%,#17ff00 25%,#0f0 27.82%,#00ff0b 29.17%,#00ff2a 33.33%,#00ff48 37.5%,#00ff65 41.67%,#00ff81 45.83%,#00ff9b 50%,#00ffb3 54.17%,#00ffca 58.33%,#00ffe0 62.5%,#00fff4 66.67%,#0ff 68.96%,#00f7ff 70.83%,#00e5ff 75%,#00d5ff 79.17%,#00c7ff 83.33%,#00b9ff 87.5%,#00aeff 91.67%,#00a3ff 95.83%,#009aff 100%)"></i><i style="height:2px;background:linear-gradient(90deg,#ff0 0%,#d5ff00 4.17%,#adff00 8.33%,#86ff00 12.5%,#60ff00 16.67%,#3cff00 20.83%,#1aff00 25%,#0f0 28.22%,#00ff07 29.17%,#00ff27 33.33%,#00ff45 37.5%,#00ff62 41.67%,#00ff7e 45.83%,#00ff98 50%,#00ffb1 54.17%,#00ffc8 58.33%,#00ffde 62.5%,#00fff2 66.67%,#0ff 69.52%,#00f9ff 70.83%,#00e8ff 75%,#00d8ff 79.17%,#00c9ff 83.33%,#00bcff 87.5%,#00b0ff 91.67%,#00a5ff 95.83%,#009cff 100%)"></i><i style="height:2px;background:linear-gradient(90deg,#fffc00 0%,#ff0 0.32%,#d8ff00 4.17%,#b0ff00 8.33%,#89ff00 12.5%,#64ff00 16.67%,#40ff00 20.83%,#1dff00 25%,#0f0 28.63%,#00ff04 29.17%,#00ff24 33.33%,#00ff42 37.5%,#00ff5f 41.67%,#00ff7b 45.83%,#00ff95 50%,#00ffae 54.17%,#00ffc5 58.33%,#00ffdb 62.5%,#00ffef 66.67%,#0ff 70.08%,#00fcff 70.83%,#00eaff 75%,#00daff 79.17%,#00cbff 83.33%,#00beff 87.5%,#00b2ff 91.67%,#00a7ff 95.83%,#009eff 100%)"></i><i style="height:2px;background:linear-gradient(90deg,#fff800 0%,#ff0 0.68%,#dcff00 4.17%,#b4ff00 8.33%,#8dff00 12.5%,#67ff00 16.67%,#43ff00 20.83%,#20ff00 25%,#0f0 29.04%,#00ff01 29.17%,#00ff21 33.33%,#00ff3f 37.5%,#00ff5c 41.67%,#00ff78 45.83%,#00ff92 50%,#00ffab 54.17%,#00ffc2 58.33%,#00ffd8 62.5%,#00ffed 66.67%,#0ff 70.64%,#00feff 70.83%,#00ecff 75%,#00dcff 79.17%,#00cdff 83.33%,#00c0ff 87.5%,#00b4ff 91.67%,#00a9ff 95.83%,#00a0ff 100%)"></i><i style="height:2px;background:linear-gradient(90deg,#fff400 0%,#ff0 1.04%,#e0ff00 4.17%,#b7ff00 8.33%,#90ff00 12.5%,#6bff00 16.67%,#46ff00 20.83%,#24ff00 25%,#02ff00 29.17%,#0f0 29.45%,#00ff1e 33.33%,#00ff3c 37.5%,#00ff59 41.67%,#00ff75 45.83%,#00ff8f 50%,#00ffa8 54.17%,#00ffc0 58.33%,#00ffd6 62.5%,#00ffea 66.67%,#00fffd 70.83%,#0ff 71.21%,#00efff 75%,#00dfff 79.17%,#00d0ff 83.33%,#00c2ff 87.5%,#00b6ff 91.67%,#00acff 95.83%,#00a2ff 100%)"></i><i style="height:2px;background:linear-gradient(90deg,#fff100 0%,#ff0 1.41%,#e3ff00 4.17%,#bf0 8.33%,#94ff00 12.5%,#6eff00 16.67%,#4aff00 20.83%,#27ff00 25%,#05ff00 29.17%,#0f0 29.86%,#00ff1b 33.33%,#00ff39 37.5%,#00ff56 41.67%,#00ff72 45.83%,#00ff8c 50%,#00ffa5 54.17%,#00ffbd 58.33%,#00ffd3 62.5%,#00ffe8 66.67%,#00fffb 70.83%,#0ff 71.78%,#00f1ff 75%,#00e1ff 79.17%,#00d2ff 83.33%,#00c4ff 87.5%,#00b8ff 91.67%,#00aeff 95.83%,#00a4ff 100%)"></i><i style="height:2px;background:linear-gradient(90deg,#ffed00 0%,#ff0 1.77%,#e7ff00 4.17%,#beff00 8.33%,#97ff00 12.5%,#71ff00 16.67%,#4dff00 20.83%,#2aff00 25%,#09ff00 29.17%,#0f0 30.27%,#00ff17 33.33%,#00ff36 37.5%,#00ff53 41.67%,#00ff6f 45.83%,#00ff8a 50%,#00ffa3 54.17%,#00ffba 58.33%,#00ffd0 62.5%,#00ffe5 66.67%,#00fff8 70.83%,#0ff 72.36%,#00f4ff 75%,#00e3ff 79.17%,#00d4ff 83.33%,#00c7ff 87.5%,#0bf 91.67%,#00b0ff 95.83%,#00a6ff 100%)"></i><i style="height:2px;background:linear-gradient(90deg,#ffe900 0%,#ff0 2.14%,#ebff00 4.17%,#c2ff00 8.33%,#9bff00 12.5%,#75ff00 16.67%,#51ff00 20.83%,#2dff00 25%,#0cff00 29.17%,#0f0 30.69%,#00ff14 33.33%,#0f3 37.5%,#00ff50 41.67%,#00ff6c 45.83%,#00ff87 50%,#00ffa0 54.17%,#00ffb7 58.33%,#00ffce 62.5%,#00ffe2 66.67%,#00fff6 70.83%,#0ff 72.94%,#00f6ff 75%,#00e6ff 79.17%,#00d7ff 83.33%,#00c9ff 87.5%,#00bdff 91.67%,#00b2ff 95.83%,#00a8ff 100%)"></i><i style="height:2px;background:linear-gradient(90deg,#ffe500 0%,#ff0 2.51%,#ef0 4.17%,#c6ff00 8.33%,#9eff00 12.5%,#78ff00 16.67%,#54ff00 20.83%,#31ff00 25%,#0fff00 29.17%,#0f0 31.1%,#0f1 33.33%,#00ff30 37.5%,#00ff4d 41.67%,#00ff69 45.83%,#00ff84 50%,#00ff9d 54.17%,#00ffb5 58.33%,#00ffcb 62.5%,#00ffe0 66.67%,#00fff3 70.83%,#0ff 73.53%,#00f9ff 75%,#00e8ff 79.17%,#00d9ff 83.33%,#00cbff 87.5%,#00bfff 91.67%,#00b4ff 95.83%,#00abff 100%)"></i><i style="height:2px;background:linear-gradient(90deg,#ffe200 0%,#ff0 2.87%,#f2ff00 4.17%,#c9ff00 8.33%,#a2ff00 12.5%,#7cff00 16.67%,#57ff00 20.83%,#34ff00 25%,#12ff00 29.17%,#0f0 31.52%,#00ff0e 33.33%,#00ff2d 37.5%,#00ff4a 41.67%,#0f6 45.83%,#00ff81 50%,#00ff9a 54.17%,#00ffb2 58.33%,#00ffc8 62.5%,#0fd 66.67%,#00fff1 70.83%,#0ff 74.13%,#00fbff 75%,#00ebff 79.17%,#00dbff 83.33%,#00ceff 87.5%,#00c1ff 91.67%,#00b6ff 95.83%,#00adff 100%)"></i><i style="height:2px;background:linear-gradient(90deg,#ffde00 0%,#ff0 3.24%,#f6ff00 4.17%,#cdff00 8.33%,#a5ff00 12.5%,#7fff00 16.67%,#5bff00 20.83%,#38ff00 25%,#16ff00 29.17%,#0f0 31.94%,#00ff0b 33.33%,#00ff2a 37.5%,#00ff47 41.67%,#00ff63 45.83%,#00ff7e 50%,#00ff97 54.17%,#00ffaf 58.33%,#00ffc5 62.5%,#00ffda 66.67%,#0fe 70.83%,#0ff 74.73%,#00feff 75%,#00edff 79.17%,#00deff 83.33%,#00d0ff 87.5%,#00c3ff 91.67%,#00b8ff 95.83%,#00afff 100%)"></i><i style="height:2px;background:linear-gradient(90deg,#ffda00 0%,#ff0 3.61%,#f9ff00 4.17%,#d1ff00 8.33%,#a9ff00 12.5%,#83ff00 16.67%,#5eff00 20.83%,#3bff00 25%,#19ff00 29.17%,#0f0 32.36%,#00ff07 33.33%,#00ff26 37.5%,#0f4 41.67%,#00ff60 45.83%,#00ff7b 50%,#00ff94 54.17%,#00ffac 58.33%,#00ffc3 62.5%,#00ffd8 66.67%,#00ffeb 70.83%,#00fffe 75%,#0ff 75.33%,#00f0ff 79.17%,#00e0ff 83.33%,#00d2ff 87.5%,#00c6ff 91.67%,#0bf 95.83%,#00b1ff 100%)"></i><i style="height:2px;background:linear-gradient(90deg,#ffd600 0%,#ff0 3.99%,#fdff00 4.17%,#d4ff00 8.33%,#adff00 12.5%,#86ff00 16.67%,#62ff00 20.83%,#3eff00 25%,#1cff00 29.17%,#0f0 32.79%,#00ff04 33.33%,#00ff23 37.5%,#00ff41 41.67%,#00ff5d 45.83%,#00ff78 50%,#00ff91 54.17%,#00ffa9 58.33%,#00ffc0 62.5%,#00ffd5 66.67%,#00ffe9 70.83%,#00fffb 75%,#0ff 75.94%,#00f2ff 79.17%,#00e3ff 83.33%,#00d5ff 87.5%,#00c8ff 91.67%,#00bdff 95.83%,#00b3ff 100%)"></i><i style="height:2px;background:linear-gradient(90deg,#ffd300 0%,#fffd00 4.17%,#ff0 4.36%,#d8ff00 8.33%,#b0ff00 12.5%,#8aff00 16.67%,#65ff00 20.83%,#42ff00 25%,#20ff00 29.17%,#0f0 33.21%,#00ff01 33.33%,#00ff20 37.5%,#00ff3e 41.67%,#00ff5a 45.83%,#00ff75 50%,#00ff8e 54.17%,#00ffa7 58.33%,#00ffbd 62.5%,#00ffd2 66.67%,#00ffe6 70.83%,#00fff9 75%,#0ff 76.56%,#00f5ff 79.17%,#00e5ff 83.33%,#00d7ff 87.5%,#00caff 91.67%,#00bfff 95.83%,#00b5ff 100%)"></i><i style="height:2px;background:linear-gradient(90deg,#ffcf00 0%,#fff900 4.17%,#ff0 4.73%,#dcff00 8.33%,#b4ff00 12.5%,#8dff00 16.67%,#69ff00 20.83%,#45ff00 25%,#23ff00 29.17%,#02ff00 33.33%,#0f0 33.64%,#00ff1d 37.5%,#00ff3b 41.67%,#00ff57 45.83%,#00ff72 50%,#00ff8c 54.17%,#00ffa4 58.33%,#00ffba 62.5%,#00ffd0 66.67%,#00ffe3 70.83%,#00fff6 75%,#0ff 77.18%,#00f7ff 79.17%,#00e7ff 83.33%,#00d9ff 87.5%,#00cdff 91.67%,#00c1ff 95.83%,#00b7ff 100%)"></i><i style="height:2px;background:linear-gradient(90deg,#ffcb00 0%,#fff600 4.17%,#ff0 5.11%,#dfff00 8.33%,#b7ff00 12.5%,#91ff00 16.67%,#6cff00 20.83%,#48ff00 25%,#26ff00 29.17%,#06ff00 33.33%,#0f0 34.07%,#00ff1a 37.5%,#00ff38 41.67%,#00ff54 45.83%,#00ff6f 50%,#00ff89 54.17%,#00ffa1 58.33%,#00ffb8 62.5%,#00ffcd 66.67%,#00ffe1 70.83%,#00fff3 75%,#0ff 77.81%,#00faff 79.17%,#00eaff 83.33%,#00dcff 87.5%,#00cfff 91.67%,#00c3ff 95.83%,#00b9ff 100%)"></i><i style="height:2px;background:linear-gradient(90deg,#ffc700 0%,#fff200 4.17%,#ff0 5.49%,#e3ff00 8.33%,#bf0 12.5%,#95ff00 16.67%,#70ff00 20.83%,#4cff00 25%,#2aff00 29.17%,#09ff00 33.33%,#0f0 34.5%,#00ff16 37.5%,#00ff34 41.67%,#00ff51 45.83%,#00ff6c 50%,#00ff86 54.17%,#00ff9e 58.33%,#00ffb5 62.5%,#00ffca 66.67%,#00ffde 70.83%,#00fff1 75%,#0ff 78.44%,#00fcff 79.17%,#00ecff 83.33%,#00deff 87.5%,#00d1ff 91.67%,#00c6ff 95.83%,#00bcff 100%)"></i><i style="height:2px;background:linear-gradient(90deg,#ffc300 0%,#fe0 4.17%,#ff0 5.87%,#e7ff00 8.33%,#bfff00 12.5%,#98ff00 16.67%,#73ff00 20.83%,#4fff00 25%,#2dff00 29.17%,#0cff00 33.33%,#0f0 34.93%,#00ff13 37.5%,#00ff31 41.67%,#00ff4e 45.83%,#00ff69 50%,#00ff83 54.17%,#00ff9b 58.33%,#00ffb2 62.5%,#00ffc7 66.67%,#00ffdb 70.83%,#0fe 75%,#0ff 79.08%,#0ff 79.17%,#00efff 83.33%,#00e0ff 87.5%,#00d4ff 91.67%,#00c8ff 95.83%,#00beff 100%)"></i><i style="height:2px;background:linear-gradient(90deg,#ffbf00 0%,#ffea00 4.17%,#ff0 6.24%,#eaff00 8.33%,#c2ff00 12.5%,#9cff00 16.67%,#7f0 20.83%,#53ff00 25%,#30ff00 29.17%,#10ff00 33.33%,#0f0 35.37%,#00ff10 37.5%,#00ff2e 41.67%,#00ff4b 45.83%,#0f6 50%,#00ff80 54.17%,#00ff98 58.33%,#00ffaf 62.5%,#00ffc5 66.67%,#00ffd9 70.83%,#00ffeb 75%,#00fffd 79.17%,#0ff 79.73%,#00f1ff 83.33%,#00e3ff 87.5%,#00d6ff 91.67%,#00caff 95.83%,#00c0ff 100%)"></i><i style="height:2px;background:linear-gradient(90deg,#fb0 0%,#ffe600 4.17%,#ff0 6.63%,#ef0 8.33%,#c6ff00 12.5%,#9fff00 16.67%,#7aff00 20.83%,#56ff00 25%,#34ff00 29.17%,#13ff00 33.33%,#0f0 35.8%,#00ff0d 37.5%,#00ff2b 41.67%,#00ff48 45.83%,#00ff63 50%,#00ff7d 54.17%,#00ff95 58.33%,#00ffac 62.5%,#00ffc2 66.67%,#00ffd6 70.83%,#00ffe9 75%,#00fffa 79.17%,#0ff 80.38%,#00f4ff 83.33%,#00e5ff 87.5%,#00d8ff 91.67%,#00cdff 95.83%,#00c2ff 100%)"></i><i style="height:2px;background:linear-gradient(90deg,#ffb700 0%,#ffe300 4.17%,#ff0 7.01%,#f2ff00 8.33%,#caff00 12.5%,#a3ff00 16.67%,#7eff00 20.83%,#5aff00 25%,#37ff00 29.17%,#16ff00 33.33%,#0f0 36.24%,#00ff09 37.5%,#00ff28 41.67%,#0f4 45.83%,#00ff60 50%,#00ff7a 54.17%,#00ff92 58.33%,#00ffa9 62.5%,#00ffbf 66.67%,#00ffd3 70.83%,#00ffe6 75%,#00fff8 79.17%,#0ff 81.04%,#00f6ff 83.33%,#00e8ff 87.5%,#00dbff 91.67%,#00cfff 95.83%,#00c5ff 100%)"></i><i style="height:2px;background:linear-gradient(90deg,#ffb400 0%,#ffdf00 4.17%,#ff0 7.39%,#f6ff00 8.33%,#cdff00 12.5%,#a7ff00 16.67%,#81ff00 20.83%,#5dff00 25%,#3bff00 29.17%,#1aff00 33.33%,#0f0 36.68%,#00ff06 37.5%,#00ff24 41.67%,#00ff41 45.83%,#00ff5d 50%,#0f7 54.17%,#00ff8f 58.33%,#00ffa7 62.5%,#00ffbc 66.67%,#00ffd1 70.83%,#00ffe4 75%,#00fff5 79.17%,#0ff 81.71%,#00f9ff 83.33%,#00eaff 87.5%,#0df 91.67%,#00d1ff 95.83%,#00c7ff 100%)"></i><i style="height:2px;background:linear-gradient(90deg,#ffb000 0%,#ffdb00 4.17%,#ff0 7.77%,#faff00 8.33%,#d1ff00 12.5%,#af0 16.67%,#85ff00 20.83%,#61ff00 25%,#3eff00 29.17%,#1dff00 33.33%,#0f0 37.13%,#00ff03 37.5%,#00ff21 41.67%,#00ff3e 45.83%,#00ff5a 50%,#00ff74 54.17%,#00ff8c 58.33%,#00ffa4 62.5%,#00ffb9 66.67%,#00ffce 70.83%,#00ffe1 75%,#00fff2 79.17%,#0ff 82.38%,#00fbff 83.33%,#00edff 87.5%,#00dfff 91.67%,#00d4ff 95.83%,#00c9ff 100%)"></i><i style="height:1.5px;background:linear-gradient(90deg,#ffac00 0%,#ffd700 4.17%,#ff0 8.16%,#fdff00 8.33%,#d5ff00 12.5%,#aeff00 16.67%,#8f0 20.83%,#64ff00 25%,#42ff00 29.17%,#20ff00 33.33%,#01ff00 37.5%,#0f0 37.57%,#00ff1e 41.67%,#00ff3b 45.83%,#00ff56 50%,#00ff71 54.17%,#00ff89 58.33%,#00ffa1 62.5%,#00ffb7 66.67%,#00ffcb 70.83%,#00ffde 75%,#00fff0 79.17%,#0ff 83.06%,#00feff 83.33%,#00efff 87.5%,#00e2ff 91.67%,#00d6ff 95.83%,#00cbff 100%)"></i></div>
<svg width="544" height="550" viewBox="0 0 544 550">
<defs><linearGradient id="cb"><stop offset="0" stop-color="#00f"/><stop offset=".5" stop-color="#0f0"/><stop offset="1" stop-color="#f00"/></linearGradient></defs>
<clipPath id="cpa"><rect x="45" y="18" width="197" height="196"/></clipPath>
<g clip-path="url(#cpa)">
<path class="ct" d="M6.0 163.0 L6.7 161.1 L7.3 159.1 L7.9 157.2 L8.6 155.2 L9.2 153.2 L9.8 151.3 L10.4 149.3 L11.1 147.4 L11.7 145.4 L12.4 143.4 L13.0 141.5 L13.6 139.5 L14.3 137.6 L14.9 135.6 L15.6 133.6 L16.2 131.7 L16.9 129.7 L17.5 127.8 L18.2 125.8 L18.8 123.8 L19.5 121.9 L20.1 119.9 L20.8 118.0 L21.4 116.0 L22.1 114.0 L22.8 112.1 L23.4 110.1 L24.1 108.2 L24.7 106.2 L25.4 104.2 L26.1 102.3 L26.8 100.3 L27.4 98.4 L28.1 96.4 L28.8 94.4 L29.4 92.5 L30.1 90.5 L30.8 88.6 L31.5 86.6 L32.2 84.6 L32.8 82.7 L33.5 80.7 L34.2 78.8 L34.9 76.8 L35.6 74.8 L36.3 72.9 L37.0 70.9 L37.7 69.0 L38.4 67.0 L39.1 65.0 L39.8 63.1 L40.5 61.1 L41.2 59.2 L41.9 57.2 L42.6 55.2 L43.3 53.3 L44.0 51.3 L44.7 49.4 L45.4 47.4 L46.1 45.4 L46.8 43.5 L47.5 41.5 L48.3 39.6 L49.0 37.6 L49.7 35.6 L50.4 33.7 L51.1 31.7 L51.9 29.8 L52.6 27.8 L53.3 25.8 L54.0 23.9 L54.8 21.9 L55.5 20.0 L56.2 18.0 L57.0 16.0 L57.7 14.1 L58.5 12.1 L59.2 10.2 L59.9 8.2"/>
<path class="ct" d="M13.8 223.8 L14.4 221.8 L15.0 219.9 L15.6 217.9 L16.2 216.0 L16.8 214.0 L17.4 212.0 L18.0 210.1 L18.6 208.1 L19.2 206.2 L19.8 204.2 L20.4 202.2 L21.0 200.3 L21.6 198.3 L22.2 196.4 L22.9 194.4 L23.5 192.4 L24.1 190.5 L24.7 188.5 L25.3 186.6 L25.9 184.6 L26.6 182.6 L27.2 180.7 L27.8 178.7 L28.4 176.8 L29.1 174.8 L29.7 172.8 L30.3 170.9 L31.0 168.9 L31.6 167.0 L32.2 165.0 L32.9 163.0 L33.5 161.1 L34.2 159.1 L34.8 157.2 L35.4 155.2 L36.1 153.2 L36.7 151.3 L37.4 149.3 L38.0 147.4 L38.7 145.4 L39.3 143.4 L40.0 141.5 L40.7 139.5 L41.3 137.6 L42.0 135.6 L42.6 133.6 L43.3 131.7 L44.0 129.7 L44.6 127.8 L45.3 125.8 L46.0 123.8 L46.6 121.9 L47.3 119.9 L48.0 118.0 L48.7 116.0 L49.3 114.0 L50.0 112.1 L50.7 110.1 L51.4 108.2 L52.1 106.2 L52.8 104.2 L53.4 102.3 L54.1 100.3 L54.8 98.4 L55.5 96.4 L56.2 94.4 L56.9 92.5 L57.6 90.5 L58.3 88.6 L59.0 86.6 L59.7 84.6 L60.4 82.7 L61.1 80.7 L61.8 78.8 L62.5 76.8 L63.3 74.8 L64.0 72.9 L64.7 70.9 L65.4 69.0 L66.1 67.0 L66.8 65.0 L67.6 63.1 L68.3 61.1 L69.0 59.2 L69.7 57.2 L70.5 55.2 L71.2 53.3 L71.9 51.3 L72.7 49.4 L73.4 47.4 L74.1 45.4 L74.9 43.5 L75.6 41.5 L76.4 39.6 L77.1 37.6 L77.9 35.6 L78.6 33.7 L79.4 31.7 L80.1 29.8 L80.9 27.8 L81.6 25.8 L82.4 23.9 L83.2 21.9 L83.9 20.0 L84.7 18.0 L85.5 16.0 L86.2 14.1 L87.0 12.1 L87.8 10.2 L88.5 8.2"/>
<path class="ct" d="M43.8 223.8 L44.4 221.8 L45.0 219.9 L45.6 217.9 L46.2 216.0 L46.8 214.0 L47.5 212.0 L48.1 210.1 L48.7 208.1 L49.3 206.2 L49.9 204.2 L50.5 202.2 L51.2 200.3 L51.8 198.3 L52.4 196.4 L53.1 194.4 L53.7 192.4 L54.3 190.5 L55.0 188.5 L55.6 186.6 L56.2 184.6 L56.9 182.6 L57.5 180.7 L58.2 178.7 L58.8 176.8 L59.4 174.8 L60.1 172.8 L60.7 170.9 L61.4 168.9 L62.1 167.0 L62.7 165.0 L63.4 163.0 L64.0 161.1 L64.7 159.1 L65.4 157.2 L66.0 155.2 L66.7 153.2 L67.4 151.3 L68.0 149.3 L68.7 147.4 L69.4 145.4 L70.1 143.4 L70.7 141.5 L71.4 139.5 L72.1 137.6 L72.8 135.6 L73.5 133.6 L74.2 131.7 L74.8 129.7 L75.5 127.8 L76.2 125.8 L76.9 123.8 L77.6 121.9 L78.3 119.9 L79.0 118.0 L79.7 116.0 L80.4 114.0 L81.1 112.1 L81.9 110.1 L82.6 108.2 L83.3 106.2 L84.0 104.2 L84.7 102.3 L85.4 100.3 L86.2 98.4 L86.9 96.4 L87.6 94.4 L88.3 92.5 L89.1 90.5 L89.8 88.6 L90.5 86.6 L91.3 84.6 L92.0 82.7 L92.8 80.7 L93.5 78.8 L94.2 76.8 L95.0 74.8 L95.7 72.9 L96.5 70.9 L97.2 69.0 L98.0 67.0 L98.8 65.0 L99.5 63.1 L100.3 61.1 L101.0 59.2 L101.8 57.2 L102.6 55.2 L103.3 53.3 L104.1 51.3 L104.9 49.4 L105.7 47.4 L106.5 45.4 L107.2 43.5 L108.0 41.5 L108.8 39.6 L109.6 37.6 L110.4 35.6 L111.2 33.7 L112.0 31.7 L112.8 29.8 L113.6 27.8 L114.4 25.8 L115.2 23.9 L116.0 21.9 L116.8 20.0 L117.6 18.0 L118.4 16.0 L119.3 14.1 L120.1 12.1 L120.9 10.2 L121.7 8.2"/>
<path class="ct" d="M79.2 223.8 L79.8 221.8 L80.5 219.9 L81.1 217.9 L81.7 216.0 L82.3 214.0 L83.0 212.0 L83.6 210.1 L84.3 208.1 L84.9 206.2 L85.6 204.2 L86.2 202.2 L86.9 200.3 L87.5 198.3 L88.2 196.4 L88.8 194.4 L89.5 192.4 L90.1 190.5 L90.8 188.5 L91.5 186.6 L92.1 184.6 L92.8 182.6 L93.5 180.7 L94.1 178.7 L94.8 176.8 L95.5 174.8 L96.2 172.8 L96.9 170.9 L97.6 168.9 L98.2 167.0 L98.9 165.0 L99.6 163.0 L100.3 161.1 L101.0 159.1 L101.7 157.2 L102.4 155.2 L103.1 153.2 L103.8 151.3 L104.5 149.3 L105.3 147.4 L106.0 145.4 L106.7 143.4 L107.4 141.5 L108.1 139.5 L108.8 137.6 L109.6 135.6 L110.3 133.6 L111.0 131.7 L111.8 129.7 L112.5 127.8 L113.2 125.8 L114.0 123.8 L114.7 121.9 L115.5 119.9 L116.2 118.0 L117.0 116.0 L117.7 114.0 L118.5 112.1 L119.3 110.1 L120.0 108.2 L120.8 106.2 L121.5 104.2 L122.3 102.3 L123.1 100.3 L123.9 98.4 L124.6 96.4 L125.4 94.4 L126.2 92.5 L127.0 90.5 L127.8 88.6 L128.6 86.6 L129.4 84.6 L130.2 82.7 L131.0 80.7 L131.8 78.8 L132.6 76.8 L133.4 74.8 L134.2 72.9 L135.0 70.9 L135.8 69.0 L136.7 67.0 L137.5 65.0 L138.3 63.1 L139.1 61.1 L140.0 59.2 L140.8 57.2 L141.7 55.2 L142.5 53.3 L143.3 51.3 L144.2 49.4 L145.0 47.4 L145.9 45.4 L146.8 43.5 L147.6 41.5 L148.5 39.6 L149.4 37.6 L150.2 35.6 L151.1 33.7 L152.0 31.7 L152.9 29.8 L153.8 27.8 L154.6 25.8 L155.5 23.9 L156.4 21.9 L157.3 20.0 L158.2 18.0 L159.1 16.0 L160.0 14.1 L161.0 12.1 L161.9 10.2 L162.8 8.2"/>
<path class="ct" d="M124.8 223.8 L125.5 221.8 L126.1 219.9 L126.8 217.9 L127.5 216.0 L128.2 214.0 L128.9 212.0 L129.6 210.1 L130.3 208.1 L131.0 206.2 L131.7 204.2 L132.4 202.2 L133.1 200.3 L133.8 198.3 L134.5 196.4 L135.2 194.4 L135.9 192.4 L136.7 190.5 L137.4 188.5 L138.1 186.6 L138.8 184.6 L139.6 182.6 L140.3 180.7 L141.1 178.7 L141.8 176.8 L142.6 174.8 L143.3 172.8 L144.1 170.9 L144.8 168.9 L145.6 167.0 L146.4 165.0 L147.2 163.0 L147.9 161.1 L148.7 159.1 L149.5 157.2 L150.3 155.2 L151.1 153.2 L151.9 151.3 L152.7 149.3 L153.5 147.4 L154.3 145.4 L155.1 143.4 L155.9 141.5 L156.7 139.5 L157.5 137.6 L158.4 135.6 L159.2 133.6 L160.0 131.7 L160.9 129.7 L161.7 127.8 L162.6 125.8 L163.4 123.8 L164.3 121.9 L165.1 119.9 L166.0 118.0 L166.9 116.0 L167.8 114.0 L168.6 112.1 L169.5 110.1 L170.4 108.2 L171.3 106.2 L172.2 104.2 L173.1 102.3 L174.0 100.3 L174.9 98.4 L175.8 96.4 L176.8 94.4 L177.7 92.5 L178.6 90.5 L179.6 88.6 L180.5 86.6 L181.5 84.6 L182.4 82.7 L183.4 80.7 L184.3 78.8 L185.3 76.8 L186.3 74.8 L187.3 72.9 L188.3 70.9 L189.3 69.0 L190.3 67.0 L191.3 65.0 L192.3 63.1 L193.3 61.1 L194.3 59.2 L195.4 57.2 L196.4 55.2 L197.5 53.3 L198.5 51.3 L199.6 49.4 L200.7 47.4 L201.7 45.4 L202.8 43.5 L203.9 41.5 L205.0 39.6 L206.1 37.6 L207.3 35.6 L208.4 33.7 L209.5 31.7 L210.7 29.8 L211.8 27.8 L213.0 25.8 L214.2 23.9 L215.3 21.9 L216.5 20.0 L217.7 18.0 L219.0 16.0 L220.2 14.1 L221.4 12.1 L222.7 10.2 L223.9 8.2"/>
<path class="ct" d="M210.4 223.8 L211.5 221.8 L212.7 219.9 L213.8 217.9 L215.0 216.0 L216.2 214.0 L217.5 212.0 L218.8 210.1 L220.1 208.1 L221.5 206.2 L222.9 204.2 L224.3 202.2 L225.8 200.3 L227.4 198.3 L229.0 196.4 L230.8 194.4 L232.6 192.4 L234.5 190.5 L236.6 188.5 L239.0 186.6 L241.6 184.6 L244.9 182.6 L249.9 180.7"/>
</g>
<rect x="45" y="18" width="197" height="196" fill="none" stroke="#000" stroke-opacity=".35" stroke-width=".6"/>
<rect class="bx" x="47.4" y="26.4" width="7.5" height="6.8"/>
<text class="lb" font-size="6.1" x="51.2" y="31.9">90</text>
<rect class="bx" x="61.4" y="65.2" width="7.5" height="6.8"/>
<text class="lb" font-size="6.1" x="65.1" y="70.7">80</text>
<rect class="bx" x="77.7" y="106.8" width="7.5" height="6.8"/>
<text class="lb" font-size="6.1" x="81.4" y="112.3">70</text>
<rect class="bx" x="114.8" y="106.6" width="7.5" height="6.8"/>
<text class="lb" font-size="6.1" x="118.6" y="112.1">60</text>
<rect class="bx" x="165.8" y="105.2" width="7.5" height="6.8"/>
<text class="lb" font-size="6.1" x="169.6" y="110.7">50</text>
<rect class="bx" x="225.4" y="191.6" width="7.5" height="6.8"/>
<text class="lb" font-size="6.1" x="229.1" y="197.1">40</text>
<path class="tk" d="M45.00 214.00v4.2M94.25 214.00v4.2M143.50 214.00v4.2M192.75 214.00v4.2M242.00 214.00v4.2M45.00 18.00h-4.2M45.00 42.50h-4.2M45.00 67.00h-4.2M45.00 91.50h-4.2M45.00 116.00h-4.2M45.00 140.50h-4.2M45.00 165.00h-4.2M45.00 189.50h-4.2M45.00 214.00h-4.2"/>
<g font-size="11">
<text x="45.0" y="231" text-anchor="middle">0.14</text>
<text x="94.2" y="231" text-anchor="middle">0.18</text>
<text x="143.5" y="231" text-anchor="middle">0.22</text>
<text x="192.8" y="231" text-anchor="middle">0.26</text>
<text x="242.0" y="231" text-anchor="middle">0.3</text>
<text x="38.8" y="21.7" text-anchor="end">84</text>
<text x="38.8" y="46.2" text-anchor="end">76</text>
<text x="38.8" y="70.7" text-anchor="end">68</text>
<text x="38.8" y="95.2" text-anchor="end">60</text>
<text x="38.8" y="119.7" text-anchor="end">52</text>
<text x="38.8" y="144.2" text-anchor="end">44</text>
<text x="38.8" y="168.7" text-anchor="end">36</text>
<text x="38.8" y="193.2" text-anchor="end">28</text>
<text x="38.8" y="217.7" text-anchor="end">20</text>
<text x="143.7" y="14.3" text-anchor="middle">T (min)</text>
<text x="143.5" y="244.8" text-anchor="middle">A: LT (mm)</text>
<text transform="translate(18.5 115.6) rotate(-90)" text-anchor="middle">B: ID (%)</text>
</g>
<text x="132.5" y="260.7" text-anchor="middle" font-size="12.2">(<tspan font-weight="bold">a</tspan>)</text>
<rect x="58" y="4.75" width="19.75" height="7.25" fill="url(#cb)" stroke="#333" stroke-width=".5"/>
<text x="53.1" y="10.5" text-anchor="end" font-size="6.4" style="fill:#22f;stroke:none">36</text>
<text x="80.4" y="10.5" font-size="6.4" style="fill:#f22;stroke:none">106</text>
<clipPath id="cpb"><rect x="337" y="18" width="197" height="196"/></clipPath>
<g clip-path="url(#cpb)">
<path class="ct" d="M352.6 223.8 L351.7 221.8 L350.9 219.9 L350.1 217.9 L349.3 216.0 L348.6 214.0 L347.8 212.0 L347.0 210.1 L346.2 208.1 L345.4 206.2 L344.7 204.2 L343.9 202.2 L343.1 200.3 L342.4 198.3 L341.6 196.4 L340.9 194.4 L340.1 192.4 L339.4 190.5 L338.7 188.5 L337.9 186.6 L337.2 184.6 L336.5 182.6 L335.7 180.7 L335.0 178.7 L334.3 176.8 L333.6 174.8 L332.9 172.8 L332.2 170.9 L331.5 168.9 L330.8 167.0 L330.1 165.0 L329.4 163.0 L328.7 161.1 L328.0 159.1 L327.4 157.2 L326.7 155.2 L326.0 153.2 L325.3 151.3 L324.7 149.3 L324.0 147.4 L323.4 145.4 L322.7 143.4 L322.1 141.5 L321.4 139.5 L320.8 137.6 L320.1 135.6 L319.5 133.6 L318.9 131.7 L318.2 129.7 L317.6 127.8 L317.0 125.8 L316.4 123.8 L315.8 121.9 L315.2 119.9 L314.5 118.0 L313.9 116.0 L313.3 114.0 L312.7 112.1 L312.1 110.1 L311.6 108.2 L311.0 106.2 L310.4 104.2 L309.8 102.3 L309.2 100.3 L308.6 98.4 L308.1 96.4 L307.5 94.4 L306.9 92.5 L306.4 90.5 L305.8 88.6 L305.3 86.6 L304.7 84.6 L304.2 82.7 L303.6 80.7 L303.1 78.8 L302.5 76.8 L302.0 74.8 L301.5 72.9 L300.9 70.9 L300.4 69.0 L299.9 67.0 L299.4 65.0 L298.8 63.1 L298.3 61.1 L297.8 59.2"/>
<path class="ct" d="M382.6 223.8 L381.8 221.8 L380.9 219.9 L380.0 217.9 L379.2 216.0 L378.3 214.0 L377.4 212.0 L376.6 210.1 L375.8 208.1 L374.9 206.2 L374.1 204.2 L373.3 202.2 L372.4 200.3 L371.6 198.3 L370.8 196.4 L370.0 194.4 L369.2 192.4 L368.4 190.5 L367.6 188.5 L366.8 186.6 L366.0 184.6 L365.2 182.6 L364.5 180.7 L363.7 178.7 L362.9 176.8 L362.2 174.8 L361.4 172.8 L360.7 170.9 L359.9 168.9 L359.2 167.0 L358.4 165.0 L357.7 163.0 L357.0 161.1 L356.2 159.1 L355.5 157.2 L354.8 155.2 L354.1 153.2 L353.4 151.3 L352.7 149.3 L352.0 147.4 L351.3 145.4 L350.6 143.4 L349.9 141.5 L349.2 139.5 L348.5 137.6 L347.8 135.6 L347.2 133.6 L346.5 131.7 L345.8 129.7 L345.2 127.8 L344.5 125.8 L343.9 123.8 L343.2 121.9 L342.6 119.9 L341.9 118.0 L341.3 116.0 L340.6 114.0 L340.0 112.1 L339.4 110.1 L338.8 108.2 L338.1 106.2 L337.5 104.2 L336.9 102.3 L336.3 100.3 L335.7 98.4 L335.1 96.4 L334.5 94.4 L333.9 92.5 L333.3 90.5 L332.7 88.6 L332.2 86.6 L331.6 84.6 L331.0 82.7 L330.4 80.7 L329.9 78.8 L329.3 76.8 L328.7 74.8 L328.2 72.9 L327.6 70.9 L327.1 69.0 L326.5 67.0 L326.0 65.0 L325.5 63.1 L324.9 61.1 L324.4 59.2 L323.9 57.2 L323.3 55.2 L322.8 53.3 L322.3 51.3 L321.8 49.4 L321.3 47.4 L320.8 45.4 L320.3 43.5 L319.8 41.5 L319.3 39.6 L318.8 37.6 L318.3 35.6 L317.8 33.7 L317.3 31.7 L316.8 29.8 L316.4 27.8 L315.9 25.8 L315.4 23.9 L314.9 21.9 L314.5 20.0 L314.0 18.0 L313.6 16.0 L313.1 14.1 L312.7 12.1 L312.2 10.2 L311.8 8.2"/>
<path class="ct" d="M418.1 223.8 L417.1 221.8 L416.1 219.9 L415.2 217.9 L414.2 216.0 L413.2 214.0 L412.3 212.0 L411.3 210.1 L410.4 208.1 L409.4 206.2 L408.5 204.2 L407.6 202.2 L406.6 200.3 L405.7 198.3 L404.8 196.4 L403.9 194.4 L403.0 192.4 L402.1 190.5 L401.2 188.5 L400.4 186.6 L399.5 184.6 L398.6 182.6 L397.8 180.7 L396.9 178.7 L396.1 176.8 L395.2 174.8 L394.4 172.8 L393.6 170.9 L392.7 168.9 L391.9 167.0 L391.1 165.0 L390.3 163.0 L389.5 161.1 L388.7 159.1 L387.9 157.2 L387.1 155.2 L386.4 153.2 L385.6 151.3 L384.8 149.3 L384.0 147.4 L383.3 145.4 L382.5 143.4 L381.8 141.5 L381.0 139.5 L380.3 137.6 L379.6 135.6 L378.8 133.6 L378.1 131.7 L377.4 129.7 L376.7 127.8 L375.9 125.8 L375.2 123.8 L374.5 121.9 L373.8 119.9 L373.2 118.0 L372.5 116.0 L371.8 114.0 L371.1 112.1 L370.4 110.1 L369.8 108.2 L369.1 106.2 L368.4 104.2 L367.8 102.3 L367.1 100.3 L366.5 98.4 L365.8 96.4 L365.2 94.4 L364.6 92.5 L363.9 90.5 L363.3 88.6 L362.7 86.6 L362.1 84.6 L361.5 82.7 L360.9 80.7 L360.3 78.8 L359.7 76.8 L359.1 74.8 L358.5 72.9 L357.9 70.9 L357.3 69.0 L356.7 67.0 L356.2 65.0 L355.6 63.1 L355.0 61.1 L354.5 59.2 L353.9 57.2 L353.3 55.2 L352.8 53.3 L352.3 51.3 L351.7 49.4 L351.2 47.4 L350.6 45.4 L350.1 43.5 L349.6 41.5 L349.1 39.6 L348.5 37.6 L348.0 35.6 L347.5 33.7 L347.0 31.7 L346.5 29.8 L346.0 27.8 L345.5 25.8 L345.0 23.9 L344.5 21.9 L344.1 20.0 L343.6 18.0 L343.1 16.0 L342.6 14.1 L342.2 12.1 L341.7 10.2 L341.3 8.2"/>
<path class="ct" d="M463.8 223.8 L462.5 221.8 L461.3 219.9 L460.1 217.9 L458.8 216.0 L457.6 214.0 L456.5 212.0 L455.3 210.1 L454.1 208.1 L453.0 206.2 L451.8 204.2 L450.7 202.2 L449.6 200.3 L448.5 198.3 L447.4 196.4 L446.3 194.4 L445.2 192.4 L444.2 190.5 L443.1 188.5 L442.1 186.6 L441.0 184.6 L440.0 182.6 L439.0 180.7 L438.0 178.7 L437.0 176.8 L436.0 174.8 L435.0 172.8 L434.0 170.9 L433.1 168.9 L432.1 167.0 L431.2 165.0 L430.2 163.0 L429.3 161.1 L428.4 159.1 L427.4 157.2 L426.5 155.2 L425.6 153.2 L424.7 151.3 L423.9 149.3 L423.0 147.4 L422.1 145.4 L421.2 143.4 L420.4 141.5 L419.5 139.5 L418.7 137.6 L417.8 135.6 L417.0 133.6 L416.2 131.7 L415.4 129.7 L414.6 127.8 L413.8 125.8 L413.0 123.8 L412.2 121.9 L411.4 119.9 L410.6 118.0 L409.8 116.0 L409.1 114.0 L408.3 112.1 L407.5 110.1 L406.8 108.2 L406.1 106.2 L405.3 104.2 L404.6 102.3 L403.9 100.3 L403.1 98.4 L402.4 96.4 L401.7 94.4 L401.0 92.5 L400.3 90.5 L399.6 88.6 L398.9 86.6 L398.3 84.6 L397.6 82.7 L396.9 80.7 L396.3 78.8 L395.6 76.8 L394.9 74.8 L394.3 72.9 L393.7 70.9 L393.0 69.0 L392.4 67.0 L391.8 65.0 L391.1 63.1 L390.5 61.1 L389.9 59.2 L389.3 57.2 L388.7 55.2 L388.1 53.3 L387.5 51.3 L386.9 49.4 L386.4 47.4 L385.8 45.4 L385.2 43.5 L384.7 41.5 L384.1 39.6 L383.5 37.6 L383.0 35.6 L382.4 33.7 L381.9 31.7 L381.4 29.8 L380.8 27.8 L380.3 25.8 L379.8 23.9 L379.3 21.9 L378.7 20.0 L378.2 18.0 L377.7 16.0 L377.2 14.1 L376.7 12.1 L376.3 10.2 L375.8 8.2"/>
<path class="ct" d="M547.8 223.8 L544.5 221.8 L541.4 219.9 L538.5 217.9 L535.8 216.0 L533.2 214.0 L530.7 212.0 L528.3 210.1 L526.0 208.1 L523.8 206.2 L521.7 204.2 L519.6 202.2 L517.6 200.3 L515.7 198.3 L513.8 196.4 L511.9 194.4 L510.1 192.4 L508.4 190.5 L506.7 188.5 L505.0 186.6 L503.3 184.6 L501.7 182.6 L500.1 180.7 L498.6 178.7 L497.1 176.8 L495.6 174.8 L494.1 172.8 L492.7 170.9 L491.2 168.9 L489.9 167.0 L488.5 165.0 L487.1 163.0 L485.8 161.1 L484.5 159.1 L483.2 157.2 L481.9 155.2 L480.7 153.2 L479.4 151.3 L478.2 149.3 L477.0 147.4 L475.8 145.4 L474.7 143.4 L473.5 141.5 L472.4 139.5 L471.3 137.6 L470.1 135.6 L469.0 133.6 L468.0 131.7 L466.9 129.7 L465.8 127.8 L464.8 125.8 L463.8 123.8 L462.7 121.9 L461.7 119.9 L460.7 118.0 L459.8 116.0 L458.8 114.0 L457.8 112.1 L456.9 110.1 L455.9 108.2 L455.0 106.2 L454.1 104.2 L453.2 102.3 L452.3 100.3 L451.4 98.4 L450.5 96.4 L449.6 94.4 L448.8 92.5 L447.9 90.5 L447.1 88.6 L446.3 86.6 L445.4 84.6 L444.6 82.7 L443.8 80.7 L443.0 78.8 L442.2 76.8 L441.5 74.8 L440.7 72.9 L439.9 70.9 L439.2 69.0 L438.4 67.0 L437.7 65.0 L436.9 63.1 L436.2 61.1 L435.5 59.2 L434.8 57.2 L434.1 55.2 L433.4 53.3 L432.7 51.3 L432.0 49.4 L431.4 47.4 L430.7 45.4 L430.0 43.5 L429.4 41.5 L428.7 39.6 L428.1 37.6 L427.5 35.6 L426.9 33.7 L426.2 31.7 L425.6 29.8 L425.0 27.8 L424.4 25.8 L423.8 23.9 L423.3 21.9 L422.7 20.0 L422.1 18.0 L421.6 16.0 L421.0 14.1 L420.5 12.1 L419.9 10.2 L419.4 8.2"/>
<path class="ct" d="M550.1 82.7 L544.9 80.7 L541.1 78.8 L537.9 76.8 L535.1 74.8 L532.6 72.9 L530.3 70.9 L528.1 69.0 L526.1 67.0 L524.3 65.0 L522.5 63.1 L520.7 61.1 L519.1 59.2 L517.5 57.2 L516.0 55.2 L514.6 53.3 L513.2 51.3 L511.8 49.4 L510.5 47.4 L509.2 45.4 L508.0 43.5 L506.8 41.5 L505.6 39.6 L504.5 37.6 L503.4 35.6 L502.3 33.7 L501.2 31.7 L500.2 29.8 L499.2 27.8 L498.2 25.8 L497.3 23.9 L496.3 21.9 L495.4 20.0 L494.5 18.0 L493.7 16.0 L492.8 14.1 L492.0 12.1 L491.2 10.2 L490.4 8.2"/>
</g>
<rect x="337" y="18" width="197" height="196" fill="none" stroke="#000" stroke-opacity=".35" stroke-width=".6"/>
<rect class="bx" x="337.8" y="191.6" width="7.5" height="6.8"/>
<text class="lb" font-size="6.1" x="341.6" y="197.1">90</text>
<rect class="bx" x="352.3" y="153.6" width="7.5" height="6.8"/>
<text class="lb" font-size="6.1" x="356.1" y="159.1">80</text>
<rect class="bx" x="369.8" y="114.2" width="7.5" height="6.8"/>
<text class="lb" font-size="6.1" x="373.5" y="119.7">70</text>
<rect class="bx" x="407.7" y="115.7" width="7.5" height="6.8"/>
<text class="lb" font-size="6.1" x="411.5" y="121.2">60</text>
<rect class="bx" x="460.5" y="120.1" width="7.5" height="6.8"/>
<text class="lb" font-size="6.1" x="464.3" y="125.6">50</text>
<rect class="bx" x="505.9" y="41.6" width="7.5" height="6.8"/>
<text class="lb" font-size="6.1" x="509.6" y="47.1">40</text>
<path class="tk" d="M337.00 214.00v4.2M386.25 214.00v4.2M435.50 214.00v4.2M484.75 214.00v4.2M534.00 214.00v4.2M337.00 18.00h-4.2M337.00 67.00h-4.2M337.00 116.00h-4.2M337.00 165.00h-4.2M337.00 214.00h-4.2"/>
<g font-size="11">
<text x="337.0" y="231" text-anchor="middle">0.14</text>
<text x="386.2" y="231" text-anchor="middle">0.18</text>
<text x="435.5" y="231" text-anchor="middle">0.22</text>
<text x="484.8" y="231" text-anchor="middle">0.26</text>
<text x="534.0" y="231" text-anchor="middle">0.3</text>
<text x="330.7" y="21.7" text-anchor="end">75</text>
<text x="330.7" y="70.7" text-anchor="end">68</text>
<text x="330.7" y="119.7" text-anchor="end">61</text>
<text x="330.7" y="168.7" text-anchor="end">54</text>
<text x="330.7" y="217.7" text-anchor="end">47</text>
<text x="435.7" y="14.3" text-anchor="middle">T (min)</text>
<text x="435.5" y="244.8" text-anchor="middle">A: LT (mm)</text>
<text transform="translate(310.5 115.6) rotate(-90)" text-anchor="middle">C: PS (mm/s)</text>
</g>
<text x="421.3" y="260.7" text-anchor="middle" font-size="12.2">(<tspan font-weight="bold">b</tspan>)</text>
<rect x="350" y="4.75" width="20" height="7.25" fill="url(#cb)" stroke="#333" stroke-width=".5"/>
<text x="345" y="10.5" text-anchor="end" font-size="6.4" style="fill:#22f;stroke:none">36</text>
<text x="372.3" y="10.5" font-size="6.4" style="fill:#f22;stroke:none">106</text>
<clipPath id="cpc"><rect x="40" y="290.5" width="205" height="205.5"/></clipPath>
<g clip-path="url(#cpc)">
<path class="ct" d="M-0.9 469.3 L-0.2 467.2 L0.5 465.2 L1.2 463.1 L1.9 461.1 L2.6 459.0 L3.4 457.0 L4.1 454.9 L4.8 452.8 L5.5 450.8 L6.2 448.7 L7.0 446.7 L7.7 444.6 L8.4 442.6 L9.1 440.5 L9.9 438.5 L10.6 436.4 L11.3 434.4 L12.0 432.3 L12.8 430.2 L13.5 428.2 L14.2 426.1 L15.0 424.1 L15.7 422.0 L16.4 420.0 L17.2 417.9 L17.9 415.9 L18.7 413.8 L19.4 411.7 L20.1 409.7 L20.9 407.6 L21.6 405.6 L22.4 403.5 L23.1 401.5 L23.8 399.4 L24.6 397.4 L25.3 395.3 L26.1 393.2 L26.8 391.2 L27.6 389.1 L28.3 387.1 L29.1 385.0 L29.8 383.0 L30.6 380.9 L31.4 378.9 L32.1 376.8 L32.9 374.8 L33.6 372.7 L34.4 370.6 L35.2 368.6 L35.9 366.5 L36.7 364.5 L37.4 362.4 L38.2 360.4 L39.0 358.3 L39.7 356.3 L40.5 354.2 L41.3 352.1 L42.1 350.1 L42.8 348.0 L43.6 346.0 L44.4 343.9 L45.1 341.9 L45.9 339.8 L46.7 337.8 L47.5 335.7 L48.3 333.7 L49.0 331.6 L49.8 329.5 L50.6 327.5 L51.4 325.4 L52.2 323.4 L53.0 321.3 L53.8 319.3 L54.5 317.2 L55.3 315.2 L56.1 313.1 L56.9 311.0 L57.7 309.0 L58.5 306.9 L59.3 304.9 L60.1 302.8 L60.9 300.8 L61.7 298.7 L62.5 296.7 L63.3 294.6 L64.1 292.6 L64.9 290.5 L65.7 288.4 L66.5 286.4 L67.3 284.3 L68.1 282.3 L68.9 280.2"/>
<path class="ct" d="M9.5 506.3 L10.2 504.2 L10.9 502.2 L11.6 500.1 L12.4 498.1 L13.1 496.0 L13.8 493.9 L14.5 491.9 L15.2 489.8 L15.9 487.8 L16.6 485.7 L17.3 483.7 L18.1 481.6 L18.8 479.6 L19.5 477.5 L20.2 475.4 L20.9 473.4 L21.7 471.3 L22.4 469.3 L23.1 467.2 L23.8 465.2 L24.6 463.1 L25.3 461.1 L26.0 459.0 L26.7 457.0 L27.5 454.9 L28.2 452.8 L28.9 450.8 L29.7 448.7 L30.4 446.7 L31.1 444.6 L31.9 442.6 L32.6 440.5 L33.4 438.5 L34.1 436.4 L34.8 434.4 L35.6 432.3 L36.3 430.2 L37.1 428.2 L37.8 426.1 L38.6 424.1 L39.3 422.0 L40.1 420.0 L40.8 417.9 L41.6 415.9 L42.3 413.8 L43.1 411.7 L43.8 409.7 L44.6 407.6 L45.4 405.6 L46.1 403.5 L46.9 401.5 L47.6 399.4 L48.4 397.4 L49.2 395.3 L49.9 393.2 L50.7 391.2 L51.5 389.1 L52.2 387.1 L53.0 385.0 L53.8 383.0 L54.5 380.9 L55.3 378.9 L56.1 376.8 L56.9 374.8 L57.6 372.7 L58.4 370.6 L59.2 368.6 L60.0 366.5 L60.8 364.5 L61.6 362.4 L62.3 360.4 L63.1 358.3 L63.9 356.3 L64.7 354.2 L65.5 352.1 L66.3 350.1 L67.1 348.0 L67.9 346.0 L68.7 343.9 L69.5 341.9 L70.2 339.8 L71.0 337.8 L71.8 335.7 L72.6 333.7 L73.5 331.6 L74.3 329.5 L75.1 327.5 L75.9 325.4 L76.7 323.4 L77.5 321.3 L78.3 319.3 L79.1 317.2 L79.9 315.2 L80.7 313.1 L81.5 311.0 L82.4 309.0 L83.2 306.9 L84.0 304.9 L84.8 302.8 L85.6 300.8 L86.5 298.7 L87.3 296.7 L88.1 294.6 L88.9 292.6 L89.8 290.5 L90.6 288.4 L91.4 286.4 L92.3 284.3 L93.1 282.3 L93.9 280.2"/>
<path class="ct" d="M54.0 506.3 L54.7 504.2 L55.4 502.2 L56.2 500.1 L56.9 498.1 L57.6 496.0 L58.4 493.9 L59.1 491.9 L59.9 489.8 L60.6 487.8 L61.4 485.7 L62.1 483.7 L62.8 481.6 L63.6 479.6 L64.3 477.5 L65.1 475.4 L65.9 473.4 L66.6 471.3 L67.4 469.3 L68.1 467.2 L68.9 465.2 L69.6 463.1 L70.4 461.1 L71.2 459.0 L71.9 457.0 L72.7 454.9 L73.5 452.8 L74.2 450.8 L75.0 448.7 L75.8 446.7 L76.5 444.6 L77.3 442.6 L78.1 440.5 L78.9 438.5 L79.6 436.4 L80.4 434.4 L81.2 432.3 L82.0 430.2 L82.8 428.2 L83.6 426.1 L84.3 424.1 L85.1 422.0 L85.9 420.0 L86.7 417.9 L87.5 415.9 L88.3 413.8 L89.1 411.7 L89.9 409.7 L90.7 407.6 L91.5 405.6 L92.3 403.5 L93.1 401.5 L93.9 399.4 L94.7 397.4 L95.5 395.3 L96.3 393.2 L97.2 391.2 L98.0 389.1 L98.8 387.1 L99.6 385.0 L100.4 383.0 L101.2 380.9 L102.1 378.9 L102.9 376.8 L103.7 374.8 L104.5 372.7 L105.4 370.6 L106.2 368.6 L107.0 366.5 L107.9 364.5 L108.7 362.4 L109.5 360.4 L110.4 358.3 L111.2 356.3 L112.0 354.2 L112.9 352.1 L113.7 350.1 L114.6 348.0 L115.4 346.0 L116.3 343.9 L117.1 341.9 L118.0 339.8 L118.8 337.8 L119.7 335.7 L120.6 333.7 L121.4 331.6 L122.3 329.5 L123.1 327.5 L124.0 325.4 L124.9 323.4 L125.7 321.3 L126.6 319.3 L127.5 317.2 L128.4 315.2 L129.2 313.1 L130.1 311.0 L131.0 309.0 L131.9 306.9 L132.8 304.9 L133.7 302.8 L134.5 300.8 L135.4 298.7 L136.3 296.7 L137.2 294.6 L138.1 292.6 L139.0 290.5 L139.9 288.4 L140.8 286.4 L141.7 284.3 L142.6 282.3 L143.5 280.2"/>
<path class="ct" d="M164.1 506.3 L165.0 504.2 L165.9 502.2 L166.9 500.1 L167.8 498.1 L168.8 496.0 L169.7 493.9 L170.6 491.9 L171.6 489.8 L172.6 487.8 L173.5 485.7 L174.5 483.7 L175.5 481.6 L176.4 479.6 L177.4 477.5 L178.4 475.4 L179.4 473.4 L180.4 471.3 L181.4 469.3 L182.4 467.2 L183.4 465.2 L184.4 463.1 L185.4 461.1 L186.5 459.0 L187.5 457.0 L188.5 454.9 L189.6 452.8 L190.6 450.8 L191.7 448.7 L192.8 446.7 L193.8 444.6 L194.9 442.6 L196.0 440.5 L197.1 438.5 L198.2 436.4 L199.3 434.4 L200.4 432.3 L201.5 430.2 L202.7 428.2 L203.8 426.1 L204.9 424.1 L206.1 422.0 L207.2 420.0 L208.4 417.9 L209.6 415.9 L210.8 413.8 L212.0 411.7 L213.2 409.7 L214.4 407.6 L215.6 405.6 L216.9 403.5 L218.1 401.5 L219.4 399.4 L220.6 397.4 L221.9 395.3 L223.2 393.2 L224.5 391.2 L225.8 389.1 L227.2 387.1 L228.5 385.0 L229.9 383.0 L231.2 380.9 L232.6 378.9 L234.1 376.8 L235.5 374.8 L236.9 372.7 L238.4 370.6 L239.9 368.6 L241.4 366.5 L242.9 364.5 L244.5 362.4 L246.1 360.4 L247.7 358.3 L249.3 356.3 L251.0 354.2 L252.7 352.1 L254.5 350.1 L256.2 348.0 L258.1 346.0 L260.0 343.9 L261.9 341.9 L263.9 339.8 L266.0 337.8 L268.1 335.7 L270.4 333.7 L272.7 331.6 L275.2 329.5 L277.9 327.5 L280.7 325.4 L283.9 323.4"/>
</g>
<rect x="40" y="290.5" width="205" height="205.5" fill="none" stroke="#000" stroke-opacity=".35" stroke-width=".6"/>
<rect class="bx" x="46.4" y="316.5" width="13.3" height="7.7"/>
<text class="lb" font-size="6.6" x="53.1" y="322.6">0.33</text>
<rect class="bx" x="59.8" y="349.4" width="9.8" height="7.7"/>
<text class="lb" font-size="6.6" x="64.7" y="355.5">0.3</text>
<rect class="bx" x="91.4" y="384.2" width="13.3" height="7.7"/>
<text class="lb" font-size="6.6" x="98.0" y="390.3">0.25</text>
<rect class="bx" x="199.0" y="417.8" width="13.3" height="7.7"/>
<text class="lb" font-size="6.6" x="205.7" y="423.9">0.17</text>
<path class="tk" d="M40.00 496.00v4.4M91.25 496.00v4.4M142.50 496.00v4.4M193.75 496.00v4.4M245.00 496.00v4.4M40.00 290.50h-4.4M40.00 316.19h-4.4M40.00 341.88h-4.4M40.00 367.56h-4.4M40.00 393.25h-4.4M40.00 418.94h-4.4M40.00 444.62h-4.4M40.00 470.31h-4.4M40.00 496.00h-4.4"/>
<g font-size="11.5">
<text x="40.0" y="513.4" text-anchor="middle">0.14</text>
<text x="91.2" y="513.4" text-anchor="middle">0.18</text>
<text x="142.5" y="513.4" text-anchor="middle">0.22</text>
<text x="193.8" y="513.4" text-anchor="middle">0.26</text>
<text x="245.0" y="513.4" text-anchor="middle">0.3</text>
<text x="33.2" y="294.4" text-anchor="end">84</text>
<text x="33.2" y="320.1" text-anchor="end">76</text>
<text x="33.2" y="345.8" text-anchor="end">68</text>
<text x="33.2" y="371.4" text-anchor="end">60</text>
<text x="33.2" y="397.1" text-anchor="end">52</text>
<text x="33.2" y="422.8" text-anchor="end">44</text>
<text x="33.2" y="448.5" text-anchor="end">36</text>
<text x="33.2" y="474.2" text-anchor="end">28</text>
<text x="33.2" y="499.9" text-anchor="end">20</text>
<text x="142.7" y="287.2" text-anchor="middle">E (kwh)</text>
<text x="142.5" y="527.4" text-anchor="middle">A: LT (mm)</text>
<text transform="translate(12.5 392.9) rotate(-90)" text-anchor="middle">B: ID (%)</text>
</g>
<text x="132.6" y="543.4" text-anchor="middle" font-size="12.2">(<tspan font-weight="bold">c</tspan>)</text>
<rect x="54" y="276.7" width="20.8" height="7.6" fill="url(#cb)" stroke="#333" stroke-width=".5"/>
<text x="51.8" y="282.7" text-anchor="end" font-size="6.7" style="fill:#22f;stroke:none">0.14</text>
<text x="76.4" y="282.7" font-size="6.7" style="fill:#f22;stroke:none">0.41</text>
<clipPath id="cpd"><rect x="328" y="290.5" width="205.5" height="205.5"/></clipPath>
<g clip-path="url(#cpd)">
<path class="ct" d="M358.5 506.3 L357.6 504.2 L356.8 502.2 L356.0 500.1 L355.1 498.1 L354.3 496.0 L353.5 493.9 L352.6 491.9 L351.8 489.8 L351.0 487.8 L350.2 485.7 L349.3 483.7 L348.5 481.6 L347.7 479.6 L346.9 477.5 L346.1 475.4 L345.3 473.4 L344.5 471.3 L343.7 469.3 L342.9 467.2 L342.1 465.2 L341.3 463.1 L340.6 461.1 L339.8 459.0 L339.0 457.0 L338.2 454.9 L337.4 452.8 L336.7 450.8 L335.9 448.7 L335.1 446.7 L334.4 444.6 L333.6 442.6 L332.9 440.5 L332.1 438.5 L331.3 436.4 L330.6 434.4 L329.8 432.3 L329.1 430.2 L328.4 428.2 L327.6 426.1 L326.9 424.1 L326.1 422.0 L325.4 420.0 L324.7 417.9 L324.0 415.9 L323.2 413.8 L322.5 411.7 L321.8 409.7 L321.1 407.6 L320.4 405.6 L319.6 403.5 L318.9 401.5 L318.2 399.4 L317.5 397.4 L316.8 395.3 L316.1 393.2 L315.4 391.2 L314.7 389.1 L314.0 387.1 L313.3 385.0 L312.6 383.0 L312.0 380.9 L311.3 378.9 L310.6 376.8 L309.9 374.8 L309.2 372.7 L308.6 370.6 L307.9 368.6 L307.2 366.5 L306.5 364.5 L305.9 362.4 L305.2 360.4 L304.5 358.3 L303.9 356.3 L303.2 354.2 L302.6 352.1 L301.9 350.1 L301.3 348.0 L300.6 346.0 L300.0 343.9 L299.3 341.9 L298.7 339.8 L298.1 337.8 L297.4 335.7 L296.8 333.7 L296.2 331.6 L295.5 329.5 L294.9 327.5 L294.3 325.4 L293.6 323.4 L293.0 321.3 L292.4 319.3 L291.8 317.2 L291.2 315.2 L290.6 313.1 L289.9 311.0 L289.3 309.0 L288.7 306.9 L288.1 304.9 L287.5 302.8 L286.9 300.8"/>
<path class="ct" d="M417.1 506.3 L416.1 504.2 L415.1 502.2 L414.2 500.1 L413.2 498.1 L412.2 496.0 L411.3 493.9 L410.3 491.9 L409.4 489.8 L408.4 487.8 L407.5 485.7 L406.6 483.7 L405.6 481.6 L404.7 479.6 L403.8 477.5 L402.9 475.4 L401.9 473.4 L401.0 471.3 L400.1 469.3 L399.2 467.2 L398.3 465.2 L397.4 463.1 L396.5 461.1 L395.7 459.0 L394.8 457.0 L393.9 454.9 L393.0 452.8 L392.2 450.8 L391.3 448.7 L390.4 446.7 L389.6 444.6 L388.7 442.6 L387.9 440.5 L387.0 438.5 L386.2 436.4 L385.3 434.4 L384.5 432.3 L383.6 430.2 L382.8 428.2 L382.0 426.1 L381.2 424.1 L380.3 422.0 L379.5 420.0 L378.7 417.9 L377.9 415.9 L377.1 413.8 L376.3 411.7 L375.5 409.7 L374.7 407.6 L373.9 405.6 L373.1 403.5 L372.3 401.5 L371.6 399.4 L370.8 397.4 L370.0 395.3 L369.2 393.2 L368.5 391.2 L367.7 389.1 L366.9 387.1 L366.2 385.0 L365.4 383.0 L364.7 380.9 L363.9 378.9 L363.2 376.8 L362.4 374.8 L361.7 372.7 L360.9 370.6 L360.2 368.6 L359.5 366.5 L358.7 364.5 L358.0 362.4 L357.3 360.4 L356.6 358.3 L355.9 356.3 L355.1 354.2 L354.4 352.1 L353.7 350.1 L353.0 348.0 L352.3 346.0 L351.6 343.9 L350.9 341.9 L350.2 339.8 L349.5 337.8 L348.9 335.7 L348.2 333.7 L347.5 331.6 L346.8 329.5 L346.1 327.5 L345.5 325.4 L344.8 323.4 L344.1 321.3 L343.5 319.3 L342.8 317.2 L342.1 315.2 L341.5 313.1 L340.8 311.0 L340.2 309.0 L339.5 306.9 L338.9 304.9 L338.2 302.8 L337.6 300.8 L337.0 298.7 L336.3 296.7 L335.7 294.6 L335.1 292.6 L334.4 290.5 L333.8 288.4 L333.2 286.4 L332.6 284.3 L332.0 282.3 L331.3 280.2"/>
<path class="ct" d="M496.7 506.3 L495.3 504.2 L493.9 502.2 L492.5 500.1 L491.1 498.1 L489.7 496.0 L488.4 493.9 L487.0 491.9 L485.7 489.8 L484.4 487.8 L483.1 485.7 L481.8 483.7 L480.5 481.6 L479.3 479.6 L478.0 477.5 L476.8 475.4 L475.5 473.4 L474.3 471.3 L473.1 469.3 L471.9 467.2 L470.7 465.2 L469.5 463.1 L468.3 461.1 L467.2 459.0 L466.0 457.0 L464.9 454.9 L463.7 452.8 L462.6 450.8 L461.5 448.7 L460.4 446.7 L459.3 444.6 L458.2 442.6 L457.1 440.5 L456.0 438.5 L454.9 436.4 L453.9 434.4 L452.8 432.3 L451.8 430.2 L450.7 428.2 L449.7 426.1 L448.6 424.1 L447.6 422.0 L446.6 420.0 L445.6 417.9 L444.6 415.9 L443.6 413.8 L442.6 411.7 L441.6 409.7 L440.6 407.6 L439.7 405.6 L438.7 403.5 L437.8 401.5 L436.8 399.4 L435.9 397.4 L434.9 395.3 L434.0 393.2 L433.1 391.2 L432.1 389.1 L431.2 387.1 L430.3 385.0 L429.4 383.0 L428.5 380.9 L427.6 378.9 L426.7 376.8 L425.8 374.8 L424.9 372.7 L424.1 370.6 L423.2 368.6 L422.3 366.5 L421.5 364.5 L420.6 362.4 L419.8 360.4 L418.9 358.3 L418.1 356.3 L417.2 354.2 L416.4 352.1 L415.6 350.1 L414.8 348.0 L414.0 346.0 L413.1 343.9 L412.3 341.9 L411.5 339.8 L410.7 337.8 L409.9 335.7 L409.2 333.7 L408.4 331.6 L407.6 329.5 L406.8 327.5 L406.0 325.4 L405.3 323.4 L404.5 321.3 L403.8 319.3 L403.0 317.2 L402.3 315.2 L401.5 313.1 L400.8 311.0 L400.0 309.0 L399.3 306.9 L398.6 304.9 L397.8 302.8 L397.1 300.8 L396.4 298.7 L395.7 296.7 L395.0 294.6 L394.3 292.6 L393.6 290.5 L392.9 288.4 L392.2 286.4 L391.5 284.3 L390.8 282.3 L390.1 280.2"/>
<path class="ct" d="M568.8 438.5 L562.9 436.4 L558.4 434.4 L554.5 432.3 L551.1 430.2 L548.0 428.2 L545.1 426.1 L542.4 424.1 L539.9 422.0 L537.5 420.0 L535.2 417.9 L533.0 415.9 L530.8 413.8 L528.8 411.7 L526.8 409.7 L524.9 407.6 L523.0 405.6 L521.2 403.5 L519.4 401.5 L517.7 399.4 L516.0 397.4 L514.3 395.3 L512.7 393.2 L511.1 391.2 L509.5 389.1 L508.0 387.1 L506.5 385.0 L505.0 383.0 L503.6 380.9 L502.2 378.9 L500.7 376.8 L499.4 374.8 L498.0 372.7 L496.7 370.6 L495.3 368.6 L494.0 366.5 L492.8 364.5 L491.5 362.4 L490.2 360.4 L489.0 358.3 L487.8 356.3 L486.6 354.2 L485.4 352.1 L484.2 350.1 L483.0 348.0 L481.9 346.0 L480.8 343.9 L479.6 341.9 L478.5 339.8 L477.4 337.8 L476.3 335.7 L475.3 333.7 L474.2 331.6 L473.2 329.5 L472.1 327.5 L471.1 325.4 L470.1 323.4 L469.1 321.3 L468.1 319.3 L467.1 317.2 L466.1 315.2 L465.1 313.1 L464.1 311.0 L463.2 309.0 L462.3 306.9 L461.3 304.9 L460.4 302.8 L459.5 300.8 L458.6 298.7 L457.7 296.7 L456.8 294.6 L455.9 292.6 L455.0 290.5 L454.1 288.4 L453.3 286.4 L452.4 284.3 L451.6 282.3 L450.7 280.2"/>
</g>
<rect x="328" y="290.5" width="205.5" height="205.5" fill="none" stroke="#000" stroke-opacity=".35" stroke-width=".6"/>
<rect class="bx" x="334.0" y="455.9" width="13.3" height="7.7"/>
<text class="lb" font-size="6.6" x="340.6" y="462.0">0.33</text>
<rect class="bx" x="360.8" y="389.0" width="17.4" height="7.7"/>
<text class="lb" font-size="6.6" x="369.5" y="395.1">0.267</text>
<rect class="bx" x="428.5" y="390.3" width="13.3" height="7.7"/>
<text class="lb" font-size="6.6" x="435.1" y="396.4">0.21</text>
<rect class="bx" x="481.0" y="350.9" width="13.3" height="7.7"/>
<text class="lb" font-size="6.6" x="487.6" y="357.0">0.17</text>
<path class="tk" d="M328.00 496.00v4.4M379.38 496.00v4.4M430.75 496.00v4.4M482.12 496.00v4.4M533.50 496.00v4.4M328.00 290.50h-4.4M328.00 341.88h-4.4M328.00 393.25h-4.4M328.00 444.62h-4.4M328.00 496.00h-4.4"/>
<g font-size="11.5">
<text x="328.0" y="513.4" text-anchor="middle">0.14</text>
<text x="379.4" y="513.4" text-anchor="middle">0.18</text>
<text x="430.8" y="513.4" text-anchor="middle">0.22</text>
<text x="482.1" y="513.4" text-anchor="middle">0.26</text>
<text x="533.5" y="513.4" text-anchor="middle">0.3</text>
<text x="321" y="294.4" text-anchor="end">75</text>
<text x="321" y="345.8" text-anchor="end">68</text>
<text x="321" y="397.1" text-anchor="end">61</text>
<text x="321" y="448.5" text-anchor="end">54</text>
<text x="321" y="499.9" text-anchor="end">47</text>
<text x="430.9" y="287.2" text-anchor="middle">E (kwh)</text>
<text x="430.8" y="527.4" text-anchor="middle">A: LT (mm)</text>
<text transform="translate(300.7 392.9) rotate(-90)" text-anchor="middle">C: PS (mm/s)</text>
</g>
<text x="421.5" y="543.4" text-anchor="middle" font-size="12.2">(<tspan font-weight="bold">d</tspan>)</text>
<rect x="342.6" y="276.7" width="20.6" height="7.6" fill="url(#cb)" stroke="#333" stroke-width=".5"/>
<text x="340.2" y="282.7" text-anchor="end" font-size="6.7" style="fill:#22f;stroke:none">0.14</text>
<text x="364.8" y="282.7" font-size="6.7" style="fill:#f22;stroke:none">0.41</text>
</svg>
</body></html>
